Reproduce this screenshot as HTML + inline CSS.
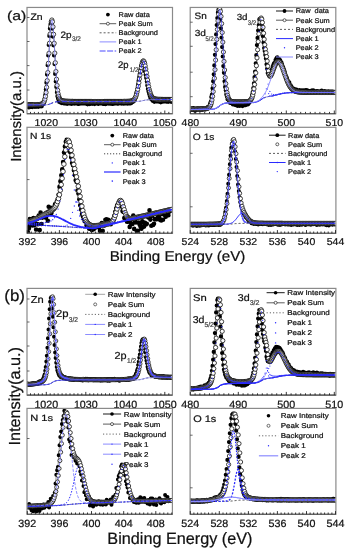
<!DOCTYPE html>
<html><head><meta charset="utf-8"><style>
html,body{margin:0;padding:0;background:#fff;}
svg{display:block;filter:blur(0.35px);}
text{font-family:'Liberation Sans',Arial,sans-serif;fill:#111;stroke:#111;stroke-width:0.22px;text-rendering:geometricPrecision;}
</style></head><body>
<svg width="349" height="550" viewBox="0 0 349 550">
<rect width="349" height="550" fill="#fff"/>
<clipPath id="caz"><rect x="27" y="7.45" width="145.5" height="106.25"/></clipPath><g clip-path="url(#caz)"><path d="M27.5 105 28.1 105 28.7 105 29.2 105 29.8 105 30.4 105 31 105 31.6 105 32.1 105 32.7 105 33.3 105 33.9 105 34.5 105 35 105 35.6 105 36.2 105 36.8 105 37.4 105 37.9 105 38.5 105 39.1 105 39.7 105 40.3 105 40.8 105 41.4 105 42 105 42.6 105 43.2 105 43.7 105 44.3 104.9 44.9 104.9 45.5 104.9 46.1 104.9 46.6 104.8 47.2 104.7 47.8 104.6 48.4 104.5 49 104.3 49.5 104.1 50.1 103.9 50.7 103.7 51.3 103.4 51.9 103.2 52.4 102.9 53 102.7 53.6 102.4 54.2 102.3 54.8 102.1 55.3 102 55.9 101.9 56.5 101.8 57.1 101.8 57.7 101.7 58.2 101.7 58.8 101.7 59.4 101.7 60 101.7 60.6 101.7 61.1 101.7 61.7 101.7 62.3 101.6 62.9 101.6 63.5 101.6 64 101.6 64.6 101.6 65.2 101.6 65.8 101.6 66.4 101.6 66.9 101.6 67.5 101.6 68.1 101.6 68.7 101.6 69.3 101.6 69.8 101.6 70.4 101.6 71 101.6 71.6 101.6 72.2 101.6 72.7 101.6 73.3 101.6 73.9 101.6 74.5 101.6 75.1 101.6 75.6 101.6 76.2 101.6 76.8 101.6 77.4 101.6 78 101.6 78.5 101.6 79.1 101.6 79.7 101.6 80.3 101.6 80.9 101.6 81.4 101.6 82 101.6 82.6 101.6 83.2 101.6 83.8 101.6 84.3 101.6 84.9 101.6 85.5 101.6 86.1 101.6 86.7 101.6 87.2 101.6 87.8 101.6 88.4 101.6 89 101.6 89.6 101.6 90.1 101.6 90.7 101.6 91.3 101.6 91.9 101.6 92.5 101.6 93 101.6 93.6 101.6 94.2 101.6 94.8 101.6 95.4 101.6 95.9 101.6 96.5 101.6 97.1 101.6 97.7 101.6 98.3 101.6 98.8 101.6 99.4 101.6 100 101.6 100.6 101.6 101.2 101.6 101.7 101.6 102.3 101.6 102.9 101.6 103.5 101.6 104.1 101.6 104.6 101.6 105.2 101.6 105.8 101.6 106.4 101.6 107 101.6 107.5 101.6 108.1 101.6 108.7 101.6 109.3 101.6 109.9 101.6 110.4 101.6 111 101.6 111.6 101.6 112.2 101.6 112.8 101.6 113.3 101.6 113.9 101.6 114.5 101.6 115.1 101.6 115.7 101.6 116.2 101.6 116.8 101.6 117.4 101.6 118 101.6 118.6 101.6 119.1 101.6 119.7 101.6 120.3 101.6 120.9 101.6 121.5 101.6 122 101.6 122.6 101.6 123.2 101.6 123.8 101.6 124.4 101.6 124.9 101.6 125.5 101.6 126.1 101.6 126.7 101.6 127.3 101.6 127.8 101.6 128.4 101.6 129 101.6 129.6 101.6 130.2 101.6 130.7 101.6 131.3 101.6 131.9 101.6 132.5 101.6 133.1 101.6 133.6 101.6 134.2 101.6 134.8 101.6 135.4 101.6 136 101.5 136.5 101.5 137.1 101.5 137.7 101.4 138.3 101.4 138.9 101.3 139.4 101.3 140 101.2 140.6 101.1 141.2 101 141.8 100.9 142.3 100.7 142.9 100.6 143.5 100.5 144.1 100.4 144.7 100.3 145.2 100.2 145.8 100.1 146.4 100 147 99.9 147.6 99.8 148.1 99.8 148.7 99.7 149.3 99.7 149.9 99.7 150.5 99.7 151 99.6 151.6 99.6 152.2 99.6 152.8 99.6 153.4 99.6 153.9 99.6 154.5 99.6 155.1 99.6 155.7 99.6 156.3 99.6 156.8 99.6 157.4 99.6 158 99.6 158.6 99.6 159.2 99.6 159.7 99.6 160.3 99.6 160.9 99.6 161.5 99.6 162.1 99.6 162.6 99.6 163.2 99.6 163.8 99.6 164.4 99.6 165 99.6 165.5 99.6 166.1 99.6 166.7 99.6 167.3 99.6 167.9 99.6 168.4 99.6 169 99.6 169.6 99.6 170.2 99.6 170.8 99.6 171.3 99.6 171.9 99.6" fill="none" stroke="#222" stroke-width="0.8" stroke-dasharray="2 2"/><path d="M27.5 104.9 28.1 104.9 28.7 104.9 29.2 104.8 29.8 104.8 30.4 104.8 31 104.8 31.6 104.8 32.1 104.8 32.7 104.8 33.3 104.8 33.9 104.8 34.5 104.7 35 104.7 35.6 104.7 36.2 104.7 36.8 104.7 37.4 104.6 37.9 104.6 38.5 104.6 39.1 104.5 39.7 104.5 40.3 104.4 40.8 104.3 41.4 104.2 42 104 42.6 103.7 43.2 103.2 43.7 102.4 44.3 101.1 44.9 99.2 45.5 96.4 46.1 92.5 46.6 87.3 47.2 80.6 47.8 72.5 48.4 63.3 49 53.3 49.5 43.2 50.1 34 50.7 26.5 51.3 21.7 51.9 20 52.4 21.8 53 26.8 53.6 34.3 54.2 43.3 54.8 53.1 55.3 62.7 55.9 71.5 56.5 79.2 57.1 85.4 57.7 90.3 58.2 93.9 58.8 96.4 59.4 98.2 60 99.3 60.6 100 61.1 100.5 61.7 100.7 62.3 100.9 62.9 101 63.5 101.1 64 101.1 64.6 101.2 65.2 101.2 65.8 101.3 66.4 101.3 66.9 101.3 67.5 101.3 68.1 101.3 68.7 101.4 69.3 101.4 69.8 101.4 70.4 101.4 71 101.4 71.6 101.4 72.2 101.4 72.7 101.4 73.3 101.5 73.9 101.5 74.5 101.5 75.1 101.5 75.6 101.5 76.2 101.5 76.8 101.5 77.4 101.5 78 101.5 78.5 101.5 79.1 101.5 79.7 101.5 80.3 101.5 80.9 101.5 81.4 101.5 82 101.5 82.6 101.5 83.2 101.5 83.8 101.5 84.3 101.5 84.9 101.5 85.5 101.5 86.1 101.5 86.7 101.5 87.2 101.5 87.8 101.5 88.4 101.5 89 101.5 89.6 101.5 90.1 101.5 90.7 101.5 91.3 101.5 91.9 101.6 92.5 101.6 93 101.6 93.6 101.6 94.2 101.6 94.8 101.6 95.4 101.6 95.9 101.6 96.5 101.6 97.1 101.6 97.7 101.6 98.3 101.6 98.8 101.6 99.4 101.6 100 101.6 100.6 101.6 101.2 101.6 101.7 101.6 102.3 101.6 102.9 101.6 103.5 101.6 104.1 101.6 104.6 101.5 105.2 101.5 105.8 101.5 106.4 101.5 107 101.5 107.5 101.5 108.1 101.5 108.7 101.5 109.3 101.5 109.9 101.5 110.4 101.5 111 101.5 111.6 101.5 112.2 101.5 112.8 101.5 113.3 101.5 113.9 101.5 114.5 101.5 115.1 101.5 115.7 101.5 116.2 101.5 116.8 101.5 117.4 101.5 118 101.5 118.6 101.5 119.1 101.5 119.7 101.5 120.3 101.5 120.9 101.5 121.5 101.5 122 101.5 122.6 101.5 123.2 101.5 123.8 101.4 124.4 101.4 124.9 101.4 125.5 101.4 126.1 101.4 126.7 101.4 127.3 101.4 127.8 101.4 128.4 101.3 129 101.3 129.6 101.3 130.2 101.2 130.7 101.2 131.3 101.1 131.9 100.9 132.5 100.7 133.1 100.5 133.6 100 134.2 99.5 134.8 98.6 135.4 97.5 136 96.1 136.5 94.3 137.1 92 137.7 89.3 138.3 86.2 138.9 82.7 139.4 78.9 140 75.1 140.6 71.2 141.2 67.7 141.8 64.8 142.3 62.5 142.9 61.2 143.5 60.9 144.1 61.7 144.7 63.4 145.2 66 145.8 69.1 146.4 72.7 147 76.4 147.6 80.1 148.1 83.5 148.7 86.7 149.3 89.5 149.9 91.8 150.5 93.7 151 95.2 151.6 96.4 152.2 97.3 152.8 97.9 153.4 98.4 153.9 98.7 154.5 98.9 155.1 99.1 155.7 99.2 156.3 99.2 156.8 99.3 157.4 99.3 158 99.3 158.6 99.4 159.2 99.4 159.7 99.4 160.3 99.4 160.9 99.4 161.5 99.4 162.1 99.4 162.6 99.5 163.2 99.5 163.8 99.5 164.4 99.5 165 99.5 165.5 99.5 166.1 99.5 166.7 99.5 167.3 99.5 167.9 99.5 168.4 99.5 169 99.5 169.6 99.5 170.2 99.5 170.8 99.5 171.3 99.5 171.9 99.5" fill="none" stroke="#333" stroke-width="0.8"/><path d="M26.7 106.9h0M27.3 106.7h0M27.9 106.7h0M28.4 106.1h0M29 107.4h0M29.6 107.2h0M30.2 106.7h0M30.8 107h0M31.3 106.9h0M31.9 106.6h0M32.5 107.1h0M33.1 106.7h0M33.7 106.6h0M34.2 106.5h0M34.8 106.8h0M35.4 106.7h0M36 106.8h0M36.6 106.5h0M37.1 106.6h0M37.7 106.3h0M38.3 106.8h0M38.9 106.5h0M39.5 106.5h0M40 106.5h0M40.6 105.9h0M41.2 106.2h0M41.8 106.3h0M42.4 104.7h0M42.9 103.9h0M43.5 102.7h0M44.1 101.5h0M44.7 98.5h0M45.3 94.8h0M45.8 89.5h0M46.4 82.7h0M47 74.6h0M47.6 65.2h0M48.2 55.5h0M48.7 44.9h0M49.3 35.9h0M49.9 28.6h0M50.5 24.2h0M51.1 21.8h0M51.6 23.5h0M52.2 28.6h0M52.8 36.6h0M53.4 45.3h0M54 55.5h0M54.5 64.1h0M55.1 73.9h0M55.7 81.5h0M56.3 87h0M56.9 92.3h0M57.4 96.2h0M58 98.5h0M58.6 100.5h0M59.2 102h0M59.8 102.1h0M60.3 102.4h0M60.9 102.5h0M61.5 103.1h0M62.1 103h0M62.7 103h0M63.2 103.1h0M63.8 103.4h0M64.4 102.9h0M65 102.8h0M65.6 102.6h0M66.1 103.7h0M66.7 103.4h0M67.3 103.8h0M67.9 103.4h0M68.5 103.2h0M69 103.5h0M69.6 103.4h0M70.2 103h0M70.8 103.2h0M71.4 104h0M71.9 103.6h0M72.5 103.6h0M73.1 103.4h0M73.7 103.3h0M74.3 103.7h0M74.8 103.5h0M75.4 103.3h0M76 103.5h0M76.6 103.2h0M77.2 103.6h0M77.7 103.8h0M78.3 103.3h0M78.9 103.9h0M79.5 103.3h0M80.1 103.6h0M80.6 103.3h0M81.2 103.5h0M81.8 103.5h0M82.4 103.4h0M83 103.3h0M83.5 103.3h0M84.1 103.3h0M84.7 103.1h0M85.3 103.5h0M85.9 103.7h0M86.4 103.8h0M87 103.7h0M87.6 104.3h0M88.2 103.6h0M88.8 103.4h0M89.3 104.1h0M89.9 103.2h0M90.5 103.8h0M91.1 103.3h0M91.7 103.7h0M92.2 103h0M92.8 103.8h0M93.4 103.5h0M94 103.3h0M94.6 104.1h0M95.1 103.8h0M95.7 103.6h0M96.3 103.3h0M96.9 103.5h0M97.5 103.5h0M98 103.8h0M98.6 103.8h0M99.2 103.4h0M99.8 103.4h0M100.4 103.4h0M100.9 103.1h0M101.5 103.4h0M102.1 103.5h0M102.7 103.8h0M103.3 103.9h0M103.8 103.3h0M104.4 103.7h0M105 103.4h0M105.6 104.2h0M106.2 103.5h0M106.7 103.7h0M107.3 103.3h0M107.9 103.3h0M108.5 103.6h0M109.1 103.4h0M109.6 103.6h0M110.2 103.1h0M110.8 103.7h0M111.4 103.3h0M112 104h0M112.5 103.4h0M113.1 103.9h0M113.7 103.1h0M114.3 103.6h0M114.9 103.3h0M115.4 103.4h0M116 103.5h0M116.6 103.4h0M117.2 103.6h0M117.8 103.7h0M118.3 103.7h0M118.9 103.5h0M119.5 103.1h0M120.1 103.2h0M120.7 103.4h0M121.2 102.8h0M121.8 103.7h0M122.4 103.4h0M123 103.4h0M123.6 103.7h0M124.1 103.6h0M124.7 103.5h0M125.3 103.1h0M125.9 103.5h0M126.5 103.5h0M127 103.1h0M127.6 103.7h0M128.2 103.5h0M128.8 102.7h0M129.4 103.3h0M129.9 102.8h0M130.5 103.4h0M131.1 103.2h0M131.7 102.4h0M132.3 102.2h0M132.8 102.1h0M133.4 101.4h0M134 101.1h0M134.6 99.8h0M135.2 98h0M135.7 96.5h0M136.3 93.4h0M136.9 91.4h0M137.5 88.5h0M138.1 84.6h0M138.6 80.7h0M139.2 77.2h0M139.8 73.8h0M140.4 69.8h0M141 66.4h0M141.5 65h0M142.1 62.6h0M142.7 63.1h0M143.3 63.5h0M143.9 65.7h0M144.4 67.7h0M145 71.5h0M145.6 74.8h0M146.2 77.9h0M146.8 81.5h0M147.3 85.5h0M147.9 89.1h0M148.5 91.5h0M149.1 93.8h0M149.7 95.7h0M150.2 97.5h0M150.8 98.5h0M151.4 99.4h0M152 99.6h0M152.6 100.7h0M153.1 101.1h0M153.7 100.5h0M154.3 101.8h0M154.9 101.4h0M155.5 101.1h0M156 100.7h0M156.6 101.5h0M157.2 101.5h0M157.8 101.2h0M158.4 100.8h0M158.9 101.7h0M159.5 101.2h0M160.1 101.3h0M160.7 102.3h0M161.3 102.1h0M161.8 101.7h0M162.4 101.3h0M163 101.7h0M163.6 100.8h0M164.2 101.5h0M164.7 101.3h0M165.3 101.1h0M165.9 101h0M166.5 101.7h0M167.1 101.5h0M167.6 101.6h0M168.2 101.8h0M168.8 101.3h0M169.4 101.1h0M170 101h0M170.5 101.4h0M171.1 101.8h0" stroke="#000" stroke-width="4.2" stroke-linecap="round" fill="none"/><marker id="ocaz" markerUnits="userSpaceOnUse" markerWidth="5.800000000000001" markerHeight="5.800000000000001" refX="2.9000000000000004" refY="2.9000000000000004" overflow="visible"><circle cx="2.9000000000000004" cy="2.9000000000000004" r="2.1" fill="#fff" stroke="#111" stroke-width="0.8"/></marker><path d="M27.5 104.9 28.1 104.9 28.7 104.9 29.2 104.8 29.8 104.8 30.4 104.8 31 104.8 31.6 104.8 32.1 104.8 32.7 104.8 33.3 104.8 33.9 104.8 34.5 104.7 35 104.7 35.6 104.7 36.2 104.7 36.8 104.7 37.4 104.6 37.9 104.6 38.5 104.6 39.1 104.5 39.7 104.5 40.3 104.4 40.8 104.3 41.4 104.2 42 104 42.6 103.7 43.2 103.2 43.7 102.4 44.3 101.1 44.9 99.2 45.5 96.4 46.1 92.5 46.6 87.3 47.2 80.6 47.8 72.5 48.4 63.3 49 53.3 49.5 43.2 50.1 34 50.7 26.5 51.3 21.7 51.9 20 52.4 21.8 53 26.8 53.6 34.3 54.2 43.3 54.8 53.1 55.3 62.7 55.9 71.5 56.5 79.2 57.1 85.4 57.7 90.3 58.2 93.9 58.8 96.4 59.4 98.2 60 99.3 60.6 100 61.1 100.5 61.7 100.7 62.3 100.9 62.9 101 63.5 101.1 64 101.1 64.6 101.2 65.2 101.2 65.8 101.3 66.4 101.3 66.9 101.3 67.5 101.3 68.1 101.3 68.7 101.4 69.3 101.4 69.8 101.4 70.4 101.4 71 101.4 71.6 101.4 72.2 101.4 72.7 101.4 73.3 101.5 73.9 101.5 74.5 101.5 75.1 101.5 75.6 101.5 76.2 101.5 76.8 101.5 77.4 101.5 78 101.5 78.5 101.5 79.1 101.5 79.7 101.5 80.3 101.5 80.9 101.5 81.4 101.5 82 101.5 82.6 101.5 83.2 101.5 83.8 101.5 84.3 101.5 84.9 101.5 85.5 101.5 86.1 101.5 86.7 101.5 87.2 101.5 87.8 101.5 88.4 101.5 89 101.5 89.6 101.5 90.1 101.5 90.7 101.5 91.3 101.5 91.9 101.6 92.5 101.6 93 101.6 93.6 101.6 94.2 101.6 94.8 101.6 95.4 101.6 95.9 101.6 96.5 101.6 97.1 101.6 97.7 101.6 98.3 101.6 98.8 101.6 99.4 101.6 100 101.6 100.6 101.6 101.2 101.6 101.7 101.6 102.3 101.6 102.9 101.6 103.5 101.6 104.1 101.6 104.6 101.5 105.2 101.5 105.8 101.5 106.4 101.5 107 101.5 107.5 101.5 108.1 101.5 108.7 101.5 109.3 101.5 109.9 101.5 110.4 101.5 111 101.5 111.6 101.5 112.2 101.5 112.8 101.5 113.3 101.5 113.9 101.5 114.5 101.5 115.1 101.5 115.7 101.5 116.2 101.5 116.8 101.5 117.4 101.5 118 101.5 118.6 101.5 119.1 101.5 119.7 101.5 120.3 101.5 120.9 101.5 121.5 101.5 122 101.5 122.6 101.5 123.2 101.5 123.8 101.4 124.4 101.4 124.9 101.4 125.5 101.4 126.1 101.4 126.7 101.4 127.3 101.4 127.8 101.4 128.4 101.3 129 101.3 129.6 101.3 130.2 101.2 130.7 101.2 131.3 101.1 131.9 100.9 132.5 100.7 133.1 100.5 133.6 100 134.2 99.5 134.8 98.6 135.4 97.5 136 96.1 136.5 94.3 137.1 92 137.7 89.3 138.3 86.2 138.9 82.7 139.4 78.9 140 75 140.6 71.2 141.2 67.7 141.8 64.8 142.3 62.5 142.9 61.2 143.5 60.9 144.1 61.7 144.7 63.4 145.2 65.9 145.8 69.1 146.4 72.7 147 76.4 147.6 80.1 148.1 83.5 148.7 86.7 149.3 89.5 149.9 91.8 150.5 93.7 151 95.2 151.6 96.4 152.2 97.3 152.8 97.9 153.4 98.4 153.9 98.7 154.5 98.9 155.1 99.1 155.7 99.2 156.3 99.2 156.8 99.3 157.4 99.3 158 99.3 158.6 99.4 159.2 99.4 159.7 99.4 160.3 99.4 160.9 99.4 161.5 99.4 162.1 99.4 162.6 99.5 163.2 99.5 163.8 99.5 164.4 99.5 165 99.5 165.5 99.5 166.1 99.5 166.7 99.5 167.3 99.5 167.9 99.5 168.4 99.5 169 99.5 169.6 99.5 170.2 99.5 170.8 99.5 171.3 99.5 171.9 99.5" fill="none" stroke="none" marker-start="url(#ocaz)" marker-mid="url(#ocaz)" marker-end="url(#ocaz)"/><path d="M27.5 104.9 28.1 104.9 28.7 104.9 29.2 104.9 29.8 104.8 30.4 104.8 31 104.8 31.6 104.8 32.1 104.8 32.7 104.8 33.3 104.8 33.9 104.8 34.5 104.7 35 104.7 35.6 104.7 36.2 104.7 36.8 104.7 37.4 104.6 37.9 104.6 38.5 104.6 39.1 104.5 39.7 104.5 40.3 104.4 40.8 104.3 41.4 104.2 42 104 42.6 103.7 43.2 103.2 43.7 102.4 44.3 101.1 44.9 99.2 45.5 96.4 46.1 92.5 46.6 87.3 47.2 80.6 47.8 72.5 48.4 63.3 49 53.3 49.5 43.2 50.1 34 50.7 26.5 51.3 21.7 51.9 20 52.4 21.8 53 26.8 53.6 34.3 54.2 43.3 54.8 53.1 55.3 62.7 55.9 71.5 56.5 79.2 57.1 85.4 57.7 90.3 58.2 93.9 58.8 96.4 59.4 98.2 60 99.3 60.6 100 61.1 100.5 61.7 100.7 62.3 100.9 62.9 101 63.5 101.1 64 101.2 64.6 101.2 65.2 101.2 65.8 101.3 66.4 101.3 66.9 101.3 67.5 101.3 68.1 101.4 68.7 101.4 69.3 101.4 69.8 101.4 70.4 101.4 71 101.4 71.6 101.4 72.2 101.5 72.7 101.5 73.3 101.5 73.9 101.5 74.5 101.5 75.1 101.5 75.6 101.5 76.2 101.5 76.8 101.5 77.4 101.5 78 101.5 78.5 101.5 79.1 101.5 79.7 101.5 80.3 101.5 80.9 101.5 81.4 101.5 82 101.5 82.6 101.5 83.2 101.5 83.8 101.5 84.3 101.6 84.9 101.6 85.5 101.6 86.1 101.6 86.7 101.6 87.2 101.6 87.8 101.6 88.4 101.6 89 101.6 89.6 101.6 90.1 101.6 90.7 101.6 91.3 101.6 91.9 101.6 92.5 101.6 93 101.6 93.6 101.6 94.2 101.6 94.8 101.6 95.4 101.6 95.9 101.6 96.5 101.6 97.1 101.6 97.7 101.6 98.3 101.6 98.8 101.6 99.4 101.6 100 101.6 100.6 101.6 101.2 101.6 101.7 101.6 102.3 101.6 102.9 101.6 103.5 101.6 104.1 101.6 104.6 101.6 105.2 101.6 105.8 101.6 106.4 101.6 107 101.6 107.5 101.6 108.1 101.6 108.7 101.6 109.3 101.6 109.9 101.6 110.4 101.6 111 101.6 111.6 101.6 112.2 101.6 112.8 101.6 113.3 101.6 113.9 101.6 114.5 101.6 115.1 101.6 115.7 101.6 116.2 101.6 116.8 101.6 117.4 101.6 118 101.6 118.6 101.6 119.1 101.6 119.7 101.6 120.3 101.6 120.9 101.6 121.5 101.6 122 101.6 122.6 101.6 123.2 101.6 123.8 101.6 124.4 101.6 124.9 101.6 125.5 101.6 126.1 101.6 126.7 101.6 127.3 101.6 127.8 101.6 128.4 101.6 129 101.6 129.6 101.6 130.2 101.6 130.7 101.6 131.3 101.6 131.9 101.6 132.5 101.6 133.1 101.6 133.6 101.6 134.2 101.6 134.8 101.6 135.4 101.5 136 101.5 136.5 101.5 137.1 101.5 137.7 101.4 138.3 101.4 138.9 101.3 139.4 101.3 140 101.2 140.6 101.1 141.2 101 141.8 100.9 142.3 100.7 142.9 100.6 143.5 100.5 144.1 100.4 144.7 100.3 145.2 100.1 145.8 100 146.4 100 147 99.9 147.6 99.8 148.1 99.8 148.7 99.7 149.3 99.7 149.9 99.7 150.5 99.7 151 99.6 151.6 99.6 152.2 99.6 152.8 99.6 153.4 99.6 153.9 99.6 154.5 99.6 155.1 99.6 155.7 99.6 156.3 99.6 156.8 99.6 157.4 99.6 158 99.6 158.6 99.6 159.2 99.6 159.7 99.6 160.3 99.6 160.9 99.6 161.5 99.6 162.1 99.6 162.6 99.6 163.2 99.6 163.8 99.6 164.4 99.6 165 99.6 165.5 99.6 166.1 99.6 166.7 99.6 167.3 99.6 167.9 99.6 168.4 99.6 169 99.6 169.6 99.6 170.2 99.6 170.8 99.6 171.3 99.6 171.9 99.6" fill="none" stroke="#8c8cff" stroke-width="0.8" /><path d="M27.5 105 28.1 105 28.7 105 29.2 105 29.8 105 30.4 105 31 105 31.6 105 32.1 105 32.7 105 33.3 105 33.9 105 34.5 105 35 105 35.6 105 36.2 105 36.8 105 37.4 105 37.9 105 38.5 105 39.1 105 39.7 105 40.3 105 40.8 105 41.4 105 42 105 42.6 105 43.2 105 43.7 104.9 44.3 104.9 44.9 104.9 45.5 104.9 46.1 104.9 46.6 104.8 47.2 104.7 47.8 104.6 48.4 104.5 49 104.3 49.5 104.1 50.1 103.9 50.7 103.7 51.3 103.4 51.9 103.1 52.4 102.9 53 102.7 53.6 102.4 54.2 102.3 54.8 102.1 55.3 102 55.9 101.9 56.5 101.8 57.1 101.8 57.7 101.7 58.2 101.7 58.8 101.7 59.4 101.7 60 101.7 60.6 101.6 61.1 101.6 61.7 101.6 62.3 101.6 62.9 101.6 63.5 101.6 64 101.6 64.6 101.6 65.2 101.6 65.8 101.6 66.4 101.6 66.9 101.6 67.5 101.6 68.1 101.6 68.7 101.6 69.3 101.6 69.8 101.6 70.4 101.6 71 101.6 71.6 101.6 72.2 101.6 72.7 101.6 73.3 101.6 73.9 101.6 74.5 101.6 75.1 101.6 75.6 101.6 76.2 101.6 76.8 101.6 77.4 101.6 78 101.6 78.5 101.6 79.1 101.6 79.7 101.6 80.3 101.6 80.9 101.6 81.4 101.6 82 101.6 82.6 101.6 83.2 101.6 83.8 101.6 84.3 101.6 84.9 101.6 85.5 101.6 86.1 101.6 86.7 101.6 87.2 101.6 87.8 101.6 88.4 101.6 89 101.6 89.6 101.6 90.1 101.6 90.7 101.6 91.3 101.6 91.9 101.6 92.5 101.6 93 101.6 93.6 101.6 94.2 101.6 94.8 101.6 95.4 101.6 95.9 101.6 96.5 101.6 97.1 101.6 97.7 101.6 98.3 101.6 98.8 101.6 99.4 101.6 100 101.6 100.6 101.6 101.2 101.6 101.7 101.6 102.3 101.6 102.9 101.6 103.5 101.6 104.1 101.6 104.6 101.6 105.2 101.6 105.8 101.6 106.4 101.6 107 101.6 107.5 101.6 108.1 101.6 108.7 101.6 109.3 101.6 109.9 101.6 110.4 101.6 111 101.6 111.6 101.6 112.2 101.6 112.8 101.6 113.3 101.5 113.9 101.5 114.5 101.5 115.1 101.5 115.7 101.5 116.2 101.5 116.8 101.5 117.4 101.5 118 101.5 118.6 101.5 119.1 101.5 119.7 101.5 120.3 101.5 120.9 101.5 121.5 101.5 122 101.5 122.6 101.5 123.2 101.5 123.8 101.5 124.4 101.5 124.9 101.4 125.5 101.4 126.1 101.4 126.7 101.4 127.3 101.4 127.8 101.4 128.4 101.4 129 101.3 129.6 101.3 130.2 101.2 130.7 101.2 131.3 101.1 131.9 101 132.5 100.8 133.1 100.5 133.6 100.1 134.2 99.5 134.8 98.7 135.4 97.6 136 96.1 136.5 94.3 137.1 92 137.7 89.3 138.3 86.2 138.9 82.7 139.4 78.9 140 75.1 140.6 71.3 141.2 67.8 141.8 64.8 142.3 62.5 142.9 61.2 143.5 60.9 144.1 61.7 144.7 63.4 145.2 66 145.8 69.1 146.4 72.7 147 76.4 147.6 80.1 148.1 83.6 148.7 86.7 149.3 89.5 149.9 91.8 150.5 93.7 151 95.3 151.6 96.4 152.2 97.3 152.8 97.9 153.4 98.4 153.9 98.7 154.5 98.9 155.1 99.1 155.7 99.2 156.3 99.2 156.8 99.3 157.4 99.3 158 99.4 158.6 99.4 159.2 99.4 159.7 99.4 160.3 99.4 160.9 99.4 161.5 99.4 162.1 99.5 162.6 99.5 163.2 99.5 163.8 99.5 164.4 99.5 165 99.5 165.5 99.5 166.1 99.5 166.7 99.5 167.3 99.5 167.9 99.5 168.4 99.5 169 99.5 169.6 99.5 170.2 99.5 170.8 99.5 171.3 99.5 171.9 99.5" fill="none" stroke="#2a2aff" stroke-width="1.0" stroke-dasharray="5 2"/></g><rect x="27" y="7.45" width="145.50" height="106.25" fill="none" stroke="#8a8a8a" stroke-width="1.2"/><path d="M27 113.7H172.5" stroke="#555" stroke-width="1.1"/><path d="M30.5 113.7v-1.8M34.4 113.7v-1.8M38.4 113.7v-1.8M42.3 113.7v-1.8M46.3 113.7v-3.2M50.2 113.7v-1.8M54.2 113.7v-1.8M58.1 113.7v-1.8M62.1 113.7v-1.8M66 113.7v-1.8M70 113.7v-1.8M74 113.7v-1.8M77.9 113.7v-1.8M81.8 113.7v-1.8M85.8 113.7v-3.2M89.8 113.7v-1.8M93.7 113.7v-1.8M97.7 113.7v-1.8M101.6 113.7v-1.8M105.5 113.7v-1.8M109.5 113.7v-1.8M113.5 113.7v-1.8M117.4 113.7v-1.8M121.3 113.7v-1.8M125.3 113.7v-3.2M129.2 113.7v-1.8M133.2 113.7v-1.8M137.2 113.7v-1.8M141.1 113.7v-1.8M145.1 113.7v-1.8M149 113.7v-1.8M152.9 113.7v-1.8M156.9 113.7v-1.8M160.9 113.7v-1.8M164.8 113.7v-3.2M168.8 113.7v-1.8" stroke="#222" stroke-width="0.9" fill="none"/><path d="M27 17.5h2.5M27 41.5h2.5M27 65.6h2.5M27 90h2.5" stroke="#444" stroke-width="0.8" fill="none"/><text transform="translate(46.30,125.9) scale(1.05,1)" font-size="10.0" text-anchor="middle">1020</text><text transform="translate(85.80,125.9) scale(1.05,1)" font-size="10.0" text-anchor="middle">1030</text><text transform="translate(125.30,125.9) scale(1.05,1)" font-size="10.0" text-anchor="middle">1040</text><text transform="translate(164.80,125.9) scale(1.05,1)" font-size="10.0" text-anchor="middle">1050</text><clipPath id="cas"><rect x="190.2" y="7.45" width="145.60000000000002" height="106.25"/></clipPath><g clip-path="url(#cas)"><path d="M190.7 109.5 191.3 109.5 191.9 109.5 192.5 109.5 193.1 109.5 193.7 109.5 194.3 109.5 194.9 109.5 195.5 109.5 196.1 109.5 196.7 109.5 197.3 109.5 197.9 109.5 198.5 109.5 199.1 109.5 199.7 109.5 200.3 109.5 200.9 109.5 201.5 109.5 202.1 109.5 202.7 109.5 203.3 109.5 203.9 109.5 204.5 109.5 205.1 109.5 205.7 109.4 206.3 109.4 206.9 109.4 207.5 109.4 208.1 109.4 208.7 109.4 209.3 109.4 209.9 109.4 210.5 109.4 211.1 109.3 211.7 109.3 212.3 109.3 212.9 109.2 213.5 109.1 214.1 109 214.7 108.8 215.3 108.6 215.9 108.4 216.5 108.1 217.1 107.7 217.7 107.3 218.3 106.9 218.9 106.5 219.5 106 220.1 105.6 220.7 105.1 221.3 104.7 221.9 104.4 222.5 104.1 223.1 103.8 223.7 103.6 224.3 103.4 224.9 103.3 225.5 103.2 226.1 103.1 226.7 103 227.3 103 227.9 103 228.5 102.9 229.1 102.9 229.7 102.9 230.3 102.9 230.9 102.9 231.5 102.9 232.1 102.9 232.7 102.9 233.3 102.9 233.9 102.9 234.5 102.9 235.1 102.9 235.7 102.9 236.3 102.8 236.9 102.8 237.5 102.8 238.1 102.8 238.7 102.8 239.3 102.8 239.9 102.8 240.5 102.8 241.1 102.8 241.7 102.8 242.3 102.8 242.9 102.8 243.5 102.8 244.1 102.8 244.7 102.8 245.3 102.8 245.9 102.8 246.5 102.8 247.1 102.8 247.7 102.8 248.3 102.8 248.9 102.8 249.5 102.7 250.1 102.7 250.7 102.7 251.3 102.7 251.9 102.7 252.5 102.7 253.1 102.6 253.7 102.6 254.3 102.5 254.9 102.4 255.5 102.3 256.1 102.1 256.7 101.9 257.3 101.7 257.9 101.4 258.5 101.1 259.1 100.8 259.7 100.5 260.3 100.1 260.9 99.7 261.5 99.3 262.1 99 262.7 98.6 263.3 98.3 263.9 98 264.5 97.7 265.1 97.5 265.7 97.3 266.3 97.1 266.9 96.9 267.5 96.8 268.1 96.6 268.7 96.5 269.3 96.4 269.9 96.3 270.5 96.2 271.1 96.1 271.7 96 272.3 95.9 272.9 95.8 273.5 95.7 274.1 95.5 274.7 95.4 275.3 95.3 275.9 95.1 276.5 95 277.1 94.8 277.7 94.7 278.3 94.5 278.9 94.4 279.5 94.2 280.1 94.1 280.7 93.9 281.3 93.8 281.9 93.7 282.5 93.5 283.1 93.4 283.7 93.3 284.3 93.2 284.9 93.1 285.5 93.1 286.1 93 286.7 92.9 287.3 92.9 287.9 92.8 288.5 92.8 289.1 92.8 289.7 92.7 290.3 92.7 290.9 92.7 291.5 92.7 292.1 92.6 292.7 92.6 293.3 92.6 293.9 92.6 294.5 92.6 295.1 92.6 295.7 92.6 296.3 92.6 296.9 92.6 297.5 92.6 298.1 92.6 298.7 92.6 299.3 92.6 299.9 92.6 300.5 92.6 301.1 92.6 301.7 92.5 302.3 92.5 302.9 92.5 303.5 92.5 304.1 92.5 304.7 92.5 305.3 92.5 305.9 92.5 306.5 92.5 307.1 92.5 307.7 92.5 308.3 92.5 308.9 92.5 309.5 92.5 310.1 92.5 310.7 92.5 311.3 92.5 311.9 92.5 312.5 92.5 313.1 92.5 313.7 92.5 314.3 92.5 314.9 92.5 315.5 92.5 316.1 92.5 316.7 92.5 317.3 92.5 317.9 92.5 318.5 92.5 319.1 92.5 319.7 92.5 320.3 92.5 320.9 92.5 321.5 92.5 322.1 92.5 322.7 92.5 323.3 92.5 323.9 92.5 324.5 92.5 325.1 92.5 325.7 92.5 326.3 92.5 326.9 92.5 327.5 92.5 328.1 92.5 328.7 92.5 329.3 92.5 329.9 92.5 330.5 92.5 331.1 92.5 331.7 92.5 332.3 92.5 332.9 92.5 333.5 92.5 334.1 92.5 334.7 92.5 335.3 92.5" fill="none" stroke="#222" stroke-width="0.8" stroke-dasharray="2 2"/><path d="M190.7 109.3 191.3 109.3 191.9 109.2 192.5 109.2 193.1 109.2 193.7 109.2 194.3 109.2 194.9 109.2 195.5 109.2 196.1 109.2 196.7 109.1 197.3 109.1 197.9 109.1 198.5 109.1 199.1 109.1 199.7 109 200.3 109 200.9 109 201.5 108.9 202.1 108.9 202.7 108.9 203.3 108.8 203.9 108.8 204.5 108.7 205.1 108.7 205.7 108.6 206.3 108.5 206.9 108.4 207.5 108.2 208.1 108 208.7 107.7 209.3 107.2 209.9 106.4 210.5 105.3 211.1 103.7 211.7 101.4 212.3 98.3 212.9 94.1 213.5 88.8 214.1 82.1 214.7 74.1 215.3 65 215.9 55 216.5 44.6 217.1 34.4 217.7 25 218.3 17.3 218.9 11.9 219.5 9.4 220.1 10 220.7 13.6 221.3 19.8 221.9 27.9 222.5 37.2 223.1 47.1 223.7 56.8 224.3 65.8 224.9 73.9 225.5 80.7 226.1 86.3 226.7 90.7 227.3 94.1 227.9 96.5 228.5 98.3 229.1 99.5 229.7 100.3 230.3 100.9 230.9 101.2 231.5 101.5 232.1 101.6 232.7 101.7 233.3 101.8 233.9 101.9 234.5 101.9 235.1 101.9 235.7 102 236.3 102 236.9 102 237.5 102 238.1 102 238.7 102 239.3 102 239.9 102 240.5 102 241.1 102 241.7 102 242.3 102 242.9 102 243.5 101.9 244.1 101.9 244.7 101.9 245.3 101.8 245.9 101.8 246.5 101.7 247.1 101.7 247.7 101.6 248.3 101.4 248.9 101.2 249.5 100.9 250.1 100.5 250.7 99.9 251.3 99.1 251.9 97.8 252.5 96.1 253.1 93.8 253.7 90.8 254.3 86.8 254.9 82 255.5 76.2 256.1 69.4 256.7 61.9 257.3 53.8 257.9 45.6 258.5 37.6 259.1 30.4 259.7 24.5 260.3 20.3 260.9 18.1 261.5 18.3 262.1 20.6 262.7 24.7 263.3 30.2 263.9 36.3 264.5 42.2 265.1 47.1 265.7 51.1 266.3 54.6 266.9 58.7 267.5 63.6 268.1 68.7 268.7 72.8 269.3 75.3 269.9 76.3 270.5 76.1 271.1 75.3 271.7 74.1 272.3 72.6 272.9 71 273.5 69.3 274.1 67.7 274.7 66.2 275.3 64.8 275.9 63.6 276.5 62.7 277.1 62 277.7 61.5 278.3 61.4 278.9 61.6 279.5 62.1 280.1 62.8 280.7 63.8 281.3 65 281.9 66.4 282.5 67.9 283.1 69.6 283.7 71.3 284.3 73 284.9 74.8 285.5 76.5 286.1 78.2 286.7 79.7 287.3 81.2 287.9 82.6 288.5 83.9 289.1 85.1 289.7 86.1 290.3 87.1 290.9 87.9 291.5 88.6 292.1 89.2 292.7 89.7 293.3 90.2 293.9 90.5 294.5 90.9 295.1 91.1 295.7 91.3 296.3 91.5 296.9 91.6 297.5 91.7 298.1 91.8 298.7 91.9 299.3 92 299.9 92 300.5 92.1 301.1 92.1 301.7 92.1 302.3 92.1 302.9 92.2 303.5 92.2 304.1 92.2 304.7 92.2 305.3 92.2 305.9 92.2 306.5 92.2 307.1 92.2 307.7 92.3 308.3 92.3 308.9 92.3 309.5 92.3 310.1 92.3 310.7 92.3 311.3 92.3 311.9 92.3 312.5 92.3 313.1 92.3 313.7 92.3 314.3 92.3 314.9 92.3 315.5 92.3 316.1 92.3 316.7 92.3 317.3 92.3 317.9 92.3 318.5 92.3 319.1 92.4 319.7 92.4 320.3 92.4 320.9 92.4 321.5 92.4 322.1 92.4 322.7 92.4 323.3 92.4 323.9 92.4 324.5 92.4 325.1 92.4 325.7 92.4 326.3 92.4 326.9 92.4 327.5 92.4 328.1 92.4 328.7 92.4 329.3 92.4 329.9 92.4 330.5 92.4 331.1 92.4 331.7 92.4 332.3 92.4 332.9 92.4 333.5 92.4 334.1 92.4 334.7 92.4 335.3 92.4" fill="none" stroke="#333" stroke-width="0.8"/><path d="M189.7 110.3h0M190.3 108h0M190.9 109.5h0M191.5 109h0M192.1 109h0M192.7 109.1h0M193.3 108.2h0M193.9 109.1h0M194.5 108.7h0M195.1 110.8h0M195.7 109.2h0M196.3 108.9h0M196.9 109h0M197.5 108.7h0M198.1 108.5h0M198.7 108.8h0M199.3 109.2h0M199.9 108.9h0M200.5 109.4h0M201.1 108.8h0M201.7 108.9h0M202.3 109.6h0M202.9 109.1h0M203.5 108.5h0M204.1 108.6h0M204.7 108.9h0M205.3 109.5h0M205.9 108.3h0M206.5 108.1h0M207.1 108.5h0M207.7 107.2h0M208.3 107h0M208.9 106.9h0M209.5 105.6h0M210.1 103.7h0M210.7 101.8h0M211.3 96.9h0M211.9 94.6h0M212.5 88.3h0M213.1 81.3h0M213.7 74.3h0M214.3 65.4h0M214.9 54.8h0M215.5 44.1h0M216.1 34.4h0M216.7 25h0M217.3 18h0M217.9 12.3h0M218.5 9.5h0M219.1 10.6h0M219.7 13.5h0M220.3 19.4h0M220.9 28.3h0M221.5 37.6h0M222.1 47.1h0M222.7 56.5h0M223.3 66.1h0M223.9 72.8h0M224.5 81.3h0M225.1 86.9h0M225.7 90.3h0M226.3 94.5h0M226.9 96.6h0M227.5 99.3h0M228.1 99.2h0M228.7 100.6h0M229.3 102.1h0M229.9 102.8h0M230.5 101.5h0M231.1 102.6h0M231.7 103.3h0M232.3 103.1h0M232.9 104.4h0M233.5 103.2h0M234.1 104.2h0M234.7 103.7h0M235.3 105.1h0M235.9 104.5h0M236.5 104.5h0M237.1 104h0M237.7 105.9h0M238.3 105.5h0M238.9 105.6h0M239.5 105.9h0M240.1 105.6h0M240.7 105.1h0M241.3 105.1h0M241.9 105.1h0M242.5 106.1h0M243.1 104.6h0M243.7 105h0M244.3 105h0M244.9 105.2h0M245.5 105.2h0M246.1 104.1h0M246.7 103.6h0M247.3 104.2h0M247.9 104.4h0M248.5 103.8h0M249.1 102.9h0M249.7 101.9h0M250.3 101.2h0M250.9 99.5h0M251.5 98.2h0M252.1 94.9h0M252.7 92.1h0M253.3 88h0M253.9 83.3h0M254.5 77.2h0M255.1 71.5h0M255.7 63.3h0M256.3 55.2h0M256.9 45.1h0M257.5 37.9h0M258.1 30.5h0M258.7 25h0M259.3 19.4h0M259.9 18.9h0M260.5 19h0M261.1 20h0M261.7 24.3h0M262.3 29.8h0M262.9 36.3h0M263.5 42.5h0M264.1 48.1h0M264.7 50.9h0M265.3 54.9h0M265.9 58.6h0M266.5 64.3h0M267.1 68.8h0M267.7 73.1h0M268.3 74.3h0M268.9 75.6h0M269.5 75.1h0M270.1 75.3h0M270.7 73.5h0M271.3 71.4h0M271.9 69.5h0M272.5 68.2h0M273.1 65.7h0M273.7 63.9h0M274.3 63h0M274.9 62.5h0M275.5 60h0M276.1 58.9h0M276.7 57.9h0M277.3 57.4h0M277.9 58.3h0M278.5 58.7h0M279.1 58.8h0M279.7 59.7h0M280.3 60.6h0M280.9 61.9h0M281.5 62.5h0M282.1 64.5h0M282.7 66.5h0M283.3 67.7h0M283.9 69.6h0M284.5 71.2h0M285.1 73.2h0M285.7 75.5h0M286.3 76.5h0M286.9 78.1h0M287.5 80.1h0M288.1 81.3h0M288.7 83.1h0M289.3 82.3h0M289.9 84.8h0M290.5 85.1h0M291.1 86.2h0M291.7 87.2h0M292.3 88h0M292.9 88.5h0M293.5 88.5h0M294.1 89.6h0M294.7 89h0M295.3 89.4h0M295.9 90.1h0M296.5 89.6h0M297.1 91.1h0M297.7 90.7h0M298.3 91.3h0M298.9 90.3h0M299.5 90.2h0M300.1 90.6h0M300.7 90.9h0M301.3 90.3h0M301.9 90.8h0M302.5 90.6h0M303.1 91.4h0M303.7 90.3h0M304.3 91.2h0M304.9 90.4h0M305.5 90.2h0M306.1 90.4h0M306.7 90.2h0M307.3 90.9h0M307.9 91.3h0M308.5 90.9h0M309.1 91.2h0M309.7 91.7h0M310.3 91.1h0M310.9 91.1h0M311.5 90.9h0M312.1 90.3h0M312.7 91.5h0M313.3 90.3h0M313.9 91.5h0M314.5 91.3h0M315.1 91.9h0M315.7 91.3h0M316.3 91h0M316.9 91.6h0M317.5 91.2h0M318.1 91.4h0M318.7 91.6h0M319.3 91.6h0M319.9 91.6h0M320.5 91.3h0M321.1 91.7h0M321.7 90.7h0M322.3 91.8h0M322.9 91.3h0M323.5 92.5h0M324.1 92.6h0M324.7 91h0M325.3 92.1h0M325.9 92h0M326.5 91.5h0M327.1 92.4h0M327.7 91.9h0M328.3 91.3h0M328.9 92h0M329.5 92.1h0M330.1 92.3h0M330.7 91.6h0M331.3 92.6h0M331.9 92.6h0M332.5 91.7h0M333.1 92h0M333.7 92.3h0M334.3 92h0" stroke="#000" stroke-width="4.2" stroke-linecap="round" fill="none"/><marker id="ocas" markerUnits="userSpaceOnUse" markerWidth="5.800000000000001" markerHeight="5.800000000000001" refX="2.9000000000000004" refY="2.9000000000000004" overflow="visible"><circle cx="2.9000000000000004" cy="2.9000000000000004" r="2.1" fill="#fff" stroke="#111" stroke-width="0.8"/></marker><path d="M191 109.3 191.6 109.2 192.2 109.2 192.8 109.2 193.4 109.2 194 109.2 194.6 109.2 195.2 109.2 195.8 109.2 196.4 109.1 197 109.1 197.6 109.1 198.2 109.1 198.8 109.1 199.4 109 200 109 200.6 109 201.2 109 201.8 108.9 202.4 108.9 203 108.9 203.6 108.8 204.2 108.8 204.8 108.7 205.4 108.6 206 108.6 206.6 108.5 207.2 108.3 207.8 108.1 208.4 107.9 209 107.4 209.6 106.8 210.2 105.9 210.8 104.6 211.4 102.7 212 100 212.6 96.3 213.2 91.6 213.8 85.6 214.4 78.3 215 69.7 215.6 60.1 216.2 49.8 216.8 39.4 217.4 29.5 218 20.9 218.6 14.3 219.2 10.3 219.8 9.3 220.4 11.4 221 16.4 221.6 23.6 222.2 32.5 222.8 42.1 223.4 52 224 61.4 224.6 70 225.2 77.5 225.8 83.7 226.4 88.7 227 92.5 227.6 95.4 228.2 97.5 228.8 99 229.4 100 230 100.6 230.6 101.1 231.2 101.4 231.8 101.6 232.4 101.7 233 101.8 233.6 101.8 234.2 101.9 234.8 101.9 235.4 102 236 102 236.6 102 237.2 102 237.8 102 238.4 102 239 102 239.6 102 240.2 102 240.8 102 241.4 102 242 102 242.6 102 243.2 102 243.8 101.9 244.4 101.9 245 101.9 245.6 101.8 246.2 101.8 246.8 101.7 247.4 101.6 248 101.5 248.6 101.3 249.2 101.1 249.8 100.8 250.4 100.3 251 99.5 251.6 98.5 252.2 97.1 252.8 95.1 253.4 92.4 254 88.9 254.6 84.5 255.2 79.2 255.8 72.9 256.4 65.7 257 57.9 257.6 49.7 258.2 41.6 258.8 33.9 259.4 27.3 260 22.1 260.6 19 261.2 18 261.8 19.2 262.4 22.5 263 27.3 263.6 33.2 264.2 39.3 264.8 44.8 265.4 49.2 266 52.8 266.6 56.6 267.2 61.1 267.8 66.2 268.4 70.9 269 74.3 269.6 76 270.2 76.3 270.8 75.8 271.4 74.7 272 73.4 272.6 71.8 273.2 70.2 273.8 68.5 274.4 67 275 65.5 275.6 64.2 276.2 63.1 276.8 62.3 277.4 61.7 278 61.5 278.6 61.5 279.2 61.8 279.8 62.4 280.4 63.3 281 64.4 281.6 65.7 282.2 67.2 282.8 68.7 283.4 70.4 284 72.2 284.6 73.9 285.2 75.6 285.8 77.3 286.4 79 287 80.5 287.6 82 288.2 83.3 288.8 84.5 289.4 85.6 290 86.6 290.6 87.5 291.2 88.3 291.8 88.9 292.4 89.5 293 90 293.6 90.4 294.2 90.7 294.8 91 295.4 91.2 296 91.4 296.6 91.6 297.2 91.7 297.8 91.8 298.4 91.9 299 91.9 299.6 92 300.2 92 300.8 92.1 301.4 92.1 302 92.1 302.6 92.1 303.2 92.2 303.8 92.2 304.4 92.2 305 92.2 305.6 92.2 306.2 92.2 306.8 92.2 307.4 92.2 308 92.3 308.6 92.3 309.2 92.3 309.8 92.3 310.4 92.3 311 92.3 311.6 92.3 312.2 92.3 312.8 92.3 313.4 92.3 314 92.3 314.6 92.3 315.2 92.3 315.8 92.3 316.4 92.3 317 92.3 317.6 92.3 318.2 92.3 318.8 92.4 319.4 92.4 320 92.4 320.6 92.4 321.2 92.4 321.8 92.4 322.4 92.4 323 92.4 323.6 92.4 324.2 92.4 324.8 92.4 325.4 92.4 326 92.4 326.6 92.4 327.2 92.4 327.8 92.4 328.4 92.4 329 92.4 329.6 92.4 330.2 92.4 330.8 92.4 331.4 92.4 332 92.4 332.6 92.4 333.2 92.4 333.8 92.4 334.4 92.4 335 92.4 335.6 92.4" fill="none" stroke="none" marker-start="url(#ocas)" marker-mid="url(#ocas)" marker-end="url(#ocas)"/><path d="M190.7 109.3 191.3 109.3 191.9 109.3 192.5 109.3 193.1 109.3 193.7 109.3 194.3 109.3 194.9 109.2 195.5 109.2 196.1 109.2 196.7 109.2 197.3 109.2 197.9 109.2 198.5 109.1 199.1 109.1 199.7 109.1 200.3 109.1 200.9 109 201.5 109 202.1 109 202.7 109 203.3 108.9 203.9 108.9 204.5 108.8 205.1 108.8 205.7 108.7 206.3 108.6 206.9 108.5 207.5 108.3 208.1 108.1 208.7 107.8 209.3 107.3 209.9 106.5 210.5 105.4 211.1 103.8 211.7 101.5 212.3 98.4 212.9 94.2 213.5 88.9 214.1 82.2 214.7 74.2 215.3 65.1 215.9 55.1 216.5 44.7 217.1 34.5 217.7 25.2 218.3 17.4 218.9 12 219.5 9.5 220.1 10.1 220.7 13.7 221.3 19.9 221.9 28 222.5 37.4 223.1 47.2 223.7 56.9 224.3 66 224.9 74 225.5 80.9 226.1 86.5 226.7 90.9 227.3 94.3 227.9 96.7 228.5 98.5 229.1 99.7 229.7 100.6 230.3 101.1 230.9 101.5 231.5 101.7 232.1 101.9 232.7 102 233.3 102.1 233.9 102.2 234.5 102.2 235.1 102.2 235.7 102.3 236.3 102.3 236.9 102.4 237.5 102.4 238.1 102.4 238.7 102.4 239.3 102.4 239.9 102.5 240.5 102.5 241.1 102.5 241.7 102.5 242.3 102.5 242.9 102.5 243.5 102.5 244.1 102.5 244.7 102.6 245.3 102.6 245.9 102.6 246.5 102.6 247.1 102.6 247.7 102.6 248.3 102.6 248.9 102.6 249.5 102.6 250.1 102.6 250.7 102.6 251.3 102.6 251.9 102.5 252.5 102.5 253.1 102.5 253.7 102.4 254.3 102.4 254.9 102.3 255.5 102.1 256.1 102 256.7 101.8 257.3 101.6 257.9 101.3 258.5 101 259.1 100.7 259.7 100.4 260.3 100 260.9 99.6 261.5 99.2 262.1 98.9 262.7 98.5 263.3 98.2 263.9 97.9 264.5 97.7 265.1 97.4 265.7 97.2 266.3 97 266.9 96.8 267.5 96.7 268.1 96.6 268.7 96.5 269.3 96.4 269.9 96.3 270.5 96.2 271.1 96.1 271.7 96 272.3 95.9 272.9 95.7 273.5 95.6 274.1 95.5 274.7 95.4 275.3 95.2 275.9 95.1 276.5 94.9 277.1 94.8 277.7 94.6 278.3 94.5 278.9 94.3 279.5 94.2 280.1 94 280.7 93.9 281.3 93.7 281.9 93.6 282.5 93.5 283.1 93.4 283.7 93.3 284.3 93.2 284.9 93.1 285.5 93 286.1 93 286.7 92.9 287.3 92.8 287.9 92.8 288.5 92.8 289.1 92.7 289.7 92.7 290.3 92.7 290.9 92.6 291.5 92.6 292.1 92.6 292.7 92.6 293.3 92.6 293.9 92.6 294.5 92.6 295.1 92.6 295.7 92.6 296.3 92.6 296.9 92.5 297.5 92.5 298.1 92.5 298.7 92.5 299.3 92.5 299.9 92.5 300.5 92.5 301.1 92.5 301.7 92.5 302.3 92.5 302.9 92.5 303.5 92.5 304.1 92.5 304.7 92.5 305.3 92.5 305.9 92.5 306.5 92.5 307.1 92.5 307.7 92.5 308.3 92.5 308.9 92.5 309.5 92.5 310.1 92.5 310.7 92.5 311.3 92.5 311.9 92.5 312.5 92.5 313.1 92.5 313.7 92.5 314.3 92.5 314.9 92.5 315.5 92.5 316.1 92.5 316.7 92.5 317.3 92.5 317.9 92.5 318.5 92.5 319.1 92.5 319.7 92.5 320.3 92.5 320.9 92.5 321.5 92.5 322.1 92.5 322.7 92.5 323.3 92.5 323.9 92.5 324.5 92.5 325.1 92.5 325.7 92.5 326.3 92.5 326.9 92.5 327.5 92.5 328.1 92.5 328.7 92.5 329.3 92.5 329.9 92.5 330.5 92.5 331.1 92.5 331.7 92.5 332.3 92.5 332.9 92.5 333.5 92.5 334.1 92.5 334.7 92.5 335.3 92.5" fill="none" stroke="#4a4aff" stroke-width="0.7" /><path d="M190.7 109.5h0M192.5 109.5h0M194.3 109.5h0M196.1 109.5h0M197.9 109.4h0M199.7 109.4h0M201.5 109.4h0M203.3 109.4h0M205.1 109.4h0M206.9 109.4h0M208.7 109.4h0M210.5 109.3h0M212.3 109.2h0M214.1 108.9h0M215.9 108.3h0M217.7 107.2h0M219.5 105.9h0M221.3 104.6h0M223.1 103.7h0M224.9 103.2h0M226.7 102.9h0M228.5 102.8h0M230.3 102.7h0M232.1 102.7h0M233.9 102.7h0M235.7 102.6h0M237.5 102.6h0M239.3 102.5h0M241.1 102.5h0M242.9 102.4h0M244.7 102.3h0M246.5 102.1h0M248.3 101.8h0M250.1 100.9h0M251.9 98.2h0M253.7 91.2h0M255.5 76.7h0M257.3 54.5h0M259.1 31.3h0M260.9 19.6h0M262.7 27.1h0M264.5 47.9h0M266.3 69.4h0M268.1 84.1h0M269.9 91.4h0M271.7 94h0M273.5 94.7h0M275.3 94.6h0M277.1 94.3h0M278.9 93.9h0M280.7 93.6h0M282.5 93.2h0M284.3 93h0M286.1 92.8h0M287.9 92.6h0M289.7 92.5h0M291.5 92.5h0M293.3 92.5h0M295.1 92.5h0M296.9 92.5h0M298.7 92.5h0M300.5 92.5h0M302.3 92.5h0M304.1 92.5h0M305.9 92.5h0M307.7 92.5h0M309.5 92.5h0M311.3 92.5h0M313.1 92.5h0M314.9 92.5h0M316.7 92.5h0M318.5 92.5h0M320.3 92.5h0M322.1 92.5h0M323.9 92.5h0M325.7 92.5h0M327.5 92.5h0M329.3 92.5h0M331.1 92.5h0M332.9 92.5h0M334.7 92.5h0" stroke="#2a2aff" stroke-width="1.2" stroke-linecap="round" fill="none"/><path d="M190.7 109.5h0M191.9 109.5h0M193.1 109.5h0M194.3 109.5h0M195.5 109.5h0M196.7 109.5h0M197.9 109.5h0M199.1 109.5h0M200.3 109.5h0M201.5 109.5h0M202.7 109.5h0M203.9 109.5h0M205.1 109.5h0M206.3 109.4h0M207.5 109.4h0M208.7 109.4h0M209.9 109.4h0M211.1 109.3h0M212.3 109.3h0M213.5 109.1h0M214.7 108.8h0M215.9 108.4h0M217.1 107.7h0M218.3 106.9h0M219.5 106h0M220.7 105.1h0M221.9 104.4h0M223.1 103.8h0M224.3 103.4h0M225.5 103.2h0M226.7 103h0M227.9 103h0M229.1 102.9h0M230.3 102.9h0M231.5 102.9h0M232.7 102.9h0M233.9 102.9h0M235.1 102.9h0M236.3 102.8h0M237.5 102.8h0M238.7 102.8h0M239.9 102.8h0M241.1 102.8h0M242.3 102.8h0M243.5 102.8h0M244.7 102.8h0M245.9 102.8h0M247.1 102.8h0M248.3 102.8h0M249.5 102.7h0M250.7 102.7h0M251.9 102.7h0M253.1 102.6h0M254.3 102.5h0M255.5 102.3h0M256.7 101.9h0M257.9 101.4h0M259.1 100.8h0M260.3 100.1h0M261.5 99.3h0M262.7 98.6h0M263.9 97.3h0M265.1 93.8h0M266.3 88.8h0M267.5 89h0M268.7 93.6h0M269.9 95.9h0M271.1 96.1h0M272.3 95.9h0M273.5 95.7h0M274.7 95.4h0M275.9 95.1h0M277.1 94.8h0M278.3 94.5h0M279.5 94.2h0M280.7 93.9h0M281.9 93.7h0M283.1 93.4h0M284.3 93.2h0M285.5 93.1h0M286.7 92.9h0M287.9 92.8h0M289.1 92.8h0M290.3 92.7h0M291.5 92.7h0M292.7 92.6h0M293.9 92.6h0M295.1 92.6h0M296.3 92.6h0M297.5 92.6h0M298.7 92.6h0M299.9 92.6h0M301.1 92.6h0M302.3 92.5h0M303.5 92.5h0M304.7 92.5h0M305.9 92.5h0M307.1 92.5h0M308.3 92.5h0M309.5 92.5h0M310.7 92.5h0M311.9 92.5h0M313.1 92.5h0M314.3 92.5h0M315.5 92.5h0M316.7 92.5h0M317.9 92.5h0M319.1 92.5h0M320.3 92.5h0M321.5 92.5h0M322.7 92.5h0M323.9 92.5h0M325.1 92.5h0M326.3 92.5h0M327.5 92.5h0M328.7 92.5h0M329.9 92.5h0M331.1 92.5h0M332.3 92.5h0M333.5 92.5h0M334.7 92.5h0" stroke="#2a2aff" stroke-width="1.2" stroke-linecap="round" fill="none"/><path d="M190.7 109.5 191.3 109.5 191.9 109.5 192.5 109.5 193.1 109.5 193.7 109.5 194.3 109.5 194.9 109.5 195.5 109.5 196.1 109.5 196.7 109.5 197.3 109.5 197.9 109.5 198.5 109.5 199.1 109.4 199.7 109.4 200.3 109.4 200.9 109.4 201.5 109.4 202.1 109.4 202.7 109.4 203.3 109.4 203.9 109.4 204.5 109.4 205.1 109.4 205.7 109.4 206.3 109.4 206.9 109.4 207.5 109.4 208.1 109.4 208.7 109.4 209.3 109.4 209.9 109.4 210.5 109.3 211.1 109.3 211.7 109.3 212.3 109.2 212.9 109.1 213.5 109 214.1 108.9 214.7 108.8 215.3 108.6 215.9 108.3 216.5 108 217.1 107.7 217.7 107.3 218.3 106.9 218.9 106.4 219.5 106 220.1 105.5 220.7 105.1 221.3 104.7 221.9 104.3 222.5 104 223.1 103.7 223.7 103.5 224.3 103.3 224.9 103.2 225.5 103.1 226.1 103 226.7 103 227.3 102.9 227.9 102.9 228.5 102.9 229.1 102.8 229.7 102.8 230.3 102.8 230.9 102.8 231.5 102.8 232.1 102.8 232.7 102.8 233.3 102.8 233.9 102.8 234.5 102.8 235.1 102.8 235.7 102.8 236.3 102.7 236.9 102.7 237.5 102.7 238.1 102.7 238.7 102.7 239.3 102.7 239.9 102.7 240.5 102.7 241.1 102.7 241.7 102.7 242.3 102.7 242.9 102.7 243.5 102.7 244.1 102.6 244.7 102.6 245.3 102.6 245.9 102.6 246.5 102.6 247.1 102.6 247.7 102.6 248.3 102.6 248.9 102.5 249.5 102.5 250.1 102.5 250.7 102.5 251.3 102.5 251.9 102.4 252.5 102.4 253.1 102.3 253.7 102.3 254.3 102.2 254.9 102 255.5 101.9 256.1 101.7 256.7 101.5 257.3 101.2 257.9 100.8 258.5 100.5 259.1 100 259.7 99.5 260.3 99 260.9 98.4 261.5 97.7 262.1 97.1 262.7 96.3 263.3 95.6 263.9 94.7 264.5 93.9 265.1 92.9 265.7 91.9 266.3 90.7 266.9 89.5 267.5 88.1 268.1 86.7 268.7 85.1 269.3 83.5 269.9 81.7 270.5 79.9 271.1 78 271.7 76.1 272.3 74.2 272.9 72.3 273.5 70.4 274.1 68.6 274.7 67 275.3 65.6 275.9 64.3 276.5 63.3 277.1 62.5 277.7 62.1 278.3 61.9 278.9 62.1 279.5 62.5 280.1 63.2 280.7 64.2 281.3 65.4 281.9 66.7 282.5 68.3 283.1 69.9 283.7 71.6 284.3 73.3 284.9 75 285.5 76.8 286.1 78.4 286.7 80 287.3 81.5 287.9 82.9 288.5 84.1 289.1 85.3 289.7 86.3 290.3 87.3 290.9 88.1 291.5 88.8 292.1 89.4 292.7 89.9 293.3 90.3 293.9 90.7 294.5 91 295.1 91.3 295.7 91.5 296.3 91.6 296.9 91.8 297.5 91.9 298.1 92 298.7 92 299.3 92.1 299.9 92.1 300.5 92.2 301.1 92.2 301.7 92.2 302.3 92.2 302.9 92.3 303.5 92.3 304.1 92.3 304.7 92.3 305.3 92.3 305.9 92.3 306.5 92.3 307.1 92.3 307.7 92.3 308.3 92.3 308.9 92.3 309.5 92.4 310.1 92.4 310.7 92.4 311.3 92.4 311.9 92.4 312.5 92.4 313.1 92.4 313.7 92.4 314.3 92.4 314.9 92.4 315.5 92.4 316.1 92.4 316.7 92.4 317.3 92.4 317.9 92.4 318.5 92.4 319.1 92.4 319.7 92.4 320.3 92.4 320.9 92.4 321.5 92.4 322.1 92.4 322.7 92.4 323.3 92.4 323.9 92.4 324.5 92.4 325.1 92.4 325.7 92.4 326.3 92.4 326.9 92.4 327.5 92.4 328.1 92.4 328.7 92.4 329.3 92.4 329.9 92.4 330.5 92.4 331.1 92.4 331.7 92.4 332.3 92.4 332.9 92.4 333.5 92.4 334.1 92.4 334.7 92.4 335.3 92.4" fill="none" stroke="#8c8cff" stroke-width="1.0" /></g><rect x="190.2" y="7.45" width="145.60" height="106.25" fill="none" stroke="#8a8a8a" stroke-width="1.2"/><path d="M190.2 113.7H335.8" stroke="#555" stroke-width="1.1"/><path d="M190.3 113.7v-3.2M195.1 113.7v-1.8M199.9 113.7v-1.8M204.7 113.7v-1.8M209.5 113.7v-1.8M214.3 113.7v-1.8M219.1 113.7v-1.8M223.9 113.7v-1.8M228.7 113.7v-1.8M233.5 113.7v-1.8M238.3 113.7v-3.2M243.1 113.7v-1.8M247.9 113.7v-1.8M252.7 113.7v-1.8M257.5 113.7v-1.8M262.3 113.7v-1.8M267.1 113.7v-1.8M271.9 113.7v-1.8M276.7 113.7v-1.8M281.5 113.7v-1.8M286.3 113.7v-3.2M291.1 113.7v-1.8M295.9 113.7v-1.8M300.7 113.7v-1.8M305.5 113.7v-1.8M310.3 113.7v-1.8M315.1 113.7v-1.8M319.9 113.7v-1.8M324.7 113.7v-1.8M329.5 113.7v-1.8M334.3 113.7v-3.2" stroke="#222" stroke-width="0.9" fill="none"/><path d="M190.2 22.2h2.5M190.2 46.3h2.5M190.2 72.2h2.5M190.2 96.7h2.5" stroke="#444" stroke-width="0.8" fill="none"/><text transform="translate(190.30,125.9) scale(1.05,1)" font-size="10.0" text-anchor="middle">480</text><text transform="translate(238.30,125.9) scale(1.05,1)" font-size="10.0" text-anchor="middle">490</text><text transform="translate(286.30,125.9) scale(1.05,1)" font-size="10.0" text-anchor="middle">500</text><text transform="translate(334.30,125.9) scale(1.05,1)" font-size="10.0" text-anchor="middle">510</text><clipPath id="can"><rect x="27" y="127.3" width="145.5" height="106.00000000000001"/></clipPath><g clip-path="url(#can)"><path d="M27.5 224.5 28.4 224.6 29.3 224.6 30.2 224.7 31.1 224.7 32 224.8 32.9 224.8 33.8 224.9 34.7 224.9 35.6 225 36.5 225 37.4 225.1 38.3 225.1 39.2 225.2 40.1 225.2 41 225.2 41.9 225.3 42.8 225.3 43.7 225.4 44.6 225.4 45.5 225.5 46.4 225.5 47.3 225.6 48.2 225.6 49.1 225.7 50 225.7 50.9 225.8 51.8 225.8 52.7 225.9 53.6 225.9 54.5 226 55.4 226 56.3 226.1 57.2 226.1 58.1 226.2 59 226.3 59.9 226.3 60.8 226.4 61.7 226.4 62.6 226.5 63.5 226.6 64.4 226.6 65.3 226.7 66.2 226.7 67.1 226.8 68 226.9 68.9 226.9 69.8 227 70.7 227 71.6 227.1 72.5 227.2 73.4 227.2 74.3 227.3 75.2 227.3 76.1 227.4 77 227.4 77.9 227.5 78.8 227.6 79.7 227.6 80.6 227.7 81.5 227.7 82.4 227.8 83.3 227.9 84.2 227.9 85.1 228 86 228 86.9 228.1 87.8 228.2 88.7 228.2 89.6 228.3 90.5 228.3 91.4 228.4 92.3 228.5 93.2 228.5 94.1 228.2 95 228 95.9 227.8 96.8 227.6 97.7 227.4 98.6 227.2 99.5 226.9 100.4 226.7 101.3 226.5 102.2 226.3 103.1 226.1 104 225.9 104.9 225.6 105.8 225.4 106.7 225.2 107.6 225 108.5 224.8 109.4 224.6 110.3 224.3 111.2 224.1 112.1 223.9 113 223.7 113.9 223.5 114.8 223.3 115.7 223 116.6 222.8 117.5 222.6 118.4 222.4 119.3 222.2 120.2 222 121.1 221.7 122 221.5 122.9 221.3 123.8 221.1 124.7 220.9 125.6 220.7 126.5 220.4 127.4 220.2 128.3 220 129.2 219.8 130.1 219.6 131 219.4 131.9 219.1 132.8 218.9 133.7 218.7 134.6 218.5 135.5 218.3 136.4 218.1 137.3 217.9 138.2 217.6 139.1 217.4 140 217.2 140.9 217 141.8 216.8 142.7 216.6 143.6 216.3 144.5 216.1 145.4 215.9 146.3 215.7 147.2 215.5 148.1 215.3 149 215.1 149.9 214.8 150.8 214.6 151.7 214.4 152.6 214.2 153.5 214 154.4 213.8 155.3 213.5 156.2 213.3 157.1 213.1 158 212.9 158.9 212.7 159.8 212.5 160.7 212.2 161.6 212 162.5 211.8 163.4 211.6 164.3 211.4 165.2 211.2 166.1 211 167 210.7 167.9 210.5 168.8 210.3 169.7 210.1 170.6 209.9 171.5 209.7" fill="none" stroke="#222" stroke-width="0.8" stroke-dasharray="2 2"/><path d="M27.5 222 28.4 221.8 29.3 221.6 30.2 221.3 31.1 221 32 220.7 32.9 220.3 33.8 220 34.7 219.6 35.6 219.1 36.5 218.7 37.4 218.3 38.3 217.8 39.2 217.3 40.1 216.8 41 216.3 41.9 215.8 42.8 215.3 43.7 214.8 44.6 214.3 45.5 213.8 46.4 213.3 47.3 212.9 48.2 212.4 49.1 211.9 50 211.4 50.9 210.9 51.8 210.4 52.7 209.7 53.6 208.9 54.5 207.9 55.4 206.7 56.3 205 57.2 202.9 58.1 200.2 59 196.8 59.9 192.6 60.8 187.6 61.7 181.7 62.6 175 63.5 167.8 64.4 160.4 65.3 153.2 66.2 147 67.1 142.6 68 140.5 68.9 141 69.8 143.7 70.7 147.9 71.6 152.8 72.5 157.7 73.4 162.3 74.3 166.6 75.2 170.7 76.1 174.8 77 179.1 77.9 183.7 78.8 188.7 79.7 193.8 80.6 199 81.5 204 82.4 208.5 83.3 212.5 84.2 215.8 85.1 218.5 86 220.6 86.9 222.1 87.8 223.2 88.7 224.1 89.6 224.7 90.5 225.1 91.4 225.5 92.3 225.8 93.2 226 94.1 226 95 225.9 95.9 225.8 96.8 225.7 97.7 225.6 98.6 225.5 99.5 225.3 100.4 225.2 101.3 225 102.2 224.9 103.1 224.7 104 224.6 104.9 224.4 105.8 224.2 106.7 224 107.6 223.8 108.5 223.6 109.4 223.3 110.3 222.9 111.2 222.4 112.1 221.7 113 220.6 113.9 219 114.8 216.7 115.7 213.9 116.6 210.6 117.5 207.1 118.4 204 119.3 201.6 120.2 200.5 121.1 200.8 122 202.6 122.9 205.3 123.8 208.3 124.7 211.3 125.6 213.9 126.5 215.8 127.4 217.2 128.3 218 129.2 218.4 130.1 218.6 131 218.6 131.9 218.5 132.8 218.3 133.7 218.2 134.6 218 135.5 217.8 136.4 217.6 137.3 217.4 138.2 217.2 139.1 217 140 216.8 140.9 216.6 141.8 216.4 142.7 216.2 143.6 216 144.5 215.8 145.4 215.6 146.3 215.4 147.2 215.2 148.1 215 149 214.8 149.9 214.6 150.8 214.4 151.7 214.1 152.6 213.9 153.5 213.7 154.4 213.5 155.3 213.3 156.2 213.1 157.1 212.9 158 212.7 158.9 212.5 159.8 212.3 160.7 212 161.6 211.8 162.5 211.6 163.4 211.4 164.3 211.2 165.2 211 166.1 210.8 167 210.6 167.9 210.4 168.8 210.1 169.7 209.9 170.6 209.7 171.5 209.5" fill="none" stroke="#333" stroke-width="0.8"/><path d="M26.2 223.4h0M27.1 225.3h0M28 232.6h0M28.9 228.4h0M29.8 219.1h0M30.7 225.4h0M31.6 222.7h0M32.5 225.5h0M33.4 218.1h0M34.3 225.1h0M35.2 224.6h0M36.1 229.5h0M37 224h0M37.9 224.2h0M38.8 215.6h0M39.7 230h0M40.6 212.6h0M41.5 224h0M42.4 217.6h0M43.3 214.8h0M44.2 215h0M45.1 214.2h0M46 217.8h0M46.9 215.1h0M47.8 220.8h0M48.7 206.8h0M49.6 213.4h0M50.5 209.1h0M51.4 212.9h0M52.3 207.9h0M53.2 209.2h0M54.1 208.5h0M55 204.4h0M55.9 205.6h0M56.8 201.6h0M57.7 199.2h0M58.6 194.8h0M59.5 186.9h0M60.4 181.2h0M61.3 175.3h0M62.2 169.4h0M63.1 162h0M64 152.6h0M64.9 146.5h0M65.8 141.7h0M66.7 139.9h0M67.6 140.9h0M68.5 143.7h0M69.4 150.9h0M70.3 152.2h0M71.2 157.3h0M72.1 163h0M73 165.3h0M73.9 170.2h0M74.8 174.9h0M75.7 180.2h0M76.6 181.9h0M77.5 190.6h0M78.4 193.4h0M79.3 199.3h0M80.2 205.2h0M81.1 209.5h0M82 214.1h0M82.9 216.2h0M83.8 218.6h0M84.7 221.2h0M85.6 220.9h0M86.5 225.3h0M87.4 223.4h0M88.3 223.5h0M89.2 228.8h0M90.1 226.2h0M91 225.3h0M91.9 230h0M92.8 227.1h0M93.7 229.2h0M94.6 226.7h0M95.5 227.6h0M96.4 225.7h0M97.3 225.4h0M98.2 226.6h0M99.1 227.5h0M100 230.9h0M100.9 237.1h0M101.8 223h0M102.7 230.9h0M103.6 224.1h0M104.5 225.5h0M105.4 219.8h0M106.3 219.4h0M107.2 221.8h0M108.1 219.8h0M109 224.1h0M109.9 220.7h0M110.8 224.2h0M111.7 221.8h0M112.6 220.2h0M113.5 219.2h0M114.4 215.7h0M115.3 211.8h0M116.2 208.3h0M117.1 205.2h0M118 204.4h0M118.9 203h0M119.8 203h0M120.7 205.4h0M121.6 206.6h0M122.5 211.1h0M123.4 211.9h0M124.3 218h0M125.2 218.6h0M126.1 220.2h0M127 221.7h0M127.9 221.6h0M128.8 220.9h0M129.7 226.9h0M130.6 222.7h0M131.5 218.6h0M132.4 224h0M133.3 215.5h0M134.2 228.9h0M135.1 221.6h0M136 222.4h0M136.9 231.3h0M137.8 230.8h0M138.7 222.6h0M139.6 224.6h0M140.5 226.4h0M141.4 228.7h0M142.3 221.4h0M143.2 222.4h0M144.1 226.6h0M145 222.7h0M145.9 224.5h0M146.8 223.8h0M147.7 216.7h0M148.6 217.6h0M149.5 210.3h0M150.4 219.6h0M151.3 225.8h0M152.2 215.8h0M153.1 224.9h0M154 223.7h0M154.9 219.2h0M155.8 219.1h0M156.7 219.2h0M157.6 215.1h0M158.5 217.1h0M159.4 217.7h0M160.3 220h0M161.2 220.4h0M162.1 213.9h0M163 219.8h0M163.9 213h0M164.8 215.1h0M165.7 216.8h0M166.6 214.9h0M167.5 214h0M168.4 215.2h0M169.3 211.6h0M170.2 210.8h0" stroke="#000" stroke-width="4.6" stroke-linecap="round" fill="none"/><marker id="ocan" markerUnits="userSpaceOnUse" markerWidth="6.199999999999999" markerHeight="6.199999999999999" refX="3.0999999999999996" refY="3.0999999999999996" overflow="visible"><circle cx="3.0999999999999996" cy="3.0999999999999996" r="2.3" fill="#fff" stroke="#111" stroke-width="0.8"/></marker><path d="M27.9 221.9 28.8 221.7 29.7 221.4 30.6 221.1 31.5 220.8 32.4 220.5 33.3 220.1 34.2 219.8 35.1 219.4 36 218.9 36.9 218.5 37.8 218 38.7 217.5 39.6 217.1 40.5 216.6 41.4 216.1 42.3 215.6 43.2 215.1 44.1 214.6 45 214.1 45.9 213.6 46.8 213.1 47.7 212.6 48.6 212.2 49.5 211.7 50.4 211.2 51.3 210.6 52.2 210 53.1 209.3 54 208.4 54.9 207.3 55.8 205.9 56.7 204 57.6 201.6 58.5 198.6 59.4 194.8 60.3 190.2 61.2 184.7 62.1 178.4 63 171.5 63.9 164.1 64.8 156.7 65.7 150 66.6 144.5 67.5 141.2 68.4 140.4 69.3 142.1 70.2 145.7 71.1 150.3 72 155.2 72.9 160 73.8 164.5 74.7 168.7 75.6 172.8 76.5 176.9 77.4 181.4 78.3 186.2 79.2 191.2 80.1 196.4 81 201.5 81.9 206.3 82.8 210.6 83.7 214.3 84.6 217.3 85.5 219.6 86.4 221.4 87.3 222.7 88.2 223.7 89.1 224.4 90 224.9 90.9 225.3 91.8 225.7 92.7 225.9 93.6 226 94.5 225.9 95.4 225.8 96.3 225.7 97.2 225.6 98.1 225.5 99 225.4 99.9 225.3 100.8 225.1 101.7 225 102.6 224.8 103.5 224.6 104.4 224.5 105.3 224.3 106.2 224.1 107.1 223.9 108 223.7 108.9 223.4 109.8 223.1 110.7 222.7 111.6 222.1 112.5 221.2 113.4 219.8 114.3 217.9 115.2 215.4 116.1 212.3 117 208.9 117.9 205.5 118.8 202.6 119.7 200.8 120.6 200.5 121.5 201.6 122.4 203.8 123.3 206.8 124.2 209.8 125.1 212.6 126 214.9 126.9 216.6 127.8 217.6 128.7 218.2 129.6 218.5 130.5 218.6 131.4 218.5 132.3 218.4 133.2 218.3 134.1 218.1 135 217.9 135.9 217.7 136.8 217.5 137.7 217.3 138.6 217.1 139.5 216.9 140.4 216.7 141.3 216.5 142.2 216.3 143.1 216.1 144 215.9 144.9 215.7 145.8 215.5 146.7 215.3 147.6 215.1 148.5 214.9 149.4 214.7 150.3 214.5 151.2 214.3 152.1 214 153 213.8 153.9 213.6 154.8 213.4 155.7 213.2 156.6 213 157.5 212.8 158.4 212.6 159.3 212.4 160.2 212.2 161.1 211.9 162 211.7 162.9 211.5 163.8 211.3 164.7 211.1 165.6 210.9 166.5 210.7 167.4 210.5 168.3 210.2 169.2 210 170.1 209.8 171 209.6 171.9 209.5" fill="none" stroke="none" marker-start="url(#ocan)" marker-mid="url(#ocan)" marker-end="url(#ocan)"/><path d="M27.5 223.6h0M29.3 223.6h0M31.1 223.6h0M32.9 223.6h0M34.7 223.5h0M36.5 223.5h0M38.3 223.4h0M40.1 223.3h0M41.9 223.1h0M43.7 222.9h0M45.5 222.6h0M47.3 222.2h0M49.1 221.7h0M50.9 220.9h0M52.7 219.7h0M54.5 217.7h0M56.3 214.5h0M58.1 209.1h0M59.9 200.9h0M61.7 189.2h0M63.5 174.7h0M65.3 159.6h0M67.1 149.3h0M68.9 149.4h0M70.7 160h0M72.5 175.3h0M74.3 190h0M76.1 201.9h0M77.9 210.4h0M79.7 216h0M81.5 219.5h0M83.3 221.7h0M85.1 223.1h0M86.9 224.1h0M88.7 224.8h0M90.5 225.4h0M92.3 226h0M94.1 226.1h0M95.9 225.9h0M97.7 225.7h0M99.5 225.4h0M101.3 225.1h0M103.1 224.8h0M104.9 224.5h0M106.7 224.2h0M108.5 223.8h0M110.3 223.5h0M112.1 223.1h0M113.9 222.7h0M115.7 222.4h0M117.5 222h0M119.3 221.6h0M121.1 221.2h0M122.9 220.8h0M124.7 220.4h0M126.5 220h0M128.3 219.6h0M130.1 219.2h0M131.9 218.8h0M133.7 218.4h0M135.5 217.9h0M137.3 217.5h0M139.1 217.1h0M140.9 216.7h0M142.7 216.3h0M144.5 215.9h0M146.3 215.4h0M148.1 215h0M149.9 214.6h0M151.7 214.2h0M153.5 213.8h0M155.3 213.3h0M157.1 212.9h0M158.9 212.5h0M160.7 212.1h0M162.5 211.6h0M164.3 211.2h0M166.1 210.8h0M167.9 210.4h0M169.7 209.9h0M171.5 209.5h0" stroke="#2a2aff" stroke-width="1.3" stroke-linecap="round" fill="none"/><path d="M27.5 223 28.4 222.8 29.3 222.6 30.2 222.4 31.1 222.1 32 221.9 32.9 221.6 33.8 221.3 34.7 220.9 35.6 220.6 36.5 220.2 37.4 219.9 38.3 219.5 39.2 219.1 40.1 218.7 41 218.4 41.9 218 42.8 217.6 43.7 217.3 44.6 217 45.5 216.7 46.4 216.5 47.3 216.2 48.2 216.1 49.1 215.9 50 215.9 50.9 215.8 51.8 215.8 52.7 215.9 53.6 216 54.5 216.2 55.4 216.4 56.3 216.6 57.2 216.9 58.1 217.3 59 217.7 59.9 218.1 60.8 218.5 61.7 219 62.6 219.4 63.5 219.9 64.4 220.4 65.3 220.9 66.2 221.4 67.1 221.8 68 222.3 68.9 222.8 69.8 223.2 70.7 223.6 71.6 224 72.5 224.4 73.4 224.8 74.3 225.1 75.2 225.4 76.1 225.7 77 226 77.9 226.2 78.8 226.5 79.7 226.7 80.6 226.9 81.5 227.1 82.4 227.2 83.3 227.4 84.2 227.5 85.1 227.6 86 227.8 86.9 227.9 87.8 228 88.7 228.1 89.6 228.1 90.5 228.2 91.4 228.3 92.3 228.4 93.2 228.4 94.1 228.2 95 228 95.9 227.8 96.8 227.6 97.7 227.4 98.6 227.1 99.5 226.9 100.4 226.7 101.3 226.5 102.2 226.3 103.1 226.1 104 225.8 104.9 225.6 105.8 225.4 106.7 225.2 107.6 225 108.5 224.8 109.4 224.6 110.3 224.3 111.2 224.1 112.1 223.9 113 223.7 113.9 223.5 114.8 223.3 115.7 223 116.6 222.8 117.5 222.6 118.4 222.4 119.3 222.2 120.2 222 121.1 221.7 122 221.5 122.9 221.3 123.8 221.1 124.7 220.9 125.6 220.7 126.5 220.4 127.4 220.2 128.3 220 129.2 219.8 130.1 219.6 131 219.4 131.9 219.1 132.8 218.9 133.7 218.7 134.6 218.5 135.5 218.3 136.4 218.1 137.3 217.9 138.2 217.6 139.1 217.4 140 217.2 140.9 217 141.8 216.8 142.7 216.6 143.6 216.3 144.5 216.1 145.4 215.9 146.3 215.7 147.2 215.5 148.1 215.3 149 215.1 149.9 214.8 150.8 214.6 151.7 214.4 152.6 214.2 153.5 214 154.4 213.8 155.3 213.5 156.2 213.3 157.1 213.1 158 212.9 158.9 212.7 159.8 212.5 160.7 212.2 161.6 212 162.5 211.8 163.4 211.6 164.3 211.4 165.2 211.2 166.1 211 167 210.7 167.9 210.5 168.8 210.3 169.7 210.1 170.6 209.9 171.5 209.7" fill="none" stroke="#2a2aff" stroke-width="1.8" /><path d="M27.5 224.5h0M29.3 224.6h0M31.1 224.7h0M32.9 224.8h0M34.7 224.9h0M36.5 225h0M38.3 225.1h0M40.1 225.2h0M41.9 225.3h0M43.7 225.4h0M45.5 225.5h0M47.3 225.6h0M49.1 225.7h0M50.9 225.8h0M52.7 225.9h0M54.5 226h0M56.3 226.1h0M58.1 226.2h0M59.9 226.3h0M61.7 226.4h0M63.5 226.4h0M65.3 226.1h0M67.1 225.1h0M68.9 222.7h0M70.7 218.4h0M72.5 212.3h0M74.3 206h0M76.1 202h0M77.9 202.1h0M79.7 206.4h0M81.5 212.9h0M83.3 219.2h0M85.1 223.8h0M86.9 226.4h0M88.7 227.6h0M90.5 228.2h0M92.3 228.4h0M94.1 228.2h0M95.9 227.8h0M97.7 227.4h0M99.5 226.9h0M101.3 226.5h0M103.1 226.1h0M104.9 225.6h0M106.7 225.2h0M108.5 224.8h0M110.3 224.3h0M112.1 223.9h0M113.9 223.5h0M115.7 223h0M117.5 222.6h0M119.3 222.2h0M121.1 221.7h0M122.9 221.3h0M124.7 220.9h0M126.5 220.4h0M128.3 220h0M130.1 219.6h0M131.9 219.1h0M133.7 218.7h0M135.5 218.3h0M137.3 217.9h0M139.1 217.4h0M140.9 217h0M142.7 216.6h0M144.5 216.1h0M146.3 215.7h0M148.1 215.3h0M149.9 214.8h0M151.7 214.4h0M153.5 214h0M155.3 213.5h0M157.1 213.1h0M158.9 212.7h0M160.7 212.2h0M162.5 211.8h0M164.3 211.4h0M166.1 211h0M167.9 210.5h0M169.7 210.1h0M171.5 209.7h0" stroke="#2a2aff" stroke-width="1.3" stroke-linecap="round" fill="none"/><path d="M27.5 224.5h0M29.3 224.6h0M31.1 224.7h0M32.9 224.8h0M34.7 224.9h0M36.5 225h0M38.3 225.1h0M40.1 225.2h0M41.9 225.3h0M43.7 225.4h0M45.5 225.5h0M47.3 225.6h0M49.1 225.7h0M50.9 225.8h0M52.7 225.9h0M54.5 226h0M56.3 226.1h0M58.1 226.2h0M59.9 226.3h0M61.7 226.4h0M63.5 226.5h0M65.3 226.7h0M67.1 226.8h0M68.9 226.9h0M70.7 227h0M72.5 227.1h0M74.3 227.3h0M76.1 227.4h0M77.9 227.5h0M79.7 227.6h0M81.5 227.7h0M83.3 227.8h0M85.1 228h0M86.9 228.1h0M88.7 228.2h0M90.5 228.3h0M92.3 228.4h0M94.1 228.2h0M95.9 227.7h0M97.7 227.3h0M99.5 226.9h0M101.3 226.4h0M103.1 226h0M104.9 225.5h0M106.7 225h0M108.5 224.5h0M110.3 223.8h0M112.1 222.5h0M113.9 219.7h0M115.7 214.6h0M117.5 207.8h0M119.3 202.1h0M121.1 201.4h0M122.9 205.8h0M124.7 211.8h0M126.5 216.3h0M128.3 218.4h0M130.1 219h0M131.9 218.9h0M133.7 218.5h0M135.5 218.1h0M137.3 217.7h0M139.1 217.3h0M140.9 216.9h0M142.7 216.5h0M144.5 216.1h0M146.3 215.6h0M148.1 215.2h0M149.9 214.8h0M151.7 214.4h0M153.5 213.9h0M155.3 213.5h0M157.1 213.1h0M158.9 212.7h0M160.7 212.2h0M162.5 211.8h0M164.3 211.4h0M166.1 210.9h0M167.9 210.5h0M169.7 210.1h0M171.5 209.6h0" stroke="#2a2aff" stroke-width="1.3" stroke-linecap="round" fill="none"/></g><rect x="27" y="127.3" width="145.50" height="106.00" fill="none" stroke="#8a8a8a" stroke-width="1.2"/><path d="M27 233.3H172.5" stroke="#555" stroke-width="1.1"/><path d="M27.3 233.3v-3.2M31.3 233.3v-1.8M35.3 233.3v-1.8M39.3 233.3v-1.8M43.4 233.3v-1.8M47.4 233.3v-1.8M51.4 233.3v-1.8M55.4 233.3v-1.8M59.4 233.3v-3.2M63.4 233.3v-1.8M67.5 233.3v-1.8M71.5 233.3v-1.8M75.5 233.3v-1.8M79.5 233.3v-1.8M83.5 233.3v-1.8M87.5 233.3v-1.8M91.5 233.3v-3.2M95.6 233.3v-1.8M99.6 233.3v-1.8M103.6 233.3v-1.8M107.6 233.3v-1.8M111.6 233.3v-1.8M115.6 233.3v-1.8M119.6 233.3v-1.8M123.7 233.3v-3.2M127.7 233.3v-1.8M131.7 233.3v-1.8M135.7 233.3v-1.8M139.7 233.3v-1.8M143.7 233.3v-1.8M147.8 233.3v-1.8M151.8 233.3v-1.8M155.8 233.3v-3.2M159.8 233.3v-1.8M163.8 233.3v-1.8M167.8 233.3v-1.8M171.8 233.3v-1.8" stroke="#222" stroke-width="0.9" fill="none"/><path d="M27 179.6h2.5" stroke="#444" stroke-width="0.8" fill="none"/><text transform="translate(27.30,245.4) scale(1.05,1)" font-size="10.0" text-anchor="middle">392</text><text transform="translate(59.42,245.4) scale(1.05,1)" font-size="10.0" text-anchor="middle">396</text><text transform="translate(91.54,245.4) scale(1.05,1)" font-size="10.0" text-anchor="middle">400</text><text transform="translate(123.66,245.4) scale(1.05,1)" font-size="10.0" text-anchor="middle">404</text><text transform="translate(155.78,245.4) scale(1.05,1)" font-size="10.0" text-anchor="middle">408</text><clipPath id="cao"><rect x="190.1" y="127.3" width="145.79999999999998" height="106.00000000000001"/></clipPath><g clip-path="url(#cao)"><path d="M190.6 224.3 191.3 224.3 192.1 224.3 192.8 224.3 193.6 224.3 194.3 224.3 195.1 224.3 195.8 224.3 196.6 224.3 197.3 224.3 198.1 224.3 198.8 224.3 199.6 224.3 200.3 224.3 201.1 224.3 201.8 224.3 202.6 224.3 203.3 224.3 204.1 224.3 204.8 224.3 205.6 224.3 206.3 224.3 207.1 224.3 207.8 224.3 208.6 224.3 209.3 224.3 210.1 224.3 210.8 224.3 211.6 224.3 212.3 224.3 213.1 224.3 213.8 224.3 214.6 224.3 215.3 224.3 216.1 224.3 216.8 224.3 217.6 224.3 218.3 224.3 219.1 224.3 219.8 224.3 220.6 224.3 221.3 224.3 222.1 224.3 222.8 224.3 223.6 224.3 224.3 224.3 225.1 224.3 225.8 224.3 226.6 224.3 227.3 224.2 228.1 224.2 228.8 224.2 229.6 224.1 230.3 224.1 231.1 224 231.8 224 232.6 223.9 233.3 223.8 234.1 223.8 234.8 223.7 235.6 223.6 236.3 223.6 237.1 223.5 237.8 223.5 238.6 223.5 239.3 223.4 240.1 223.4 240.8 223.4 241.6 223.4 242.3 223.4 243.1 223.4 243.8 223.4 244.6 223.3 245.3 223.3 246.1 223.3 246.8 223.3 247.6 223.3 248.3 223.3 249.1 223.3 249.8 223.3 250.6 223.3 251.3 223.3 252.1 223.3 252.8 223.3 253.6 223.3 254.3 223.3 255.1 223.3 255.8 223.3 256.6 223.3 257.4 223.3 258.1 223.3 258.9 223.3 259.6 223.3 260.4 223.3 261.1 223.3 261.9 223.3 262.6 223.3 263.4 223.3 264.1 223.3 264.9 223.3 265.6 223.3 266.4 223.3 267.1 223.3 267.9 223.3 268.6 223.3 269.4 223.3 270.1 223.3 270.9 223.3 271.6 223.3 272.4 223.3 273.1 223.3 273.9 223.3 274.6 223.3 275.4 223.3 276.1 223.3 276.9 223.3 277.6 223.3 278.4 223.3 279.1 223.3 279.9 223.3 280.6 223.3 281.4 223.3 282.1 223.3 282.9 223.3 283.6 223.3 284.4 223.3 285.1 223.3 285.9 223.3 286.6 223.3 287.4 223.3 288.1 223.3 288.9 223.3 289.6 223.3 290.4 223.3 291.1 223.3 291.9 223.3 292.6 223.3 293.4 223.3 294.1 223.3 294.9 223.3 295.6 223.3 296.4 223.3 297.1 223.3 297.9 223.3 298.6 223.3 299.4 223.3 300.1 223.3 300.9 223.3 301.6 223.3 302.4 223.3 303.1 223.3 303.9 223.3 304.6 223.3 305.4 223.3 306.1 223.3 306.9 223.3 307.6 223.3 308.4 223.3 309.1 223.3 309.9 223.3 310.6 223.3 311.4 223.3 312.1 223.3 312.9 223.3 313.6 223.3 314.4 223.3 315.1 223.3 315.9 223.3 316.6 223.3 317.4 223.3 318.1 223.3 318.9 223.3 319.6 223.3 320.4 223.3 321.1 223.3 321.9 223.3 322.6 223.3 323.4 223.3 324.1 223.3 324.9 223.3 325.6 223.3 326.4 223.3 327.1 223.3 327.9 223.3 328.6 223.3 329.4 223.3 330.1 223.3 330.9 223.3 331.6 223.3 332.4 223.3 333.1 223.3 333.9 223.3 334.6 223.3 335.4 223.3" fill="none" stroke="#222" stroke-width="0.8" stroke-dasharray="2 2"/><path d="M190 224.9 190.8 224.7 191.5 225.1 192.2 225.4 193 225.7 193.8 225.3 194.5 225 195.2 224.9 196 225.5 196.8 225.9 197.5 225.3 198.2 224.7 199 224.8 199.8 225.8 200.5 225.3 201.2 224.5 202 225.2 202.8 224.7 203.5 224.9 204.2 225 205 224.9 205.8 225.4 206.5 225.1 207.2 224.9 208 225.3 208.8 225.5 209.5 224.5 210.2 225 211 224.7 211.8 225 212.5 224.6 213.2 225.1 214 225 214.8 224.9 215.5 224.6 216.2 224.8 217 224.5 217.8 224.3 218.5 224.9 219.2 224.2 220 225 220.8 224.5 221.5 222.9 222.2 223 223 221.1 223.8 219.6 224.5 216.8 225.2 212.1 226 207.7 226.8 201.1 227.5 193.7 228.2 183.8 229 174.8 229.8 164.3 230.5 155.5 231.2 147.7 232 143.4 232.8 140.7 233.5 142.2 234.2 145.2 235 151.3 235.8 159.1 236.5 167.1 237.2 175.9 238 184.6 238.8 191 239.5 197.2 240.2 201.9 241 205.9 241.8 208.4 242.5 210.7 243.2 212.7 244 214.2 244.8 215.2 245.5 217.1 246.2 217.4 247 218.5 247.8 219.4 248.5 221.2 249.2 221.4 250 221.7 250.8 222.1 251.5 223.2 252.2 222.9 253 223 253.8 223.9 254.5 223.3 255.2 223.8 256 224 256.8 223.8 257.5 224 258.2 224.6 259 223.9 259.8 223.6 260.5 223.4 261.2 224 262 224 262.8 224.3 263.5 224 264.2 224 265 223.9 265.8 224 266.5 224.2 267.2 224 268 224.2 268.8 225 269.5 224.4 270.2 223.6 271 224.9 271.8 224.4 272.5 223.8 273.2 224.6 274 224.2 274.8 224 275.5 224 276.2 223.8 277 224.3 277.8 224.7 278.5 224.1 279.2 224.4 280 225 280.8 223.8 281.5 224.4 282.2 224.1 283 223.8 283.8 223.8 284.5 224.2 285.2 224.4 286 224 286.8 224.3 287.5 224.5 288.2 224.4 289 224.6 289.8 224.4 290.5 224.5 291.2 225 292 224.5 292.8 224.3 293.5 224.6 294.2 223.9 295 224.1 295.8 224.6 296.5 224.5 297.2 224.9 298 224.3 298.8 223.7 299.5 225.1 300.2 224.7 301 223.9 301.8 224.8 302.5 224.3 303.2 223.6 304 224.1 304.8 224.1 305.5 224.9 306.2 224 307 224.2 307.8 224.2 308.5 224.1 309.2 223.9 310 224.4 310.8 224.7 311.5 224.5 312.2 223.9 313 223.8 313.8 224.3 314.5 224 315.2 224 316 223.6 316.8 225.1 317.5 224.7 318.2 223.9 319 224.6 319.8 224.8 320.5 223.3 321.2 224.1 322 224.1 322.8 224.5 323.5 224.2 324.2 224.2 325 224.3 325.8 225 326.5 225.2 327.2 224.1 328 223.9 328.8 225.4 329.5 223.9 330.2 224.1 331 224.3 331.8 224.5 332.5 224.7 333.2 224.4 334 223.9 334.8 224.5" fill="none" stroke="#000" stroke-width="0.7"/><path d="M190 224.9h0M190.8 224.7h0M191.5 225.1h0M192.2 225.4h0M193 225.7h0M193.8 225.3h0M194.5 225h0M195.2 224.9h0M196 225.5h0M196.8 225.9h0M197.5 225.3h0M198.2 224.7h0M199 224.8h0M199.8 225.8h0M200.5 225.3h0M201.2 224.5h0M202 225.2h0M202.8 224.7h0M203.5 224.9h0M204.2 225h0M205 224.9h0M205.8 225.4h0M206.5 225.1h0M207.2 224.9h0M208 225.3h0M208.8 225.5h0M209.5 224.5h0M210.2 225h0M211 224.7h0M211.8 225h0M212.5 224.6h0M213.2 225.1h0M214 225h0M214.8 224.9h0M215.5 224.6h0M216.2 224.8h0M217 224.5h0M217.8 224.3h0M218.5 224.9h0M219.2 224.2h0M220 225h0M220.8 224.5h0M221.5 222.9h0M222.2 223h0M223 221.1h0M223.8 219.6h0M224.5 216.8h0M225.2 212.1h0M226 207.7h0M226.8 201.1h0M227.5 193.7h0M228.2 183.8h0M229 174.8h0M229.8 164.3h0M230.5 155.5h0M231.2 147.7h0M232 143.4h0M232.8 140.7h0M233.5 142.2h0M234.2 145.2h0M235 151.3h0M235.8 159.1h0M236.5 167.1h0M237.2 175.9h0M238 184.6h0M238.8 191h0M239.5 197.2h0M240.2 201.9h0M241 205.9h0M241.8 208.4h0M242.5 210.7h0M243.2 212.7h0M244 214.2h0M244.8 215.2h0M245.5 217.1h0M246.2 217.4h0M247 218.5h0M247.8 219.4h0M248.5 221.2h0M249.2 221.4h0M250 221.7h0M250.8 222.1h0M251.5 223.2h0M252.2 222.9h0M253 223h0M253.8 223.9h0M254.5 223.3h0M255.2 223.8h0M256 224h0M256.8 223.8h0M257.5 224h0M258.2 224.6h0M259 223.9h0M259.8 223.6h0M260.5 223.4h0M261.2 224h0M262 224h0M262.8 224.3h0M263.5 224h0M264.2 224h0M265 223.9h0M265.8 224h0M266.5 224.2h0M267.2 224h0M268 224.2h0M268.8 225h0M269.5 224.4h0M270.2 223.6h0M271 224.9h0M271.8 224.4h0M272.5 223.8h0M273.2 224.6h0M274 224.2h0M274.8 224h0M275.5 224h0M276.2 223.8h0M277 224.3h0M277.8 224.7h0M278.5 224.1h0M279.2 224.4h0M280 225h0M280.8 223.8h0M281.5 224.4h0M282.2 224.1h0M283 223.8h0M283.8 223.8h0M284.5 224.2h0M285.2 224.4h0M286 224h0M286.8 224.3h0M287.5 224.5h0M288.2 224.4h0M289 224.6h0M289.8 224.4h0M290.5 224.5h0M291.2 225h0M292 224.5h0M292.8 224.3h0M293.5 224.6h0M294.2 223.9h0M295 224.1h0M295.8 224.6h0M296.5 224.5h0M297.2 224.9h0M298 224.3h0M298.8 223.7h0M299.5 225.1h0M300.2 224.7h0M301 223.9h0M301.8 224.8h0M302.5 224.3h0M303.2 223.6h0M304 224.1h0M304.8 224.1h0M305.5 224.9h0M306.2 224h0M307 224.2h0M307.8 224.2h0M308.5 224.1h0M309.2 223.9h0M310 224.4h0M310.8 224.7h0M311.5 224.5h0M312.2 223.9h0M313 223.8h0M313.8 224.3h0M314.5 224h0M315.2 224h0M316 223.6h0M316.8 225.1h0M317.5 224.7h0M318.2 223.9h0M319 224.6h0M319.8 224.8h0M320.5 223.3h0M321.2 224.1h0M322 224.1h0M322.8 224.5h0M323.5 224.2h0M324.2 224.2h0M325 224.3h0M325.8 225h0M326.5 225.2h0M327.2 224.1h0M328 223.9h0M328.8 225.4h0M329.5 223.9h0M330.2 224.1h0M331 224.3h0M331.8 224.5h0M332.5 224.7h0M333.2 224.4h0M334 223.9h0M334.8 224.5h0" stroke="#000" stroke-width="4.0" stroke-linecap="round" fill="none"/><marker id="ocao" markerUnits="userSpaceOnUse" markerWidth="5.6" markerHeight="5.6" refX="2.8" refY="2.8" overflow="visible"><circle cx="2.8" cy="2.8" r="2.0" fill="#fff" stroke="#111" stroke-width="0.8"/></marker><path d="M191 224.2 191.7 224.2 192.5 224.2 193.2 224.2 194 224.2 194.7 224.2 195.5 224.2 196.2 224.2 197 224.2 197.7 224.2 198.5 224.2 199.2 224.2 200 224.2 200.7 224.2 201.5 224.2 202.2 224.2 203 224.2 203.7 224.2 204.5 224.2 205.2 224.2 206 224.2 206.7 224.2 207.5 224.2 208.2 224.1 209 224.1 209.7 224.1 210.5 224.1 211.2 224.1 212 224.1 212.7 224.1 213.5 224.1 214.2 224 215 224 215.7 224 216.5 224 217.2 223.9 218 223.9 218.7 223.8 219.5 223.7 220.2 223.6 221 223.4 221.7 223 222.5 222.3 223.2 221.3 224 219.7 224.7 217.3 225.5 214 226.2 209.5 227 203.6 227.7 196.4 228.5 187.9 229.2 178.4 230 168.6 230.7 159 231.5 150.6 232.2 144.1 233 140.2 233.7 139.4 234.5 141.7 235.2 146.7 236 153.7 236.7 162 237.5 170.6 238.2 179.1 239 186.7 239.7 193.3 240.5 198.6 241.2 202.9 242 206.2 242.7 208.7 243.5 210.7 244.2 212.4 245 213.9 245.7 215.2 246.5 216.4 247.2 217.5 248 218.5 248.7 219.4 249.5 220.1 250.2 220.8 251 221.4 251.7 221.8 252.5 222.1 253.2 222.4 254 222.6 254.7 222.8 255.5 222.9 256.2 222.9 257 223 257.7 223 258.5 223.1 259.2 223.1 260 223.1 260.7 223.1 261.5 223.1 262.2 223.1 263 223.1 263.7 223.2 264.5 223.2 265.2 223.2 266 223.2 266.7 223.2 267.5 223.2 268.2 223.2 269 223.2 269.7 223.2 270.5 223.2 271.2 223.2 272 223.2 272.7 223.2 273.5 223.2 274.2 223.2 275 223.2 275.7 223.2 276.5 223.2 277.2 223.2 278 223.2 278.7 223.2 279.5 223.2 280.2 223.2 281 223.2 281.7 223.2 282.5 223.2 283.2 223.3 284 223.3 284.7 223.3 285.5 223.3 286.2 223.3 287 223.3 287.7 223.3 288.5 223.3 289.2 223.3 290 223.3 290.7 223.3 291.5 223.3 292.2 223.3 293 223.3 293.7 223.3 294.5 223.3 295.2 223.3 296 223.3 296.7 223.3 297.5 223.3 298.2 223.3 299 223.3 299.7 223.3 300.5 223.3 301.2 223.3 302 223.3 302.7 223.3 303.5 223.3 304.2 223.3 305 223.3 305.7 223.3 306.5 223.3 307.2 223.3 308 223.3 308.7 223.3 309.5 223.3 310.2 223.3 311 223.3 311.7 223.3 312.5 223.3 313.2 223.3 314 223.3 314.7 223.3 315.5 223.3 316.2 223.3 317 223.3 317.7 223.3 318.5 223.3 319.2 223.3 320 223.3 320.7 223.3 321.5 223.3 322.2 223.3 323 223.3 323.7 223.3 324.5 223.3 325.2 223.3 326 223.3 326.7 223.3 327.5 223.3 328.2 223.3 329 223.3 329.7 223.3 330.5 223.3 331.2 223.3 332 223.3 332.7 223.3 333.5 223.3 334.2 223.3 335 223.3 335.7 223.3" fill="none" stroke="none" marker-start="url(#ocao)" marker-mid="url(#ocao)" marker-end="url(#ocao)"/><path d="M190.6 224.3 191.3 224.3 192.1 224.3 192.8 224.2 193.6 224.2 194.3 224.2 195.1 224.2 195.8 224.2 196.6 224.2 197.3 224.2 198.1 224.2 198.8 224.2 199.6 224.2 200.3 224.2 201.1 224.2 201.8 224.2 202.6 224.2 203.3 224.2 204.1 224.2 204.8 224.2 205.6 224.2 206.3 224.2 207.1 224.2 207.8 224.2 208.6 224.2 209.3 224.2 210.1 224.1 210.8 224.1 211.6 224.1 212.3 224.1 213.1 224.1 213.8 224.1 214.6 224.1 215.3 224.1 216.1 224 216.8 224 217.6 224 218.3 223.9 219.1 223.9 219.8 223.7 220.6 223.6 221.3 223.2 222.1 222.7 222.8 221.9 223.6 220.6 224.3 218.7 225.1 215.9 225.8 212.1 226.6 206.9 227.3 200.4 228.1 192.5 228.8 183.6 229.6 173.9 230.3 164.3 231.1 155.4 231.8 148.1 232.6 143.3 233.3 141.4 234.1 142.7 234.8 147.1 235.6 153.9 236.3 162.5 237.1 172 237.8 181.6 238.6 190.7 239.3 198.6 240.1 205.3 240.8 210.6 241.6 214.6 242.3 217.5 243.1 219.5 243.8 220.8 244.6 221.7 245.3 222.2 246.1 222.6 246.8 222.7 247.6 222.9 248.3 222.9 249.1 223 249.8 223 250.6 223 251.3 223.1 252.1 223.1 252.8 223.1 253.6 223.1 254.3 223.1 255.1 223.1 255.8 223.1 256.6 223.2 257.4 223.2 258.1 223.2 258.9 223.2 259.6 223.2 260.4 223.2 261.1 223.2 261.9 223.2 262.6 223.2 263.4 223.2 264.1 223.2 264.9 223.2 265.6 223.2 266.4 223.2 267.1 223.2 267.9 223.2 268.6 223.2 269.4 223.2 270.1 223.2 270.9 223.2 271.6 223.2 272.4 223.2 273.1 223.2 273.9 223.3 274.6 223.3 275.4 223.3 276.1 223.3 276.9 223.3 277.6 223.3 278.4 223.3 279.1 223.3 279.9 223.3 280.6 223.3 281.4 223.3 282.1 223.3 282.9 223.3 283.6 223.3 284.4 223.3 285.1 223.3 285.9 223.3 286.6 223.3 287.4 223.3 288.1 223.3 288.9 223.3 289.6 223.3 290.4 223.3 291.1 223.3 291.9 223.3 292.6 223.3 293.4 223.3 294.1 223.3 294.9 223.3 295.6 223.3 296.4 223.3 297.1 223.3 297.9 223.3 298.6 223.3 299.4 223.3 300.1 223.3 300.9 223.3 301.6 223.3 302.4 223.3 303.1 223.3 303.9 223.3 304.6 223.3 305.4 223.3 306.1 223.3 306.9 223.3 307.6 223.3 308.4 223.3 309.1 223.3 309.9 223.3 310.6 223.3 311.4 223.3 312.1 223.3 312.9 223.3 313.6 223.3 314.4 223.3 315.1 223.3 315.9 223.3 316.6 223.3 317.4 223.3 318.1 223.3 318.9 223.3 319.6 223.3 320.4 223.3 321.1 223.3 321.9 223.3 322.6 223.3 323.4 223.3 324.1 223.3 324.9 223.3 325.6 223.3 326.4 223.3 327.1 223.3 327.9 223.3 328.6 223.3 329.4 223.3 330.1 223.3 330.9 223.3 331.6 223.3 332.4 223.3 333.1 223.3 333.9 223.3 334.6 223.3 335.4 223.3" fill="none" stroke="#4a4aff" stroke-width="0.8"/><path d="M222.5 222.3h0M223.2 221.3h0M224 219.7h0M224.7 217.3h0M225.5 214h0M226.2 209.5h0M227 203.6h0M227.7 196.5h0M228.5 188h0M229.2 178.8h0M230 169.1h0M230.7 159.8h0M231.5 151.8h0M232.2 145.7h0M233 142.3h0M233.7 142h0M234.5 144.9h0M235.2 150.5h0M236 158.2h0M236.7 167.3h0M237.5 176.8h0M238.2 186.1h0M239 194.6h0M239.7 202h0M240.5 207.9h0M241.2 212.6h0M242 216h0M242.7 218.5h0M243.5 220.2h0M244.2 221.3h0M245 222h0" stroke="#5050ff" stroke-width="1.8" stroke-linecap="round" fill="none"/><path d="M190.6 224.3 191.3 224.3 192.1 224.3 192.8 224.3 193.6 224.3 194.3 224.3 195.1 224.3 195.8 224.3 196.6 224.3 197.3 224.3 198.1 224.3 198.8 224.3 199.6 224.3 200.3 224.3 201.1 224.3 201.8 224.3 202.6 224.3 203.3 224.3 204.1 224.3 204.8 224.3 205.6 224.3 206.3 224.3 207.1 224.3 207.8 224.3 208.6 224.3 209.3 224.3 210.1 224.3 210.8 224.3 211.6 224.3 212.3 224.3 213.1 224.3 213.8 224.3 214.6 224.3 215.3 224.3 216.1 224.3 216.8 224.3 217.6 224.2 218.3 224.2 219.1 224.2 219.8 224.2 220.6 224.2 221.3 224.2 222.1 224.2 222.8 224.2 223.6 224.2 224.3 224.2 225.1 224.2 225.8 224.1 226.6 224.1 227.3 224 228.1 224 228.8 223.9 229.6 223.7 230.3 223.5 231.1 223.2 231.8 222.9 232.6 222.5 233.3 221.9 234.1 221.3 234.8 220.5 235.6 219.7 236.3 218.8 237.1 217.8 237.8 216.8 238.6 215.8 239.3 215 240.1 214.2 240.8 213.7 241.6 213.4 242.3 213.4 243.1 213.6 243.8 214.1 244.6 214.8 245.3 215.6 246.1 216.6 246.8 217.5 247.6 218.4 248.3 219.3 249.1 220.1 249.8 220.8 250.6 221.4 251.3 221.8 252.1 222.2 252.8 222.5 253.6 222.7 254.3 222.9 255.1 223 255.8 223.1 256.6 223.1 257.4 223.2 258.1 223.2 258.9 223.2 259.6 223.2 260.4 223.2 261.1 223.2 261.9 223.2 262.6 223.2 263.4 223.2 264.1 223.2 264.9 223.2 265.6 223.3 266.4 223.3 267.1 223.3 267.9 223.3 268.6 223.3 269.4 223.3 270.1 223.3 270.9 223.3 271.6 223.3 272.4 223.3 273.1 223.3 273.9 223.3 274.6 223.3 275.4 223.3 276.1 223.3 276.9 223.3 277.6 223.3 278.4 223.3 279.1 223.3 279.9 223.3 280.6 223.3 281.4 223.3 282.1 223.3 282.9 223.3 283.6 223.3 284.4 223.3 285.1 223.3 285.9 223.3 286.6 223.3 287.4 223.3 288.1 223.3 288.9 223.3 289.6 223.3 290.4 223.3 291.1 223.3 291.9 223.3 292.6 223.3 293.4 223.3 294.1 223.3 294.9 223.3 295.6 223.3 296.4 223.3 297.1 223.3 297.9 223.3 298.6 223.3 299.4 223.3 300.1 223.3 300.9 223.3 301.6 223.3 302.4 223.3 303.1 223.3 303.9 223.3 304.6 223.3 305.4 223.3 306.1 223.3 306.9 223.3 307.6 223.3 308.4 223.3 309.1 223.3 309.9 223.3 310.6 223.3 311.4 223.3 312.1 223.3 312.9 223.3 313.6 223.3 314.4 223.3 315.1 223.3 315.9 223.3 316.6 223.3 317.4 223.3 318.1 223.3 318.9 223.3 319.6 223.3 320.4 223.3 321.1 223.3 321.9 223.3 322.6 223.3 323.4 223.3 324.1 223.3 324.9 223.3 325.6 223.3 326.4 223.3 327.1 223.3 327.9 223.3 328.6 223.3 329.4 223.3 330.1 223.3 330.9 223.3 331.6 223.3 332.4 223.3 333.1 223.3 333.9 223.3 334.6 223.3 335.4 223.3" fill="none" stroke="#2a2aff" stroke-width="1.0" /></g><rect x="190.1" y="127.3" width="145.80" height="106.00" fill="none" stroke="#8a8a8a" stroke-width="1.2"/><path d="M190.1 233.3H335.9" stroke="#555" stroke-width="1.1"/><path d="M190.3 233.3v-3.2M193.9 233.3v-1.8M197.6 233.3v-1.8M201.2 233.3v-1.8M204.8 233.3v-1.8M208.5 233.3v-1.8M212.1 233.3v-1.8M215.7 233.3v-1.8M219.3 233.3v-3.2M223 233.3v-1.8M226.6 233.3v-1.8M230.2 233.3v-1.8M233.9 233.3v-1.8M237.5 233.3v-1.8M241.1 233.3v-1.8M244.8 233.3v-1.8M248.4 233.3v-3.2M252 233.3v-1.8M255.6 233.3v-1.8M259.3 233.3v-1.8M262.9 233.3v-1.8M266.5 233.3v-1.8M270.2 233.3v-1.8M273.8 233.3v-1.8M277.4 233.3v-3.2M281.1 233.3v-1.8M284.7 233.3v-1.8M288.3 233.3v-1.8M291.9 233.3v-1.8M295.6 233.3v-1.8M299.2 233.3v-1.8M302.8 233.3v-1.8M306.5 233.3v-3.2M310.1 233.3v-1.8M313.7 233.3v-1.8M317.4 233.3v-1.8M321 233.3v-1.8M324.6 233.3v-1.8M328.2 233.3v-1.8M331.9 233.3v-1.8M335.5 233.3v-3.2" stroke="#222" stroke-width="0.9" fill="none"/><path d="M190.1 153.3h2.5M190.1 206.8h2.5" stroke="#444" stroke-width="0.8" fill="none"/><text transform="translate(190.30,245.4) scale(1.05,1)" font-size="10.0" text-anchor="middle">524</text><text transform="translate(219.34,245.4) scale(1.05,1)" font-size="10.0" text-anchor="middle">528</text><text transform="translate(248.38,245.4) scale(1.05,1)" font-size="10.0" text-anchor="middle">532</text><text transform="translate(277.42,245.4) scale(1.05,1)" font-size="10.0" text-anchor="middle">536</text><text transform="translate(306.46,245.4) scale(1.05,1)" font-size="10.0" text-anchor="middle">540</text><text transform="translate(335.50,245.4) scale(1.05,1)" font-size="10.0" text-anchor="middle">544</text><clipPath id="cbz"><rect x="27" y="288.4" width="145.4" height="106.70000000000005"/></clipPath><g clip-path="url(#cbz)"><path d="M27.5 385 28.1 385 28.6 385 29.2 385 29.7 385 30.3 385 30.8 385 31.4 385 31.9 385 32.5 385 33 385 33.6 385 34.1 385 34.7 385 35.2 384.9 35.8 384.9 36.3 384.9 36.9 384.9 37.4 384.9 38 384.9 38.5 384.9 39.1 384.9 39.6 384.9 40.2 384.9 40.7 384.9 41.3 384.9 41.8 384.8 42.4 384.8 42.9 384.8 43.5 384.8 44 384.8 44.6 384.8 45.1 384.7 45.7 384.7 46.2 384.7 46.8 384.6 47.3 384.5 47.9 384.4 48.4 384.3 49 384.2 49.5 384 50.1 383.8 50.6 383.5 51.2 383.2 51.7 382.9 52.3 382.5 52.8 382.2 53.4 381.9 53.9 381.6 54.5 381.3 55 381.1 55.6 380.9 56.1 380.8 56.7 380.7 57.2 380.6 57.8 380.5 58.3 380.4 58.9 380.4 59.4 380.4 60 380.3 60.5 380.3 61.1 380.3 61.6 380.3 62.2 380.3 62.7 380.2 63.3 380.2 63.8 380.2 64.4 380.2 64.9 380.2 65.5 380.2 66 380.2 66.6 380.2 67.1 380.2 67.7 380.2 68.2 380.2 68.8 380.2 69.3 380.1 69.9 380.1 70.4 380.1 71 380.1 71.5 380.1 72.1 380.1 72.6 380.1 73.2 380.1 73.7 380.1 74.3 380.1 74.8 380.1 75.4 380.1 75.9 380.1 76.5 380.1 77 380.1 77.6 380.1 78.1 380.1 78.7 380.1 79.2 380.1 79.8 380.1 80.3 380.1 80.9 380.1 81.4 380.1 82 380.1 82.5 380.1 83.1 380.1 83.6 380.1 84.2 380.1 84.7 380.1 85.3 380.1 85.8 380.1 86.4 380.1 86.9 380.1 87.5 380.1 88 380.1 88.6 380.1 89.1 380.1 89.7 380.1 90.2 380.1 90.8 380.1 91.3 380.1 91.9 380 92.4 380 93 380 93.5 380 94.1 380 94.6 380 95.2 380 95.7 380 96.3 380 96.8 380 97.4 380 97.9 380 98.5 380 99 380 99.6 380 100.1 380 100.7 380 101.2 380 101.8 380 102.3 380 102.9 380 103.4 380 104 380 104.5 380 105.1 380 105.6 380 106.2 380 106.7 380 107.3 380 107.8 380 108.4 380 108.9 380 109.5 380 110 380 110.6 380 111.1 380 111.7 380 112.2 380 112.8 380 113.3 380 113.9 380 114.4 380 115 380 115.5 380 116.1 380 116.6 380 117.2 380 117.7 380 118.3 380 118.8 380 119.4 380 119.9 380 120.5 380 121 380 121.6 380 122.1 380 122.7 380 123.2 380 123.8 380 124.3 380 124.9 380 125.4 380 126 380 126.5 380 127.1 380 127.6 380 128.2 380 128.7 380 129.3 379.9 129.8 379.9 130.4 379.9 130.9 379.9 131.5 379.9 132 379.9 132.6 379.9 133.1 379.9 133.7 379.9 134.2 379.9 134.8 379.9 135.3 379.9 135.9 379.9 136.4 379.9 137 379.8 137.5 379.8 138.1 379.8 138.6 379.7 139.2 379.7 139.7 379.6 140.3 379.6 140.8 379.5 141.4 379.4 141.9 379.3 142.5 379.1 143 379 143.6 378.8 144.1 378.7 144.7 378.5 145.2 378.4 145.8 378.2 146.3 378.1 146.9 378 147.4 377.9 148 377.8 148.5 377.8 149.1 377.7 149.6 377.7 150.2 377.7 150.7 377.7 151.3 377.6 151.8 377.6 152.4 377.6 152.9 377.6 153.5 377.6 154 377.6 154.6 377.6 155.1 377.6 155.7 377.6 156.2 377.6 156.8 377.6 157.3 377.6 157.9 377.6 158.4 377.5 159 377.5 159.5 377.5 160.1 377.5 160.6 377.5 161.2 377.5 161.7 377.5 162.3 377.5 162.8 377.5 163.4 377.5 163.9 377.5 164.5 377.5 165 377.5 165.6 377.5 166.1 377.5 166.7 377.5 167.2 377.5 167.8 377.5 168.3 377.5 168.9 377.5 169.4 377.5 170 377.5 170.5 377.5 171.1 377.5 171.6 377.5 172.2 377.5" fill="none" stroke="#222" stroke-width="0.8" stroke-dasharray="2 2"/><path d="M25.9 384.8 26.4 385.1 27 383.3 27.6 384.2 28.1 384.7 28.7 384.8 29.2 384.4 29.8 384.7 30.3 384.2 30.9 384.2 31.4 384 32 383.5 32.5 383.5 33.1 383.9 33.6 383.5 34.2 384.1 34.7 384 35.3 384.1 35.8 383.3 36.4 383.7 36.9 382.7 37.5 382.6 38 382.7 38.6 382.6 39.1 381.6 39.7 381.3 40.2 381.9 40.8 381.1 41.3 381.5 41.9 380.6 42.4 379.9 43 379 43.5 378.1 44.1 376.1 44.6 374.4 45.2 370.8 45.7 367 46.3 361.6 46.8 355.7 47.4 347.7 47.9 338.3 48.5 329.6 49 318.5 49.6 309.2 50.1 301.8 50.7 298.1 51.2 297.2 51.8 301.5 52.3 308.4 52.9 316.8 53.4 327.3 54 336.8 54.5 344.9 55.1 352.4 55.6 357.9 56.2 362.8 56.7 367 57.3 370.2 57.8 371.8 58.4 373.6 58.9 375 59.5 375.4 60 376.2 60.6 377 61.1 376.3 61.7 377.4 62.2 376.7 62.8 377.8 63.3 377.9 63.9 377.8 64.4 377.7 65 378.3 65.5 378.3 66.1 378.6 66.6 378.3 67.2 378.9 67.7 378.4 68.3 378.8 68.8 378.8 69.4 379.5 69.9 378.5 70.5 378.9 71 379.6 71.6 378.9 72.1 378.7 72.7 379.4 73.2 379.2 73.8 379.7 74.3 379 74.9 379.5 75.4 379.7 76 379.9 76.5 379 77.1 380.1 77.6 379.2 78.2 378.9 78.7 379.2 79.3 379.6 79.8 379.4 80.4 379.8 80.9 379.8 81.5 379.7 82 379.5 82.6 380.4 83.1 378.8 83.7 379 84.2 379.5 84.8 379.2 85.3 378.7 85.9 379.4 86.4 379.4 87 378.7 87.5 380.1 88.1 380.2 88.6 380.2 89.2 379.5 89.7 379.8 90.3 379.3 90.8 379.8 91.4 379.5 91.9 379.9 92.5 379.6 93 380.2 93.6 380.1 94.1 380.3 94.7 379.1 95.2 379 95.8 379.9 96.3 379.5 96.9 379.9 97.4 379.9 98 379.8 98.5 380.1 99.1 380 99.6 380 100.2 379.4 100.7 380.5 101.3 379.8 101.8 380.2 102.4 379.9 102.9 380.3 103.5 379.8 104 379.8 104.6 379.8 105.1 379.5 105.7 379.5 106.2 379.7 106.8 379.7 107.3 379.3 107.9 380.7 108.4 379.3 109 379.6 109.5 380.7 110.1 379.5 110.6 380 111.2 380 111.7 379.6 112.3 379.1 112.8 379.1 113.4 379.7 113.9 379.8 114.5 378.8 115 379.7 115.6 379.4 116.1 380 116.7 379.7 117.2 379.3 117.8 379.4 118.3 379.6 118.9 380.1 119.4 380.8 120 379.7 120.5 379.6 121.1 379.8 121.6 379.5 122.2 379.7 122.7 379.6 123.3 379.4 123.8 379.1 124.4 379.4 124.9 379.7 125.5 379.3 126 379.9 126.6 379.6 127.1 379.1 127.7 379.8 128.2 378.6 128.8 379.4 129.3 379.6 129.9 378.7 130.4 378.6 131 378.9 131.5 379 132.1 378.4 132.6 378.1 133.2 378.1 133.7 377.5 134.3 376.5 134.8 376.2 135.4 375.4 135.9 373.7 136.5 373 137 370.6 137.6 368.8 138.1 365 138.7 361.8 139.2 357.7 139.8 354.6 140.3 350.3 140.9 346.4 141.4 343 142 340.4 142.5 339.4 143.1 339 143.6 341.9 144.2 344.7 144.7 348.6 145.3 352.2 145.8 357.2 146.4 360.5 146.9 363.1 147.5 366.7 148 368.8 148.6 370.3 149.1 372 149.7 372.9 150.2 373.2 150.8 374.1 151.3 375.3 151.9 375.6 152.4 375.8 153 375.4 153.5 375.8 154.1 376.2 154.6 376.6 155.2 376.1 155.7 376.1 156.3 377 156.8 376.6 157.4 376.5 157.9 376.4 158.5 376.5 159 377.5 159.6 377.2 160.1 376.7 160.7 376.4 161.2 377.6 161.8 377.6 162.3 377.5 162.9 377.4 163.4 376.3 164 376.6 164.5 377.3 165.1 377 165.6 377.2 166.2 376.9 166.7 376.9 167.3 377.4 167.8 377 168.4 377.2 168.9 377.3 169.5 377.3 170 377.7 170.6 377.8" fill="none" stroke="#999" stroke-width="0.7"/><path d="M25.9 384.8h0M26.4 385.1h0M27 383.3h0M27.6 384.2h0M28.1 384.7h0M28.7 384.8h0M29.2 384.4h0M29.8 384.7h0M30.3 384.2h0M30.9 384.2h0M31.4 384h0M32 383.5h0M32.5 383.5h0M33.1 383.9h0M33.6 383.5h0M34.2 384.1h0M34.7 384h0M35.3 384.1h0M35.8 383.3h0M36.4 383.7h0M36.9 382.7h0M37.5 382.6h0M38 382.7h0M38.6 382.6h0M39.1 381.6h0M39.7 381.3h0M40.2 381.9h0M40.8 381.1h0M41.3 381.5h0M41.9 380.6h0M42.4 379.9h0M43 379h0M43.5 378.1h0M44.1 376.1h0M44.6 374.4h0M45.2 370.8h0M45.7 367h0M46.3 361.6h0M46.8 355.7h0M47.4 347.7h0M47.9 338.3h0M48.5 329.6h0M49 318.5h0M49.6 309.2h0M50.1 301.8h0M50.7 298.1h0M51.2 297.2h0M51.8 301.5h0M52.3 308.4h0M52.9 316.8h0M53.4 327.3h0M54 336.8h0M54.5 344.9h0M55.1 352.4h0M55.6 357.9h0M56.2 362.8h0M56.7 367h0M57.3 370.2h0M57.8 371.8h0M58.4 373.6h0M58.9 375h0M59.5 375.4h0M60 376.2h0M60.6 377h0M61.1 376.3h0M61.7 377.4h0M62.2 376.7h0M62.8 377.8h0M63.3 377.9h0M63.9 377.8h0M64.4 377.7h0M65 378.3h0M65.5 378.3h0M66.1 378.6h0M66.6 378.3h0M67.2 378.9h0M67.7 378.4h0M68.3 378.8h0M68.8 378.8h0M69.4 379.5h0M69.9 378.5h0M70.5 378.9h0M71 379.6h0M71.6 378.9h0M72.1 378.7h0M72.7 379.4h0M73.2 379.2h0M73.8 379.7h0M74.3 379h0M74.9 379.5h0M75.4 379.7h0M76 379.9h0M76.5 379h0M77.1 380.1h0M77.6 379.2h0M78.2 378.9h0M78.7 379.2h0M79.3 379.6h0M79.8 379.4h0M80.4 379.8h0M80.9 379.8h0M81.5 379.7h0M82 379.5h0M82.6 380.4h0M83.1 378.8h0M83.7 379h0M84.2 379.5h0M84.8 379.2h0M85.3 378.7h0M85.9 379.4h0M86.4 379.4h0M87 378.7h0M87.5 380.1h0M88.1 380.2h0M88.6 380.2h0M89.2 379.5h0M89.7 379.8h0M90.3 379.3h0M90.8 379.8h0M91.4 379.5h0M91.9 379.9h0M92.5 379.6h0M93 380.2h0M93.6 380.1h0M94.1 380.3h0M94.7 379.1h0M95.2 379h0M95.8 379.9h0M96.3 379.5h0M96.9 379.9h0M97.4 379.9h0M98 379.8h0M98.5 380.1h0M99.1 380h0M99.6 380h0M100.2 379.4h0M100.7 380.5h0M101.3 379.8h0M101.8 380.2h0M102.4 379.9h0M102.9 380.3h0M103.5 379.8h0M104 379.8h0M104.6 379.8h0M105.1 379.5h0M105.7 379.5h0M106.2 379.7h0M106.8 379.7h0M107.3 379.3h0M107.9 380.7h0M108.4 379.3h0M109 379.6h0M109.5 380.7h0M110.1 379.5h0M110.6 380h0M111.2 380h0M111.7 379.6h0M112.3 379.1h0M112.8 379.1h0M113.4 379.7h0M113.9 379.8h0M114.5 378.8h0M115 379.7h0M115.6 379.4h0M116.1 380h0M116.7 379.7h0M117.2 379.3h0M117.8 379.4h0M118.3 379.6h0M118.9 380.1h0M119.4 380.8h0M120 379.7h0M120.5 379.6h0M121.1 379.8h0M121.6 379.5h0M122.2 379.7h0M122.7 379.6h0M123.3 379.4h0M123.8 379.1h0M124.4 379.4h0M124.9 379.7h0M125.5 379.3h0M126 379.9h0M126.6 379.6h0M127.1 379.1h0M127.7 379.8h0M128.2 378.6h0M128.8 379.4h0M129.3 379.6h0M129.9 378.7h0M130.4 378.6h0M131 378.9h0M131.5 379h0M132.1 378.4h0M132.6 378.1h0M133.2 378.1h0M133.7 377.5h0M134.3 376.5h0M134.8 376.2h0M135.4 375.4h0M135.9 373.7h0M136.5 373h0M137 370.6h0M137.6 368.8h0M138.1 365h0M138.7 361.8h0M139.2 357.7h0M139.8 354.6h0M140.3 350.3h0M140.9 346.4h0M141.4 343h0M142 340.4h0M142.5 339.4h0M143.1 339h0M143.6 341.9h0M144.2 344.7h0M144.7 348.6h0M145.3 352.2h0M145.8 357.2h0M146.4 360.5h0M146.9 363.1h0M147.5 366.7h0M148 368.8h0M148.6 370.3h0M149.1 372h0M149.7 372.9h0M150.2 373.2h0M150.8 374.1h0M151.3 375.3h0M151.9 375.6h0M152.4 375.8h0M153 375.4h0M153.5 375.8h0M154.1 376.2h0M154.6 376.6h0M155.2 376.1h0M155.7 376.1h0M156.3 377h0M156.8 376.6h0M157.4 376.5h0M157.9 376.4h0M158.5 376.5h0M159 377.5h0M159.6 377.2h0M160.1 376.7h0M160.7 376.4h0M161.2 377.6h0M161.8 377.6h0M162.3 377.5h0M162.9 377.4h0M163.4 376.3h0M164 376.6h0M164.5 377.3h0M165.1 377h0M165.6 377.2h0M166.2 376.9h0M166.7 376.9h0M167.3 377.4h0M167.8 377h0M168.4 377.2h0M168.9 377.3h0M169.5 377.3h0M170 377.7h0M170.6 377.8h0" stroke="#000" stroke-width="4.0" stroke-linecap="round" fill="none"/><marker id="ocbz" markerUnits="userSpaceOnUse" markerWidth="5.6" markerHeight="5.6" refX="2.8" refY="2.8" overflow="visible"><circle cx="2.8" cy="2.8" r="2.0" fill="#fff" stroke="#111" stroke-width="0.8"/></marker><path d="M27.8 384.4 28.3 384.3 28.9 384.3 29.4 384.3 30 384.2 30.5 384.2 31.1 384.1 31.6 384.1 32.2 384.1 32.7 384 33.3 383.9 33.8 383.9 34.4 383.8 34.9 383.7 35.5 383.7 36 383.6 36.6 383.5 37.1 383.4 37.7 383.2 38.2 383.1 38.8 383 39.3 382.8 39.9 382.6 40.4 382.4 41 382.2 41.5 381.9 42.1 381.6 42.6 381.2 43.2 380.7 43.7 380.2 44.3 379.4 44.8 378.4 45.4 377 45.9 375.2 46.5 372.6 47 369.2 47.6 364.6 48.1 358.8 48.7 351.7 49.2 343.3 49.8 333.8 50.3 323.7 50.9 313.8 51.4 305.1 52 299 52.5 296.8 53.1 298.7 53.6 304.4 54.2 312.7 54.7 322.2 55.3 331.8 55.8 340.9 56.4 348.9 56.9 355.6 57.5 361.1 58 365.4 58.6 368.7 59.1 371.1 59.7 372.8 60.2 374.1 60.8 375 61.3 375.7 61.9 376.2 62.4 376.7 63 377 63.5 377.3 64.1 377.5 64.6 377.7 65.2 377.9 65.7 378.1 66.3 378.2 66.8 378.4 67.4 378.5 67.9 378.6 68.5 378.7 69 378.8 69.6 378.8 70.1 378.9 70.7 379 71.2 379 71.8 379.1 72.3 379.1 72.9 379.2 73.4 379.2 74 379.3 74.5 379.3 75.1 379.3 75.6 379.4 76.2 379.4 76.7 379.4 77.3 379.4 77.8 379.5 78.4 379.5 78.9 379.5 79.5 379.5 80 379.5 80.6 379.6 81.1 379.6 81.7 379.6 82.2 379.6 82.8 379.6 83.3 379.6 83.9 379.6 84.4 379.6 85 379.7 85.5 379.7 86.1 379.7 86.6 379.7 87.2 379.7 87.7 379.7 88.3 379.7 88.8 379.7 89.4 379.7 89.9 379.7 90.5 379.7 91 379.7 91.6 379.7 92.1 379.7 92.7 379.7 93.2 379.7 93.8 379.7 94.3 379.7 94.9 379.8 95.4 379.8 96 379.8 96.5 379.8 97.1 379.8 97.6 379.8 98.2 379.8 98.7 379.8 99.3 379.8 99.8 379.8 100.4 379.8 100.9 379.8 101.5 379.8 102 379.8 102.6 379.8 103.1 379.8 103.7 379.8 104.2 379.8 104.8 379.8 105.3 379.8 105.9 379.8 106.4 379.8 107 379.8 107.5 379.7 108.1 379.7 108.6 379.7 109.2 379.7 109.7 379.7 110.3 379.7 110.8 379.7 111.4 379.7 111.9 379.7 112.5 379.7 113 379.7 113.6 379.7 114.1 379.7 114.7 379.7 115.2 379.7 115.8 379.7 116.3 379.7 116.9 379.6 117.4 379.6 118 379.6 118.5 379.6 119.1 379.6 119.6 379.6 120.2 379.6 120.7 379.6 121.3 379.5 121.8 379.5 122.4 379.5 122.9 379.5 123.5 379.5 124 379.4 124.6 379.4 125.1 379.4 125.7 379.3 126.2 379.3 126.8 379.3 127.3 379.2 127.9 379.2 128.4 379.1 129 379.1 129.5 379 130.1 378.9 130.6 378.9 131.2 378.8 131.7 378.7 132.3 378.6 132.8 378.4 133.4 378.3 133.9 378.1 134.5 377.9 135 377.6 135.6 377.1 136.1 376.6 136.7 375.9 137.2 374.9 137.8 373.6 138.3 371.9 138.9 369.7 139.4 367 140 363.8 140.5 360.2 141.1 356.2 141.6 351.9 142.2 347.7 142.7 343.9 143.3 341 143.8 339.3 144.4 339.1 144.9 340.5 145.5 343.2 146 346.7 146.6 350.6 147.1 354.7 147.7 358.6 148.2 362.1 148.8 365.1 149.3 367.7 149.9 369.8 150.4 371.4 151 372.7 151.5 373.7 152.1 374.4 152.6 374.9 153.2 375.3 153.7 375.6 154.3 375.8 154.8 376 155.4 376.1 155.9 376.2 156.5 376.4 157 376.4 157.6 376.5 158.1 376.6 158.7 376.6 159.2 376.7 159.8 376.8 160.3 376.8 160.9 376.8 161.4 376.9 162 376.9 162.5 376.9 163.1 377 163.6 377 164.2 377 164.7 377 165.3 377.1 165.8 377.1 166.4 377.1 166.9 377.1 167.5 377.1 168 377.1 168.6 377.2 169.1 377.2 169.7 377.2 170.2 377.2 170.8 377.2 171.3 377.2 171.9 377.2 172.4 377.2" fill="none" stroke="none" marker-start="url(#ocbz)" marker-mid="url(#ocbz)" marker-end="url(#ocbz)"/><path d="M27.5 384.4 28.1 384.4 28.6 384.3 29.2 384.3 29.7 384.3 30.3 384.2 30.8 384.2 31.4 384.1 31.9 384.1 32.5 384 33 384 33.6 383.9 34.1 383.9 34.7 383.8 35.2 383.7 35.8 383.6 36.3 383.5 36.9 383.4 37.4 383.3 38 383.2 38.5 383.1 39.1 382.9 39.6 382.7 40.2 382.5 40.7 382.3 41.3 382.1 41.8 381.8 42.4 381.4 42.9 381 43.5 380.5 44 379.8 44.6 379 45.1 377.8 45.7 376.2 46.2 374 46.8 371 47.3 367.1 47.9 361.9 48.4 355.5 49 347.7 49.5 338.7 50.1 328.8 50.6 318.7 51.2 309.2 51.7 301.7 52.3 297.4 52.8 297.2 53.4 301.2 53.9 308.4 54.5 317.4 55 327 55.6 336.5 56.1 345 56.7 352.4 57.2 358.6 57.8 363.4 58.3 367.2 58.9 370 59.4 372 60 373.5 60.5 374.6 61.1 375.4 61.6 376 62.2 376.5 62.7 376.9 63.3 377.2 63.8 377.4 64.4 377.7 64.9 377.9 65.5 378 66 378.2 66.6 378.3 67.1 378.5 67.7 378.6 68.2 378.7 68.8 378.8 69.3 378.8 69.9 378.9 70.4 379 71 379 71.5 379.1 72.1 379.2 72.6 379.2 73.2 379.2 73.7 379.3 74.3 379.3 74.8 379.4 75.4 379.4 75.9 379.4 76.5 379.4 77 379.5 77.6 379.5 78.1 379.5 78.7 379.5 79.2 379.6 79.8 379.6 80.3 379.6 80.9 379.6 81.4 379.6 82 379.6 82.5 379.7 83.1 379.7 83.6 379.7 84.2 379.7 84.7 379.7 85.3 379.7 85.8 379.7 86.4 379.7 86.9 379.7 87.5 379.7 88 379.8 88.6 379.8 89.1 379.8 89.7 379.8 90.2 379.8 90.8 379.8 91.3 379.8 91.9 379.8 92.4 379.8 93 379.8 93.5 379.8 94.1 379.8 94.6 379.8 95.2 379.8 95.7 379.8 96.3 379.8 96.8 379.8 97.4 379.8 97.9 379.9 98.5 379.9 99 379.9 99.6 379.9 100.1 379.9 100.7 379.9 101.2 379.9 101.8 379.9 102.3 379.9 102.9 379.9 103.4 379.9 104 379.9 104.5 379.9 105.1 379.9 105.6 379.9 106.2 379.9 106.7 379.9 107.3 379.9 107.8 379.9 108.4 379.9 108.9 379.9 109.5 379.9 110 379.9 110.6 379.9 111.1 379.9 111.7 379.9 112.2 379.9 112.8 379.9 113.3 379.9 113.9 379.9 114.4 379.9 115 379.9 115.5 379.9 116.1 379.9 116.6 379.9 117.2 379.9 117.7 379.9 118.3 379.9 118.8 379.9 119.4 379.9 119.9 379.9 120.5 379.9 121 379.9 121.6 379.9 122.1 379.9 122.7 379.9 123.2 379.9 123.8 379.9 124.3 379.9 124.9 379.9 125.4 379.9 126 379.9 126.5 379.9 127.1 379.9 127.6 379.9 128.2 379.9 128.7 379.9 129.3 379.9 129.8 379.9 130.4 379.9 130.9 379.9 131.5 379.9 132 379.9 132.6 379.9 133.1 379.9 133.7 379.8 134.2 379.8 134.8 379.8 135.3 379.8 135.9 379.8 136.4 379.8 137 379.8 137.5 379.8 138.1 379.7 138.6 379.7 139.2 379.7 139.7 379.6 140.3 379.5 140.8 379.4 141.4 379.3 141.9 379.2 142.5 379.1 143 378.9 143.6 378.8 144.1 378.6 144.7 378.5 145.2 378.3 145.8 378.2 146.3 378.1 146.9 378 147.4 377.9 148 377.8 148.5 377.8 149.1 377.7 149.6 377.7 150.2 377.6 150.7 377.6 151.3 377.6 151.8 377.6 152.4 377.6 152.9 377.6 153.5 377.6 154 377.6 154.6 377.5 155.1 377.5 155.7 377.5 156.2 377.5 156.8 377.5 157.3 377.5 157.9 377.5 158.4 377.5 159 377.5 159.5 377.5 160.1 377.5 160.6 377.5 161.2 377.5 161.7 377.5 162.3 377.5 162.8 377.5 163.4 377.5 163.9 377.5 164.5 377.5 165 377.5 165.6 377.5 166.1 377.5 166.7 377.5 167.2 377.5 167.8 377.5 168.3 377.5 168.9 377.5 169.4 377.5 170 377.5 170.5 377.5 171.1 377.5 171.6 377.5 172.2 377.5" fill="none" stroke="#8c8cff" stroke-width="0.9"/><path d="M37.7 383.3h0M38.2 383.1h0M38.8 383h0M39.3 382.8h0M39.9 382.6h0M40.4 382.4h0M41 382.2h0M41.5 381.9h0M42.1 381.6h0M42.6 381.2h0M43.2 380.7h0M43.7 380.2h0M44.3 379.4h0M44.8 378.4h0M45.4 377h0M45.9 375.1h0M46.5 372.5h0M47 369h0M47.6 364.5h0M48.1 358.7h0M48.7 351.6h0M49.2 343.2h0M49.8 333.8h0M50.3 323.7h0M50.9 314h0M51.4 305.4h0M52 299.5h0M52.5 297.3h0M53.1 299.2h0M53.6 304.8h0M54.2 312.9h0M54.7 322.2h0M55.3 331.7h0M55.8 340.7h0M56.4 348.7h0M56.9 355.5h0M57.5 361h0M58 365.3h0M58.6 368.6h0M59.1 371h0M59.7 372.8h0M60.2 374.1h0M60.8 375h0M61.3 375.7h0M61.9 376.2h0M62.4 376.7h0M63 377h0M63.5 377.3h0M64.1 377.6h0M64.6 377.8h0M65.2 378h0M65.7 378.1h0M66.3 378.3h0M66.8 378.4h0M67.4 378.5h0M67.9 378.6h0" stroke="#5050ff" stroke-width="1.8" stroke-linecap="round" fill="none"/><path d="M27.5 385 28.1 385 28.6 385 29.2 385 29.7 385 30.3 385 30.8 385 31.4 385 31.9 385 32.5 385 33 384.9 33.6 384.9 34.1 384.9 34.7 384.9 35.2 384.9 35.8 384.9 36.3 384.9 36.9 384.9 37.4 384.9 38 384.9 38.5 384.9 39.1 384.9 39.6 384.9 40.2 384.9 40.7 384.9 41.3 384.8 41.8 384.8 42.4 384.8 42.9 384.8 43.5 384.8 44 384.8 44.6 384.7 45.1 384.7 45.7 384.7 46.2 384.6 46.8 384.6 47.3 384.5 47.9 384.4 48.4 384.3 49 384.1 49.5 384 50.1 383.7 50.6 383.5 51.2 383.2 51.7 382.9 52.3 382.5 52.8 382.2 53.4 381.8 53.9 381.5 54.5 381.3 55 381.1 55.6 380.9 56.1 380.7 56.7 380.6 57.2 380.5 57.8 380.5 58.3 380.4 58.9 380.4 59.4 380.3 60 380.3 60.5 380.3 61.1 380.3 61.6 380.2 62.2 380.2 62.7 380.2 63.3 380.2 63.8 380.2 64.4 380.2 64.9 380.2 65.5 380.2 66 380.2 66.6 380.1 67.1 380.1 67.7 380.1 68.2 380.1 68.8 380.1 69.3 380.1 69.9 380.1 70.4 380.1 71 380.1 71.5 380.1 72.1 380.1 72.6 380.1 73.2 380.1 73.7 380.1 74.3 380.1 74.8 380.1 75.4 380.1 75.9 380.1 76.5 380.1 77 380.1 77.6 380.1 78.1 380 78.7 380 79.2 380 79.8 380 80.3 380 80.9 380 81.4 380 82 380 82.5 380 83.1 380 83.6 380 84.2 380 84.7 380 85.3 380 85.8 380 86.4 380 86.9 380 87.5 380 88 380 88.6 380 89.1 380 89.7 380 90.2 380 90.8 380 91.3 380 91.9 380 92.4 380 93 380 93.5 380 94.1 380 94.6 380 95.2 380 95.7 380 96.3 380 96.8 380 97.4 379.9 97.9 379.9 98.5 379.9 99 379.9 99.6 379.9 100.1 379.9 100.7 379.9 101.2 379.9 101.8 379.9 102.3 379.9 102.9 379.9 103.4 379.9 104 379.9 104.5 379.9 105.1 379.9 105.6 379.9 106.2 379.9 106.7 379.9 107.3 379.9 107.8 379.9 108.4 379.9 108.9 379.9 109.5 379.9 110 379.8 110.6 379.8 111.1 379.8 111.7 379.8 112.2 379.8 112.8 379.8 113.3 379.8 113.9 379.8 114.4 379.8 115 379.8 115.5 379.8 116.1 379.8 116.6 379.7 117.2 379.7 117.7 379.7 118.3 379.7 118.8 379.7 119.4 379.7 119.9 379.7 120.5 379.6 121 379.6 121.6 379.6 122.1 379.6 122.7 379.6 123.2 379.5 123.8 379.5 124.3 379.5 124.9 379.5 125.4 379.4 126 379.4 126.5 379.4 127.1 379.3 127.6 379.3 128.2 379.2 128.7 379.2 129.3 379.1 129.8 379 130.4 379 130.9 378.9 131.5 378.8 132 378.7 132.6 378.6 133.1 378.4 133.7 378.3 134.2 378 134.8 377.8 135.3 377.4 135.9 376.9 136.4 376.3 137 375.5 137.5 374.3 138.1 372.8 138.6 370.9 139.2 368.5 139.7 365.6 140.3 362.1 140.8 358.3 141.4 354.1 141.9 349.8 142.5 345.8 143 342.4 143.6 340 144.1 339.1 144.7 339.7 145.2 341.7 145.8 344.9 146.3 348.7 146.9 352.7 147.4 356.7 148 360.4 148.5 363.7 149.1 366.5 149.6 368.9 150.2 370.7 150.7 372.2 151.3 373.3 151.8 374.1 152.4 374.7 152.9 375.1 153.5 375.5 154 375.7 154.6 375.9 155.1 376.1 155.7 376.2 156.2 376.3 156.8 376.4 157.3 376.5 157.9 376.6 158.4 376.7 159 376.7 159.5 376.8 160.1 376.8 160.6 376.9 161.2 376.9 161.7 376.9 162.3 377 162.8 377 163.4 377 163.9 377 164.5 377.1 165 377.1 165.6 377.1 166.1 377.1 166.7 377.1 167.2 377.2 167.8 377.2 168.3 377.2 168.9 377.2 169.4 377.2 170 377.2 170.5 377.2 171.1 377.2 171.6 377.2 172.2 377.3" fill="none" stroke="#2a2aff" stroke-width="0.9"/><path d="M133.9 378.2h0M134.5 377.9h0M135 377.6h0M135.6 377.2h0M136.1 376.6h0M136.7 375.9h0M137.2 374.9h0M137.8 373.6h0M138.3 371.9h0M138.9 369.7h0M139.4 367h0M140 363.8h0M140.5 360.2h0M141.1 356.2h0M141.6 352h0M142.2 347.8h0M142.7 344.1h0M143.3 341.2h0M143.8 339.5h0M144.4 339.4h0M144.9 340.7h0M145.5 343.3h0M146 346.8h0M146.6 350.7h0M147.1 354.7h0M147.7 358.6h0M148.2 362.1h0M148.8 365.1h0M149.3 367.7h0M149.9 369.8h0M150.4 371.4h0M151 372.7h0M151.5 373.7h0M152.1 374.4h0M152.6 374.9h0M153.2 375.3h0M153.7 375.6h0M154.3 375.8h0M154.8 376h0" stroke="#5050ff" stroke-width="1.8" stroke-linecap="round" fill="none"/></g><rect x="27" y="288.4" width="145.40" height="106.70" fill="none" stroke="#8a8a8a" stroke-width="1.2"/><path d="M27 395.1H172.4" stroke="#555" stroke-width="1.1"/><path d="M30.5 395.1v-1.8M34.4 395.1v-1.8M38.4 395.1v-1.8M42.3 395.1v-1.8M46.3 395.1v-3.2M50.2 395.1v-1.8M54.2 395.1v-1.8M58.1 395.1v-1.8M62.1 395.1v-1.8M66 395.1v-1.8M70 395.1v-1.8M74 395.1v-1.8M77.9 395.1v-1.8M81.8 395.1v-1.8M85.8 395.1v-3.2M89.8 395.1v-1.8M93.7 395.1v-1.8M97.7 395.1v-1.8M101.6 395.1v-1.8M105.5 395.1v-1.8M109.5 395.1v-1.8M113.5 395.1v-1.8M117.4 395.1v-1.8M121.3 395.1v-1.8M125.3 395.1v-3.2M129.2 395.1v-1.8M133.2 395.1v-1.8M137.2 395.1v-1.8M141.1 395.1v-1.8M145.1 395.1v-1.8M149 395.1v-1.8M152.9 395.1v-1.8M156.9 395.1v-1.8M160.9 395.1v-1.8M164.8 395.1v-3.2M168.8 395.1v-1.8" stroke="#222" stroke-width="0.9" fill="none"/><path d="M27 299h2.5M27 322h2.5M27 346h2.5M27 371h2.5" stroke="#444" stroke-width="0.8" fill="none"/><text transform="translate(46.30,407.5) scale(1.02,1)" font-size="10.5" text-anchor="middle">1020</text><text transform="translate(85.80,407.5) scale(1.02,1)" font-size="10.5" text-anchor="middle">1030</text><text transform="translate(125.30,407.5) scale(1.02,1)" font-size="10.5" text-anchor="middle">1040</text><text transform="translate(164.80,407.5) scale(1.02,1)" font-size="10.5" text-anchor="middle">1050</text><clipPath id="cbs"><rect x="190.2" y="288.4" width="145.7" height="106.70000000000005"/></clipPath><g clip-path="url(#cbs)"><path d="M190.7 389.5 191.3 389.5 191.9 389.5 192.5 389.5 193.1 389.5 193.7 389.5 194.3 389.5 194.9 389.5 195.5 389.5 196.1 389.5 196.7 389.5 197.3 389.5 197.9 389.4 198.5 389.4 199.1 389.4 199.7 389.4 200.3 389.4 200.9 389.4 201.5 389.4 202.1 389.4 202.7 389.4 203.3 389.4 203.9 389.4 204.5 389.4 205.1 389.4 205.7 389.3 206.3 389.3 206.9 389.3 207.5 389.3 208.1 389.3 208.7 389.3 209.3 389.2 209.9 389.2 210.5 389.2 211.1 389.2 211.7 389.1 212.3 389.1 212.9 389 213.5 388.9 214.1 388.8 214.7 388.7 215.3 388.5 215.9 388.3 216.5 388 217.1 387.7 217.7 387.4 218.3 387 218.9 386.6 219.5 386.2 220.1 385.8 220.7 385.4 221.3 385.1 221.9 384.8 222.5 384.6 223.1 384.4 223.7 384.2 224.3 384.1 224.9 384 225.5 384 226.1 383.9 226.7 383.8 227.3 383.8 227.9 383.8 228.5 383.8 229.1 383.7 229.7 383.7 230.3 383.7 230.9 383.7 231.5 383.7 232.1 383.6 232.7 383.6 233.3 383.6 233.9 383.6 234.5 383.6 235.1 383.6 235.7 383.6 236.3 383.6 236.9 383.6 237.5 383.5 238.1 383.5 238.7 383.5 239.3 383.5 239.9 383.5 240.5 383.5 241.1 383.5 241.7 383.5 242.3 383.5 242.9 383.5 243.5 383.5 244.1 383.4 244.7 383.4 245.3 383.4 245.9 383.4 246.5 383.4 247.1 383.4 247.7 383.4 248.3 383.4 248.9 383.4 249.5 383.4 250.1 383.3 250.7 383.3 251.3 383.3 251.9 383.3 252.5 383.3 253.1 383.2 253.7 383.2 254.3 383.2 254.9 383.1 255.5 383 256.1 382.9 256.7 382.8 257.3 382.7 257.9 382.5 258.5 382.2 259.1 382 259.7 381.7 260.3 381.3 260.9 381 261.5 380.7 262.1 380.4 262.7 380.1 263.3 379.8 263.9 379.6 264.5 379.4 265.1 379.2 265.7 379 266.3 378.8 266.9 378.7 267.5 378.5 268.1 378.4 268.7 378.4 269.3 378.3 269.9 378.2 270.5 378.1 271.1 378 271.7 378 272.3 377.9 272.9 377.8 273.5 377.7 274.1 377.6 274.7 377.4 275.3 377.3 275.9 377.2 276.5 377.1 277.1 377 277.7 376.8 278.3 376.7 278.9 376.6 279.5 376.5 280.1 376.4 280.7 376.3 281.3 376.2 281.9 376 282.5 376 283.1 375.9 283.7 375.8 284.3 375.7 284.9 375.6 285.5 375.6 286.1 375.5 286.7 375.4 287.3 375.4 287.9 375.4 288.5 375.3 289.1 375.3 289.7 375.3 290.3 375.2 290.9 375.2 291.5 375.2 292.1 375.2 292.7 375.2 293.3 375.1 293.9 375.1 294.5 375.1 295.1 375.1 295.7 375.1 296.3 375.1 296.9 375.1 297.5 375.1 298.1 375.1 298.7 375.1 299.3 375.1 299.9 375.1 300.5 375.1 301.1 375.1 301.7 375.1 302.3 375.1 302.9 375.1 303.5 375.1 304.1 375.1 304.7 375.1 305.3 375.1 305.9 375.1 306.5 375 307.1 375 307.7 375 308.3 375 308.9 375 309.5 375 310.1 375 310.7 375 311.3 375 311.9 375 312.5 375 313.1 375 313.7 375 314.3 375 314.9 375 315.5 375 316.1 375 316.7 375 317.3 375 317.9 375 318.5 375 319.1 375 319.7 375 320.3 375 320.9 375 321.5 375 322.1 375 322.7 375 323.3 375 323.9 375 324.5 375 325.1 375 325.7 375 326.3 375 326.9 375 327.5 375 328.1 375 328.7 375 329.3 375 329.9 375 330.5 375 331.1 375 331.7 375 332.3 375 332.9 375 333.5 375 334.1 375 334.7 375 335.3 375" fill="none" stroke="#222" stroke-width="0.8" stroke-dasharray="2 2"/><path d="M190.7 388.8 191.3 388.8 191.9 388.8 192.5 388.7 193.1 388.7 193.7 388.7 194.3 388.6 194.9 388.6 195.5 388.6 196.1 388.5 196.7 388.4 197.3 388.4 197.9 388.3 198.5 388.3 199.1 388.2 199.7 388.1 200.3 388 200.9 387.9 201.5 387.8 202.1 387.7 202.7 387.6 203.3 387.5 203.9 387.3 204.5 387.2 205.1 387 205.7 386.8 206.3 386.5 206.9 386.3 207.5 386 208.1 385.6 208.7 385.2 209.3 384.7 209.9 384 210.5 383.1 211.1 381.9 211.7 380.3 212.3 378.1 212.9 375.1 213.5 371.1 214.1 366 214.7 359.6 215.3 351.9 215.9 342.9 216.5 333.1 217.1 322.9 217.7 313.2 218.3 305.1 218.9 300 219.5 298.9 220.1 301.9 220.7 308.4 221.3 317 221.9 326.5 222.5 336.1 223.1 344.9 223.7 352.7 224.3 359.3 224.9 364.6 225.5 368.7 226.1 371.9 226.7 374.2 227.3 375.9 227.9 377.2 228.5 378.1 229.1 378.8 229.7 379.3 230.3 379.7 230.9 380 231.5 380.3 232.1 380.5 232.7 380.7 233.3 380.9 233.9 381 234.5 381.2 235.1 381.3 235.7 381.4 236.3 381.4 236.9 381.5 237.5 381.6 238.1 381.6 238.7 381.7 239.3 381.7 239.9 381.7 240.5 381.7 241.1 381.7 241.7 381.7 242.3 381.7 242.9 381.7 243.5 381.7 244.1 381.7 244.7 381.6 245.3 381.6 245.9 381.5 246.5 381.4 247.1 381.3 247.7 381.2 248.3 381.1 248.9 381 249.5 380.8 250.1 380.6 250.7 380.3 251.3 379.9 251.9 379.3 252.5 378.6 253.1 377.5 253.7 375.9 254.3 373.8 254.9 370.9 255.5 367.1 256.1 362.3 256.7 356.4 257.3 349.5 257.9 341.8 258.5 333.7 259.1 325.7 259.7 318.6 260.3 313.1 260.9 310.1 261.5 310 262.1 312.7 262.7 317.6 263.3 323.7 263.9 329.8 264.5 335 265.1 338.6 265.7 341.1 266.3 343.7 266.9 347.4 267.5 352.2 268.1 356.7 268.7 359.9 269.3 361.4 269.9 361.8 270.5 361.3 271.1 360.5 271.7 359.5 272.3 358.3 272.9 357.2 273.5 356.1 274.1 355 274.7 354 275.3 353.1 275.9 352.3 276.5 351.7 277.1 351.3 277.7 351 278.3 351 278.9 351.1 279.5 351.4 280.1 351.9 280.7 352.6 281.3 353.4 281.9 354.4 282.5 355.5 283.1 356.6 283.7 357.8 284.3 359.1 284.9 360.3 285.5 361.6 286.1 362.8 286.7 364 287.3 365.1 287.9 366.2 288.5 367.2 289.1 368.1 289.7 369 290.3 369.7 290.9 370.4 291.5 371.1 292.1 371.6 292.7 372.1 293.3 372.5 293.9 372.9 294.5 373.2 295.1 373.4 295.7 373.6 296.3 373.8 296.9 374 297.5 374.1 298.1 374.2 298.7 374.3 299.3 374.3 299.9 374.4 300.5 374.5 301.1 374.5 301.7 374.5 302.3 374.6 302.9 374.6 303.5 374.6 304.1 374.6 304.7 374.6 305.3 374.6 305.9 374.7 306.5 374.7 307.1 374.7 307.7 374.7 308.3 374.7 308.9 374.7 309.5 374.7 310.1 374.7 310.7 374.7 311.3 374.7 311.9 374.7 312.5 374.8 313.1 374.8 313.7 374.8 314.3 374.8 314.9 374.8 315.5 374.8 316.1 374.8 316.7 374.8 317.3 374.8 317.9 374.8 318.5 374.8 319.1 374.8 319.7 374.8 320.3 374.8 320.9 374.8 321.5 374.8 322.1 374.8 322.7 374.8 323.3 374.8 323.9 374.8 324.5 374.8 325.1 374.8 325.7 374.8 326.3 374.8 326.9 374.8 327.5 374.8 328.1 374.8 328.7 374.8 329.3 374.9 329.9 374.9 330.5 374.9 331.1 374.9 331.7 374.9 332.3 374.9 332.9 374.9 333.5 374.9 334.1 374.9 334.7 374.9 335.3 374.9" fill="none" stroke="#333" stroke-width="0.8"/><path d="M189.1 388.8 189.7 389 190.3 388.6 190.9 388.3 191.5 388.5 192.1 388.2 192.7 388.7 193.3 389.3 193.9 388.3 194.5 388.2 195.1 388.7 195.7 388.6 196.3 388.4 196.9 387.8 197.5 388.2 198.1 388.5 198.7 387.4 199.3 387.7 199.9 386.9 200.5 387.1 201.1 386.7 201.7 387.4 202.3 386.7 202.9 387.3 203.5 387.1 204.1 386.7 204.7 385.3 205.3 386 205.9 386 206.5 385.7 207.1 384.4 207.7 384.4 208.3 383.5 208.9 382.7 209.5 382.4 210.1 379.9 210.7 378 211.3 375.5 211.9 370.8 212.5 365.9 213.1 359.7 213.7 351.9 214.3 342.3 214.9 333.1 215.5 323.6 216.1 312.4 216.7 305.6 217.3 300.1 217.9 298.6 218.5 303 219.1 308.8 219.7 316.4 220.3 326.6 220.9 336.4 221.5 344.9 222.1 353.1 222.7 359.3 223.3 365 223.9 369.6 224.5 371.7 225.1 374.5 225.7 375.9 226.3 377.5 226.9 377.8 227.5 378.9 228.1 379.6 228.7 380.7 229.3 381.2 229.9 380.4 230.5 381 231.1 382 231.7 381 232.3 382 232.9 382.5 233.5 383.4 234.1 383.4 234.7 383.1 235.3 383.3 235.9 383.6 236.5 384.7 237.1 383.9 237.7 384.2 238.3 384.7 238.9 384.6 239.5 384.7 240.1 384.4 240.7 385 241.3 384.9 241.9 385.7 242.5 385.5 243.1 385.1 243.7 385.4 244.3 384.8 244.9 385.4 245.5 384.7 246.1 384.8 246.7 383.7 247.3 384.2 247.9 382.9 248.5 382.3 249.1 382.8 249.7 381.9 250.3 381.7 250.9 381.8 251.5 379.1 252.1 377.5 252.7 375.6 253.3 372.7 253.9 368.4 254.5 363.4 255.1 357.8 255.7 350.7 256.3 342.1 256.9 334.4 257.5 326.3 258.1 318.6 258.7 313.7 259.3 310.1 259.9 310.8 260.5 313.1 261.1 317.9 261.7 323.6 262.3 329.9 262.9 334 263.5 338 264.1 341.2 264.7 342.5 265.3 347.7 265.9 351 266.5 356.7 267.1 359 267.7 361.3 268.3 361.2 268.9 359.8 269.5 360.2 270.1 359.2 270.7 357.1 271.3 355.7 271.9 354.4 272.5 352.7 273.1 352.5 273.7 350.5 274.3 349.7 274.9 348.4 275.5 347.8 276.1 346.9 276.7 347.8 277.3 347 277.9 347.6 278.5 347.4 279.1 347.5 279.7 348.3 280.3 349 280.9 350.2 281.5 351 282.1 352.2 282.7 352.8 283.3 354.4 283.9 356.9 284.5 357 285.1 358.1 285.7 360.1 286.3 361.8 286.9 361.6 287.5 363.3 288.1 364.2 288.7 364.6 289.3 366.7 289.9 367.2 290.5 368 291.1 368.2 291.7 369.5 292.3 369.5 292.9 370.1 293.5 370.1 294.1 370.4 294.7 371.9 295.3 371.3 295.9 371.9 296.5 371.9 297.1 371.8 297.7 371.9 298.3 372.6 298.9 372.2 299.5 372.3 300.1 372.4 300.7 373.1 301.3 372.8 301.9 372.7 302.5 372.3 303.1 371.9 303.7 373.1 304.3 373.1 304.9 372.6 305.5 373 306.1 373.1 306.7 373.2 307.3 373.3 307.9 372.6 308.5 373.6 309.1 372.3 309.7 373.4 310.3 373.3 310.9 373.5 311.5 374.1 312.1 373.9 312.7 372.7 313.3 372.4 313.9 373.8 314.5 372.9 315.1 373.5 315.7 374 316.3 372.8 316.9 372.6 317.5 373.8 318.1 373.8 318.7 373.7 319.3 373.9 319.9 373.5 320.5 373.3 321.1 374 321.7 373.6 322.3 373.3 322.9 374.5 323.5 374.2 324.1 374.5 324.7 373.9 325.3 374.1 325.9 373.9 326.5 374 327.1 374.6 327.7 374.1 328.3 374.7 328.9 374.8 329.5 375.6 330.1 373.9 330.7 375.1 331.3 374.6 331.9 374.7 332.5 374 333.1 374.5 333.7 375.1" fill="none" stroke="#666" stroke-width="0.7"/><path d="M189.1 388.8h0M189.7 389h0M190.3 388.6h0M190.9 388.3h0M191.5 388.5h0M192.1 388.2h0M192.7 388.7h0M193.3 389.3h0M193.9 388.3h0M194.5 388.2h0M195.1 388.7h0M195.7 388.6h0M196.3 388.4h0M196.9 387.8h0M197.5 388.2h0M198.1 388.5h0M198.7 387.4h0M199.3 387.7h0M199.9 386.9h0M200.5 387.1h0M201.1 386.7h0M201.7 387.4h0M202.3 386.7h0M202.9 387.3h0M203.5 387.1h0M204.1 386.7h0M204.7 385.3h0M205.3 386h0M205.9 386h0M206.5 385.7h0M207.1 384.4h0M207.7 384.4h0M208.3 383.5h0M208.9 382.7h0M209.5 382.4h0M210.1 379.9h0M210.7 378h0M211.3 375.5h0M211.9 370.8h0M212.5 365.9h0M213.1 359.7h0M213.7 351.9h0M214.3 342.3h0M214.9 333.1h0M215.5 323.6h0M216.1 312.4h0M216.7 305.6h0M217.3 300.1h0M217.9 298.6h0M218.5 303h0M219.1 308.8h0M219.7 316.4h0M220.3 326.6h0M220.9 336.4h0M221.5 344.9h0M222.1 353.1h0M222.7 359.3h0M223.3 365h0M223.9 369.6h0M224.5 371.7h0M225.1 374.5h0M225.7 375.9h0M226.3 377.5h0M226.9 377.8h0M227.5 378.9h0M228.1 379.6h0M228.7 380.7h0M229.3 381.2h0M229.9 380.4h0M230.5 381h0M231.1 382h0M231.7 381h0M232.3 382h0M232.9 382.5h0M233.5 383.4h0M234.1 383.4h0M234.7 383.1h0M235.3 383.3h0M235.9 383.6h0M236.5 384.7h0M237.1 383.9h0M237.7 384.2h0M238.3 384.7h0M238.9 384.6h0M239.5 384.7h0M240.1 384.4h0M240.7 385h0M241.3 384.9h0M241.9 385.7h0M242.5 385.5h0M243.1 385.1h0M243.7 385.4h0M244.3 384.8h0M244.9 385.4h0M245.5 384.7h0M246.1 384.8h0M246.7 383.7h0M247.3 384.2h0M247.9 382.9h0M248.5 382.3h0M249.1 382.8h0M249.7 381.9h0M250.3 381.7h0M250.9 381.8h0M251.5 379.1h0M252.1 377.5h0M252.7 375.6h0M253.3 372.7h0M253.9 368.4h0M254.5 363.4h0M255.1 357.8h0M255.7 350.7h0M256.3 342.1h0M256.9 334.4h0M257.5 326.3h0M258.1 318.6h0M258.7 313.7h0M259.3 310.1h0M259.9 310.8h0M260.5 313.1h0M261.1 317.9h0M261.7 323.6h0M262.3 329.9h0M262.9 334h0M263.5 338h0M264.1 341.2h0M264.7 342.5h0M265.3 347.7h0M265.9 351h0M266.5 356.7h0M267.1 359h0M267.7 361.3h0M268.3 361.2h0M268.9 359.8h0M269.5 360.2h0M270.1 359.2h0M270.7 357.1h0M271.3 355.7h0M271.9 354.4h0M272.5 352.7h0M273.1 352.5h0M273.7 350.5h0M274.3 349.7h0M274.9 348.4h0M275.5 347.8h0M276.1 346.9h0M276.7 347.8h0M277.3 347h0M277.9 347.6h0M278.5 347.4h0M279.1 347.5h0M279.7 348.3h0M280.3 349h0M280.9 350.2h0M281.5 351h0M282.1 352.2h0M282.7 352.8h0M283.3 354.4h0M283.9 356.9h0M284.5 357h0M285.1 358.1h0M285.7 360.1h0M286.3 361.8h0M286.9 361.6h0M287.5 363.3h0M288.1 364.2h0M288.7 364.6h0M289.3 366.7h0M289.9 367.2h0M290.5 368h0M291.1 368.2h0M291.7 369.5h0M292.3 369.5h0M292.9 370.1h0M293.5 370.1h0M294.1 370.4h0M294.7 371.9h0M295.3 371.3h0M295.9 371.9h0M296.5 371.9h0M297.1 371.8h0M297.7 371.9h0M298.3 372.6h0M298.9 372.2h0M299.5 372.3h0M300.1 372.4h0M300.7 373.1h0M301.3 372.8h0M301.9 372.7h0M302.5 372.3h0M303.1 371.9h0M303.7 373.1h0M304.3 373.1h0M304.9 372.6h0M305.5 373h0M306.1 373.1h0M306.7 373.2h0M307.3 373.3h0M307.9 372.6h0M308.5 373.6h0M309.1 372.3h0M309.7 373.4h0M310.3 373.3h0M310.9 373.5h0M311.5 374.1h0M312.1 373.9h0M312.7 372.7h0M313.3 372.4h0M313.9 373.8h0M314.5 372.9h0M315.1 373.5h0M315.7 374h0M316.3 372.8h0M316.9 372.6h0M317.5 373.8h0M318.1 373.8h0M318.7 373.7h0M319.3 373.9h0M319.9 373.5h0M320.5 373.3h0M321.1 374h0M321.7 373.6h0M322.3 373.3h0M322.9 374.5h0M323.5 374.2h0M324.1 374.5h0M324.7 373.9h0M325.3 374.1h0M325.9 373.9h0M326.5 374h0M327.1 374.6h0M327.7 374.1h0M328.3 374.7h0M328.9 374.8h0M329.5 375.6h0M330.1 373.9h0M330.7 375.1h0M331.3 374.6h0M331.9 374.7h0M332.5 374h0M333.1 374.5h0M333.7 375.1h0" stroke="#000" stroke-width="4.2" stroke-linecap="round" fill="none"/><marker id="ocbs" markerUnits="userSpaceOnUse" markerWidth="5.800000000000001" markerHeight="5.800000000000001" refX="2.9000000000000004" refY="2.9000000000000004" overflow="visible"><circle cx="2.9000000000000004" cy="2.9000000000000004" r="2.1" fill="#fff" stroke="#111" stroke-width="0.8"/></marker><path d="M191 388.8 191.6 388.8 192.2 388.8 192.8 388.7 193.4 388.7 194 388.7 194.6 388.6 195.2 388.6 195.8 388.5 196.4 388.5 197 388.4 197.6 388.4 198.2 388.3 198.8 388.2 199.4 388.2 200 388.1 200.6 388 201.2 387.9 201.8 387.8 202.4 387.7 203 387.5 203.6 387.4 204.2 387.3 204.8 387.1 205.4 386.9 206 386.7 206.6 386.4 207.2 386.1 207.8 385.8 208.4 385.4 209 384.9 209.6 384.3 210.2 383.6 210.8 382.5 211.4 381.1 212 379.2 212.6 376.7 213.2 373.2 213.8 368.7 214.4 363 215 355.9 215.6 347.5 216.2 338.1 216.8 328 217.4 317.9 218 308.9 218.6 302.1 219.2 299 219.8 299.9 220.4 304.8 221 312.5 221.6 321.7 222.2 331.3 222.8 340.6 223.4 349 224 356.2 224.6 362.1 225.2 366.8 225.8 370.4 226.4 373.1 227 375.1 227.6 376.6 228.2 377.7 228.8 378.4 229.4 379 230 379.5 230.6 379.9 231.2 380.2 231.8 380.4 232.4 380.6 233 380.8 233.6 381 234.2 381.1 234.8 381.2 235.4 381.3 236 381.4 236.6 381.5 237.2 381.5 237.8 381.6 238.4 381.6 239 381.7 239.6 381.7 240.2 381.7 240.8 381.7 241.4 381.7 242 381.7 242.6 381.7 243.2 381.7 243.8 381.7 244.4 381.6 245 381.6 245.6 381.5 246.2 381.5 246.8 381.4 247.4 381.3 248 381.2 248.6 381 249.2 380.9 249.8 380.7 250.4 380.4 251 380.1 251.6 379.6 252.2 379 252.8 378.1 253.4 376.8 254 375 254.6 372.5 255.2 369.2 255.8 364.9 256.4 359.5 257 353.1 257.6 345.7 258.2 337.8 258.8 329.6 259.4 322 260 315.6 260.6 311.3 261.2 309.7 261.8 311.1 262.4 315 263 320.6 263.6 326.9 264.2 332.6 264.8 337 265.4 339.9 266 342.3 266.6 345.4 267.2 349.7 267.8 354.5 268.4 358.5 269 360.8 269.6 361.7 270.2 361.6 270.8 360.9 271.4 360 272 358.9 272.6 357.8 273.2 356.6 273.8 355.5 274.4 354.5 275 353.5 275.6 352.7 276.2 352 276.8 351.5 277.4 351.1 278 351 278.6 351 279.2 351.2 279.8 351.7 280.4 352.3 281 353 281.6 353.9 282.2 354.9 282.8 356 283.4 357.2 284 358.4 284.6 359.7 285.2 360.9 285.8 362.2 286.4 363.4 287 364.6 287.6 365.7 288.2 366.7 288.8 367.7 289.4 368.6 290 369.4 290.6 370.1 291.2 370.8 291.8 371.3 292.4 371.9 293 372.3 293.6 372.7 294.2 373 294.8 373.3 295.4 373.5 296 373.7 296.6 373.9 297.2 374 297.8 374.1 298.4 374.2 299 374.3 299.6 374.4 300.2 374.4 300.8 374.5 301.4 374.5 302 374.5 302.6 374.6 303.2 374.6 303.8 374.6 304.4 374.6 305 374.6 305.6 374.7 306.2 374.7 306.8 374.7 307.4 374.7 308 374.7 308.6 374.7 309.2 374.7 309.8 374.7 310.4 374.7 311 374.7 311.6 374.7 312.2 374.7 312.8 374.8 313.4 374.8 314 374.8 314.6 374.8 315.2 374.8 315.8 374.8 316.4 374.8 317 374.8 317.6 374.8 318.2 374.8 318.8 374.8 319.4 374.8 320 374.8 320.6 374.8 321.2 374.8 321.8 374.8 322.4 374.8 323 374.8 323.6 374.8 324.2 374.8 324.8 374.8 325.4 374.8 326 374.8 326.6 374.8 327.2 374.8 327.8 374.8 328.4 374.8 329 374.8 329.6 374.9 330.2 374.9 330.8 374.9 331.4 374.9 332 374.9 332.6 374.9 333.2 374.9 333.8 374.9 334.4 374.9 335 374.9 335.6 374.9" fill="none" stroke="none" marker-start="url(#ocbs)" marker-mid="url(#ocbs)" marker-end="url(#ocbs)"/><path d="M190.7 388.9h0M191.9 388.9h0M193.1 388.8h0M194.3 388.7h0M195.5 388.6h0M196.7 388.5h0M197.9 388.4h0M199.1 388.3h0M200.3 388.1h0M201.5 387.9h0M202.7 387.7h0M203.9 387.4h0M205.1 387.1h0M206.3 386.7h0M207.5 386.1h0M208.7 385.3h0M209.9 384.1h0M211.1 382h0M212.3 378.2h0M213.5 371.3h0M214.7 359.8h0M215.9 343.1h0M217.1 323.1h0M218.3 305.3h0M219.5 299.1h0M220.7 308.6h0M221.9 326.7h0M223.1 345.2h0M224.3 359.5h0M225.5 369h0M226.7 374.5h0M227.9 377.5h0M229.1 379.1h0M230.3 380h0M231.5 380.7h0M232.7 381.1h0M233.9 381.5h0M235.1 381.7h0M236.3 382h0M237.5 382.1h0M238.7 382.3h0M239.9 382.4h0M241.1 382.5h0M242.3 382.6h0M243.5 382.7h0M244.7 382.7h0M245.9 382.8h0M247.1 382.8h0M248.3 382.8h0M249.5 382.8h0M250.7 382.8h0M251.9 382.8h0M253.1 382.8h0M254.3 382.8h0M255.5 382.7h0M256.7 382.5h0M257.9 382.1h0M259.1 381.7h0M260.3 381.1h0M261.5 380.4h0M262.7 379.8h0M263.9 379.3h0M265.1 378.9h0M266.3 378.6h0M267.5 378.3h0M268.7 378.2h0M269.9 378h0M271.1 377.9h0M272.3 377.7h0M273.5 377.5h0M274.7 377.3h0M275.9 377.1h0M277.1 376.8h0M278.3 376.6h0M279.5 376.4h0M280.7 376.1h0M281.9 375.9h0M283.1 375.7h0M284.3 375.6h0M285.5 375.4h0M286.7 375.3h0M287.9 375.3h0M289.1 375.2h0M290.3 375.1h0M291.5 375.1h0M292.7 375.1h0M293.9 375h0M295.1 375h0M296.3 375h0M297.5 375h0M298.7 375h0M299.9 375h0M301.1 375h0M302.3 375h0M303.5 375h0M304.7 375h0M305.9 375h0M307.1 375h0M308.3 375h0M309.5 375h0M310.7 375h0M311.9 375h0M313.1 375h0M314.3 375h0M315.5 375h0M316.7 375h0M317.9 375h0M319.1 375h0M320.3 375h0M321.5 375h0M322.7 375h0M323.9 375h0M325.1 375h0M326.3 375h0M327.5 375h0M328.7 375h0M329.9 375h0M331.1 375h0M332.3 375h0M333.5 375h0M334.7 375h0" stroke="#2a2aff" stroke-width="1.2" stroke-linecap="round" fill="none"/><path d="M190.7 389.4h0M191.9 389.4h0M193.1 389.4h0M194.3 389.4h0M195.5 389.4h0M196.7 389.4h0M197.9 389.4h0M199.1 389.4h0M200.3 389.4h0M201.5 389.3h0M202.7 389.3h0M203.9 389.3h0M205.1 389.3h0M206.3 389.2h0M207.5 389.2h0M208.7 389.2h0M209.9 389.1h0M211.1 389h0M212.3 388.9h0M213.5 388.8h0M214.7 388.5h0M215.9 388.1h0M217.1 387.6h0M218.3 386.8h0M219.5 386h0M220.7 385.2h0M221.9 384.6h0M223.1 384.2h0M224.3 383.9h0M225.5 383.7h0M226.7 383.6h0M227.9 383.5h0M229.1 383.5h0M230.3 383.4h0M231.5 383.4h0M232.7 383.3h0M233.9 383.2h0M235.1 383.2h0M236.3 383.1h0M237.5 383.1h0M238.7 383h0M239.9 382.9h0M241.1 382.8h0M242.3 382.7h0M243.5 382.6h0M244.7 382.5h0M245.9 382.3h0M247.1 382.1h0M248.3 381.8h0M249.5 381.5h0M250.7 381h0M251.9 380h0M253.1 378.2h0M254.3 374.5h0M255.5 367.9h0M256.7 357.2h0M257.9 342.7h0M259.1 326.8h0M260.3 314.6h0M261.5 311.9h0M262.7 320.3h0M263.9 334.7h0M265.1 349.2h0M266.3 360.6h0M267.5 368.1h0M268.7 372.3h0M269.9 374.4h0M271.1 375.4h0M272.3 375.8h0M273.5 376h0M274.7 376.1h0M275.9 376h0M277.1 376h0M278.3 375.9h0M279.5 375.7h0M280.7 375.6h0M281.9 375.4h0M283.1 375.3h0M284.3 375.2h0M285.5 375.1h0M286.7 375h0M287.9 375h0M289.1 374.9h0M290.3 374.9h0M291.5 374.9h0M292.7 374.9h0M293.9 374.9h0M295.1 374.9h0M296.3 374.9h0M297.5 374.9h0M298.7 374.9h0M299.9 374.9h0M301.1 374.9h0M302.3 374.9h0M303.5 374.9h0M304.7 374.9h0M305.9 374.9h0M307.1 374.9h0M308.3 374.9h0M309.5 374.9h0M310.7 374.9h0M311.9 374.9h0M313.1 374.9h0M314.3 374.9h0M315.5 374.9h0M316.7 374.9h0M317.9 374.9h0M319.1 374.9h0M320.3 374.9h0M321.5 374.9h0M322.7 374.9h0M323.9 374.9h0M325.1 374.9h0M326.3 374.9h0M327.5 374.9h0M328.7 374.9h0M329.9 374.9h0M331.1 374.9h0M332.3 375h0M333.5 375h0M334.7 375h0" stroke="#2a2aff" stroke-width="1.2" stroke-linecap="round" fill="none"/><path d="M190.7 389.5h0M191.9 389.5h0M193.1 389.5h0M194.3 389.5h0M195.5 389.5h0M196.7 389.5h0M197.9 389.4h0M199.1 389.4h0M200.3 389.4h0M201.5 389.4h0M202.7 389.4h0M203.9 389.4h0M205.1 389.4h0M206.3 389.3h0M207.5 389.3h0M208.7 389.3h0M209.9 389.2h0M211.1 389.2h0M212.3 389.1h0M213.5 388.9h0M214.7 388.7h0M215.9 388.3h0M217.1 387.7h0M218.3 387h0M219.5 386.2h0M220.7 385.4h0M221.9 384.8h0M223.1 384.4h0M224.3 384.1h0M225.5 384h0M226.7 383.8h0M227.9 383.8h0M229.1 383.7h0M230.3 383.7h0M231.5 383.7h0M232.7 383.6h0M233.9 383.6h0M235.1 383.6h0M236.3 383.6h0M237.5 383.5h0M238.7 383.5h0M239.9 383.5h0M241.1 383.5h0M242.3 383.5h0M243.5 383.5h0M244.7 383.4h0M245.9 383.4h0M247.1 383.4h0M248.3 383.4h0M249.5 383.4h0M250.7 383.3h0M251.9 383.3h0M253.1 383.2h0M254.3 383.2h0M255.5 383h0M256.7 382.8h0M257.9 382.5h0M259.1 382h0M260.3 381.3h0M261.5 380.7h0M262.7 379.9h0M263.9 378.2h0M265.1 373.2h0M266.3 368h0M267.5 370.5h0M268.7 375.9h0M269.9 377.9h0M271.1 378h0M272.3 377.9h0M273.5 377.7h0M274.7 377.4h0M275.9 377.2h0M277.1 377h0M278.3 376.7h0M279.5 376.5h0M280.7 376.3h0M281.9 376h0M283.1 375.9h0M284.3 375.7h0M285.5 375.6h0M286.7 375.4h0M287.9 375.4h0M289.1 375.3h0M290.3 375.2h0M291.5 375.2h0M292.7 375.2h0M293.9 375.1h0M295.1 375.1h0M296.3 375.1h0M297.5 375.1h0M298.7 375.1h0M299.9 375.1h0M301.1 375.1h0M302.3 375.1h0M303.5 375.1h0M304.7 375.1h0M305.9 375.1h0M307.1 375h0M308.3 375h0M309.5 375h0M310.7 375h0M311.9 375h0M313.1 375h0M314.3 375h0M315.5 375h0M316.7 375h0M317.9 375h0M319.1 375h0M320.3 375h0M321.5 375h0M322.7 375h0M323.9 375h0M325.1 375h0M326.3 375h0M327.5 375h0M328.7 375h0M329.9 375h0M331.1 375h0M332.3 375h0M333.5 375h0M334.7 375h0" stroke="#2a2aff" stroke-width="1.2" stroke-linecap="round" fill="none"/><path d="M190.7 389.5h0M191.9 389.5h0M193.1 389.5h0M194.3 389.5h0M195.5 389.4h0M196.7 389.4h0M197.9 389.4h0M199.1 389.4h0M200.3 389.4h0M201.5 389.4h0M202.7 389.4h0M203.9 389.3h0M205.1 389.3h0M206.3 389.3h0M207.5 389.3h0M208.7 389.2h0M209.9 389.2h0M211.1 389.1h0M212.3 389h0M213.5 388.9h0M214.7 388.6h0M215.9 388.2h0M217.1 387.7h0M218.3 386.9h0M219.5 386.1h0M220.7 385.3h0M221.9 384.7h0M223.1 384.3h0M224.3 384.1h0M225.5 383.9h0M226.7 383.8h0M227.9 383.7h0M229.1 383.7h0M230.3 383.6h0M231.5 383.6h0M232.7 383.6h0M233.9 383.5h0M235.1 383.5h0M236.3 383.5h0M237.5 383.4h0M238.7 383.4h0M239.9 383.4h0M241.1 383.4h0M242.3 383.4h0M243.5 383.3h0M244.7 383.3h0M245.9 383.3h0M247.1 383.2h0M248.3 383.2h0M249.5 383.2h0M250.7 383.1h0M251.9 383.1h0M253.1 383h0M254.3 382.9h0M255.5 382.7h0M256.7 382.3h0M257.9 381.8h0M259.1 381.1h0M260.3 380.2h0M261.5 379h0M262.7 377.8h0M263.9 376.4h0M265.1 374.8h0M266.3 373h0M267.5 370.9h0M268.7 368.6h0M269.9 366h0M271.1 363.3h0M272.3 360.5h0M273.5 357.9h0M274.7 355.5h0M275.9 353.6h0M277.1 352.4h0M278.3 352h0M279.5 352.3h0M280.7 353.4h0M281.9 355.1h0M283.1 357.3h0M284.3 359.7h0M285.5 362.1h0M286.7 364.5h0M287.9 366.7h0M289.1 368.6h0M290.3 370.2h0M291.5 371.4h0M292.7 372.4h0M293.9 373.2h0M295.1 373.7h0M296.3 374.1h0M297.5 374.4h0M298.7 374.5h0M299.9 374.7h0M301.1 374.7h0M302.3 374.8h0M303.5 374.8h0M304.7 374.8h0M305.9 374.9h0M307.1 374.9h0M308.3 374.9h0M309.5 374.9h0M310.7 374.9h0M311.9 374.9h0M313.1 374.9h0M314.3 374.9h0M315.5 374.9h0M316.7 374.9h0M317.9 374.9h0M319.1 374.9h0M320.3 374.9h0M321.5 374.9h0M322.7 374.9h0M323.9 374.9h0M325.1 374.9h0M326.3 374.9h0M327.5 374.9h0M328.7 374.9h0M329.9 374.9h0M331.1 374.9h0M332.3 375h0M333.5 375h0M334.7 375h0" stroke="#2a2aff" stroke-width="1.2" stroke-linecap="round" fill="none"/></g><rect x="190.2" y="288.4" width="145.70" height="106.70" fill="none" stroke="#8a8a8a" stroke-width="1.2"/><path d="M190.2 395.1H335.9" stroke="#555" stroke-width="1.1"/><path d="M190.3 395.1v-3.2M195.1 395.1v-1.8M199.9 395.1v-1.8M204.7 395.1v-1.8M209.5 395.1v-1.8M214.3 395.1v-1.8M219.1 395.1v-1.8M223.9 395.1v-1.8M228.7 395.1v-1.8M233.5 395.1v-1.8M238.3 395.1v-3.2M243.1 395.1v-1.8M247.9 395.1v-1.8M252.7 395.1v-1.8M257.5 395.1v-1.8M262.3 395.1v-1.8M267.1 395.1v-1.8M271.9 395.1v-1.8M276.7 395.1v-1.8M281.5 395.1v-1.8M286.3 395.1v-3.2M291.1 395.1v-1.8M295.9 395.1v-1.8M300.7 395.1v-1.8M305.5 395.1v-1.8M310.3 395.1v-1.8M315.1 395.1v-1.8M319.9 395.1v-1.8M324.7 395.1v-1.8M329.5 395.1v-1.8M334.3 395.1v-3.2" stroke="#222" stroke-width="0.9" fill="none"/><path d="" stroke="#444" stroke-width="0.8" fill="none"/><text transform="translate(190.30,407.5) scale(1.02,1)" font-size="10.5" text-anchor="middle">480</text><text transform="translate(238.30,407.5) scale(1.02,1)" font-size="10.5" text-anchor="middle">490</text><text transform="translate(286.30,407.5) scale(1.02,1)" font-size="10.5" text-anchor="middle">500</text><text transform="translate(334.30,407.5) scale(1.02,1)" font-size="10.5" text-anchor="middle">510</text><clipPath id="cbn"><rect x="27" y="408.4" width="145.4" height="105.89999999999998"/></clipPath><g clip-path="url(#cbn)"><path d="M27.5 506.5 28.3 506.5 29.1 506.5 29.9 506.4 30.7 506.4 31.5 506.4 32.3 506.4 33.1 506.3 33.9 506.3 34.7 506.3 35.5 506.3 36.3 506.2 37.1 506.2 37.9 506.2 38.7 506.2 39.5 506.1 40.3 506.1 41.1 506.1 41.9 506.1 42.7 506.1 43.5 506 44.3 506 45.1 506 45.9 506 46.7 505.9 47.5 505.9 48.3 505.9 49.1 505.9 49.9 505.8 50.7 505.8 51.5 505.8 52.3 505.8 53.1 505.7 53.9 505.7 54.7 505.7 55.5 505.6 56.3 505.6 57.1 505.6 57.9 505.5 58.7 505.5 59.5 505.4 60.3 505.4 61.1 505.3 61.9 505.2 62.7 505.2 63.5 505.1 64.3 505 65.1 504.9 65.9 504.8 66.7 504.7 67.5 504.6 68.3 504.6 69.1 504.5 69.9 504.4 70.7 504.3 71.5 504.3 72.3 504.2 73.1 504.1 73.9 504.1 74.7 504 75.5 504 76.3 503.9 77.1 503.9 77.9 503.8 78.7 503.8 79.5 503.7 80.3 503.7 81.1 503.6 81.9 503.6 82.7 503.5 83.5 503.5 84.3 503.4 85.1 503.4 85.9 503.4 86.7 503.3 87.5 503.3 88.3 503.3 89.1 503.2 89.9 503.2 90.7 503.2 91.5 503.2 92.3 503.1 93.1 503.1 93.9 503.1 94.7 503.1 95.5 503 96.3 503 97.1 503 97.9 503 98.7 503 99.5 502.9 100.3 502.9 101.1 502.9 101.9 502.9 102.7 502.8 103.5 502.8 104.3 502.8 105.1 502.8 105.9 502.7 106.7 502.7 107.5 502.7 108.3 502.7 109.1 502.6 109.9 502.6 110.7 502.6 111.5 502.6 112.3 502.5 113.1 502.5 113.9 502.5 114.7 502.5 115.5 502.4 116.3 502.4 117.1 502.4 117.9 502.4 118.7 502.3 119.5 502.3 120.3 502.2 121.1 502.2 121.9 502.2 122.7 502.1 123.5 502.1 124.3 502 125.1 502 125.9 501.9 126.7 501.9 127.5 501.8 128.3 501.8 129.1 501.8 129.9 501.7 130.7 501.7 131.5 501.7 132.3 501.7 133.1 501.6 133.9 501.6 134.7 501.6 135.5 501.6 136.3 501.5 137.1 501.5 137.9 501.5 138.7 501.5 139.5 501.4 140.3 501.4 141.1 501.4 141.9 501.4 142.7 501.3 143.5 501.3 144.3 501.3 145.1 501.3 145.9 501.2 146.7 501.2 147.5 501.2 148.3 501.2 149.1 501.2 149.9 501.1 150.7 501.1 151.5 501.1 152.3 501.1 153.1 501 153.9 501 154.7 501 155.5 501 156.3 500.9 157.1 500.9 157.9 500.9 158.7 500.9 159.5 500.9 160.3 500.8 161.1 500.8 161.9 500.8 162.7 500.8 163.5 500.7 164.3 500.7 165.1 500.7 165.9 500.7 166.7 500.6 167.5 500.6 168.3 500.6 169.1 500.6 169.9 500.5 170.7 500.5 171.5 500.5" fill="none" stroke="#222" stroke-width="0.8" stroke-dasharray="2 2"/><path d="M27.5 506.2 28.3 506.2 29.1 506.2 29.9 506.1 30.7 506.1 31.5 506.1 32.3 506 33.1 506 33.9 505.9 34.7 505.9 35.5 505.9 36.3 505.8 37.1 505.8 37.9 505.7 38.7 505.7 39.5 505.6 40.3 505.6 41.1 505.5 41.9 505.4 42.7 505.4 43.5 505.3 44.3 505.2 45.1 505.1 45.9 505.1 46.7 504.9 47.5 504.8 48.3 504.6 49.1 504.4 49.9 504 50.7 503.5 51.5 502.9 52.3 501.9 53.1 500.6 53.9 498.8 54.7 496.5 55.5 493.4 56.3 489.5 57.1 484.7 57.9 478.9 58.7 472.2 59.5 464.6 60.3 456.5 61.1 447.9 61.9 439.4 62.7 431.3 63.5 424.1 64.3 418.3 65.1 414.3 65.9 412.3 66.7 412.5 67.5 414.7 68.3 418.6 69.1 423.8 69.9 429.6 70.7 435.6 71.5 441.3 72.3 446.4 73.1 450.6 73.9 453.7 74.7 455.9 75.5 457.3 76.3 458.1 77.1 458.7 77.9 459.4 78.7 460.4 79.5 462 80.3 464.2 81.1 467.1 81.9 470.4 82.7 474.1 83.5 478 84.3 481.8 85.1 485.4 85.9 488.7 86.7 491.7 87.5 494.1 88.3 496.2 89.1 497.8 89.9 499.1 90.7 500 91.5 500.7 92.3 501.2 93.1 501.6 93.9 501.8 94.7 502 95.5 502.1 96.3 502.2 97.1 502.2 97.9 502.2 98.7 502.2 99.5 502.2 100.3 502.2 101.1 502.2 101.9 502.2 102.7 502.2 103.5 502.2 104.3 502.2 105.1 502.2 105.9 502.2 106.7 502.1 107.5 502.1 108.3 502 109.1 502 109.9 501.9 110.7 501.8 111.5 501.7 112.3 501.4 113.1 501 113.9 500.4 114.7 499.4 115.5 498.1 116.3 496.1 117.1 493.6 117.9 490.3 118.7 486.4 119.5 482.1 120.3 477.5 121.1 473 121.9 469.2 122.7 466.5 123.5 465.2 124.3 465.6 125.1 467.5 125.9 470.8 126.7 474.9 127.5 479.4 128.3 483.8 129.1 487.9 129.9 491.5 130.7 494.3 131.5 496.5 132.3 498.1 133.1 499.2 133.9 500 134.7 500.4 135.5 500.7 136.3 500.9 137.1 501 137.9 501 138.7 501 139.5 501.1 140.3 501.1 141.1 501.1 141.9 501.1 142.7 501.1 143.5 501.1 144.3 501 145.1 501 145.9 501 146.7 501 147.5 501 148.3 501 149.1 501 149.9 501 150.7 500.9 151.5 500.9 152.3 500.9 153.1 500.9 153.9 500.9 154.7 500.9 155.5 500.8 156.3 500.8 157.1 500.8 157.9 500.8 158.7 500.8 159.5 500.7 160.3 500.7 161.1 500.7 161.9 500.7 162.7 500.7 163.5 500.6 164.3 500.6 165.1 500.6 165.9 500.6 166.7 500.6 167.5 500.5 168.3 500.5 169.1 500.5 169.9 500.5 170.7 500.4 171.5 500.4" fill="none" stroke="#333" stroke-width="0.8"/><path d="M25.9 504.7 26.7 505.5 27.5 505.6 28.3 507.6 29.1 504.1 29.9 508.1 30.7 506.8 31.5 510.2 32.3 510.4 33.1 511.2 33.9 510.1 34.7 508.7 35.5 510.3 36.3 511.4 37.1 507.5 37.9 509.7 38.7 508.4 39.5 510.9 40.3 506.7 41.1 507.5 41.9 508.5 42.7 508.1 43.5 504.4 44.3 507.8 45.1 506.7 45.9 506.2 46.7 506 47.5 506.2 48.3 502.1 49.1 507.5 49.9 502.4 50.7 498.8 51.5 501.3 52.3 502.2 53.1 496.1 53.9 496.7 54.7 492.7 55.5 483.5 56.3 474.8 57.1 470.2 57.9 467 58.7 455.2 59.5 445.3 60.3 437.1 61.1 431.4 61.9 424.1 62.7 419.9 63.5 416.1 64.3 410.7 65.1 412.3 65.9 412.7 66.7 418.8 67.5 421.7 68.3 427.5 69.1 439.4 69.9 441.4 70.7 447.6 71.5 455.1 72.3 455.1 73.1 455.7 73.9 457.4 74.7 456.8 75.5 460.7 76.3 458.8 77.1 463.6 77.9 461.4 78.7 463.6 79.5 466.3 80.3 471.6 81.1 474.5 81.9 480.5 82.7 480.8 83.5 486 84.3 492.3 85.1 491.3 85.9 495.2 86.7 499.2 87.5 499 88.3 498.2 89.1 496.7 89.9 505.5 90.7 502.7 91.5 504.7 92.3 501.9 93.1 506.4 93.9 504.4 94.7 503.8 95.5 502.3 96.3 504.7 97.1 503.3 97.9 503.8 98.7 501.3 99.5 503.3 100.3 504.4 101.1 501.7 101.9 503.9 102.7 504.8 103.5 502.8 104.3 502.1 105.1 501.8 105.9 504.5 106.7 499.8 107.5 501.9 108.3 501.5 109.1 502.3 109.9 501.7 110.7 499.5 111.5 504.8 112.3 500.8 113.1 497.1 113.9 496.5 114.7 496.3 115.5 494.7 116.3 487.9 117.1 487.7 117.9 479.6 118.7 476 119.5 474.6 120.3 472.3 121.1 466.3 121.9 464.6 122.7 467.9 123.5 465.6 124.3 471.3 125.1 475.3 125.9 481.2 126.7 484.4 127.5 487.5 128.3 492.6 129.1 492.3 129.9 498 130.7 496.9 131.5 497.6 132.3 499.3 133.1 500.5 133.9 502 134.7 500.5 135.5 502.3 136.3 502.8 137.1 500.9 137.9 499.3 138.7 502.7 139.5 501.6 140.3 497.3 141.1 499.3 141.9 501.3 142.7 498.6 143.5 499.8 144.3 497.9 145.1 501.7 145.9 501.4 146.7 501.3 147.5 503.6 148.3 500.3 149.1 500.4 149.9 504.6 150.7 498.6 151.5 502.2 152.3 498.5 153.1 501.3 153.9 504.6 154.7 501.3 155.5 499.4 156.3 505.1 157.1 499.8 157.9 500.4 158.7 501.3 159.5 498.3 160.3 502.7 161.1 503.6 161.9 502 162.7 501.2 163.5 500.3 164.3 502.2 165.1 494.9 165.9 500.3 166.7 501 167.5 496.9 168.3 501.2 169.1 500.2 169.9 500.4" fill="none" stroke="#666" stroke-width="0.7"/><path d="M25.9 504.7h0M26.7 505.5h0M27.5 505.6h0M28.3 507.6h0M29.1 504.1h0M29.9 508.1h0M30.7 506.8h0M31.5 510.2h0M32.3 510.4h0M33.1 511.2h0M33.9 510.1h0M34.7 508.7h0M35.5 510.3h0M36.3 511.4h0M37.1 507.5h0M37.9 509.7h0M38.7 508.4h0M39.5 510.9h0M40.3 506.7h0M41.1 507.5h0M41.9 508.5h0M42.7 508.1h0M43.5 504.4h0M44.3 507.8h0M45.1 506.7h0M45.9 506.2h0M46.7 506h0M47.5 506.2h0M48.3 502.1h0M49.1 507.5h0M49.9 502.4h0M50.7 498.8h0M51.5 501.3h0M52.3 502.2h0M53.1 496.1h0M53.9 496.7h0M54.7 492.7h0M55.5 483.5h0M56.3 474.8h0M57.1 470.2h0M57.9 467h0M58.7 455.2h0M59.5 445.3h0M60.3 437.1h0M61.1 431.4h0M61.9 424.1h0M62.7 419.9h0M63.5 416.1h0M64.3 410.7h0M65.1 412.3h0M65.9 412.7h0M66.7 418.8h0M67.5 421.7h0M68.3 427.5h0M69.1 439.4h0M69.9 441.4h0M70.7 447.6h0M71.5 455.1h0M72.3 455.1h0M73.1 455.7h0M73.9 457.4h0M74.7 456.8h0M75.5 460.7h0M76.3 458.8h0M77.1 463.6h0M77.9 461.4h0M78.7 463.6h0M79.5 466.3h0M80.3 471.6h0M81.1 474.5h0M81.9 480.5h0M82.7 480.8h0M83.5 486h0M84.3 492.3h0M85.1 491.3h0M85.9 495.2h0M86.7 499.2h0M87.5 499h0M88.3 498.2h0M89.1 496.7h0M89.9 505.5h0M90.7 502.7h0M91.5 504.7h0M92.3 501.9h0M93.1 506.4h0M93.9 504.4h0M94.7 503.8h0M95.5 502.3h0M96.3 504.7h0M97.1 503.3h0M97.9 503.8h0M98.7 501.3h0M99.5 503.3h0M100.3 504.4h0M101.1 501.7h0M101.9 503.9h0M102.7 504.8h0M103.5 502.8h0M104.3 502.1h0M105.1 501.8h0M105.9 504.5h0M106.7 499.8h0M107.5 501.9h0M108.3 501.5h0M109.1 502.3h0M109.9 501.7h0M110.7 499.5h0M111.5 504.8h0M112.3 500.8h0M113.1 497.1h0M113.9 496.5h0M114.7 496.3h0M115.5 494.7h0M116.3 487.9h0M117.1 487.7h0M117.9 479.6h0M118.7 476h0M119.5 474.6h0M120.3 472.3h0M121.1 466.3h0M121.9 464.6h0M122.7 467.9h0M123.5 465.6h0M124.3 471.3h0M125.1 475.3h0M125.9 481.2h0M126.7 484.4h0M127.5 487.5h0M128.3 492.6h0M129.1 492.3h0M129.9 498h0M130.7 496.9h0M131.5 497.6h0M132.3 499.3h0M133.1 500.5h0M133.9 502h0M134.7 500.5h0M135.5 502.3h0M136.3 502.8h0M137.1 500.9h0M137.9 499.3h0M138.7 502.7h0M139.5 501.6h0M140.3 497.3h0M141.1 499.3h0M141.9 501.3h0M142.7 498.6h0M143.5 499.8h0M144.3 497.9h0M145.1 501.7h0M145.9 501.4h0M146.7 501.3h0M147.5 503.6h0M148.3 500.3h0M149.1 500.4h0M149.9 504.6h0M150.7 498.6h0M151.5 502.2h0M152.3 498.5h0M153.1 501.3h0M153.9 504.6h0M154.7 501.3h0M155.5 499.4h0M156.3 505.1h0M157.1 499.8h0M157.9 500.4h0M158.7 501.3h0M159.5 498.3h0M160.3 502.7h0M161.1 503.6h0M161.9 502h0M162.7 501.2h0M163.5 500.3h0M164.3 502.2h0M165.1 494.9h0M165.9 500.3h0M166.7 501h0M167.5 496.9h0M168.3 501.2h0M169.1 500.2h0M169.9 500.4h0" stroke="#000" stroke-width="4.0" stroke-linecap="round" fill="none"/><marker id="ocbn" markerUnits="userSpaceOnUse" markerWidth="5.6" markerHeight="5.6" refX="2.8" refY="2.8" overflow="visible"><circle cx="2.8" cy="2.8" r="2.0" fill="#fff" stroke="#111" stroke-width="0.8"/></marker><path d="M27.9 506.2 28.7 506.2 29.5 506.1 30.3 506.1 31.1 506.1 31.9 506 32.7 506 33.5 506 34.3 505.9 35.1 505.9 35.9 505.8 36.7 505.8 37.5 505.7 38.3 505.7 39.1 505.6 39.9 505.6 40.7 505.5 41.5 505.5 42.3 505.4 43.1 505.3 43.9 505.3 44.7 505.2 45.5 505.1 46.3 505 47.1 504.9 47.9 504.7 48.7 504.5 49.5 504.2 50.3 503.8 51.1 503.2 51.9 502.4 52.7 501.3 53.5 499.8 54.3 497.7 55.1 495 55.9 491.5 56.7 487.2 57.5 481.9 58.3 475.6 59.1 468.5 59.9 460.6 60.7 452.2 61.5 443.6 62.3 435.2 63.1 427.5 63.9 421 64.7 416 65.5 413 66.3 412.1 67.1 413.4 67.9 416.5 68.7 421 69.5 426.6 70.3 432.6 71.1 438.5 71.9 444 72.7 448.6 73.5 452.3 74.3 454.9 75.1 456.7 75.9 457.8 76.7 458.4 77.5 459 78.3 459.9 79.1 461.1 79.9 463 80.7 465.6 81.5 468.7 82.3 472.3 83.1 476.1 83.9 479.9 84.7 483.6 85.5 487.1 86.3 490.3 87.1 493 87.9 495.2 88.7 497.1 89.5 498.5 90.3 499.6 91.1 500.4 91.9 501 92.7 501.4 93.5 501.7 94.3 501.9 95.1 502 95.9 502.1 96.7 502.2 97.5 502.2 98.3 502.2 99.1 502.2 99.9 502.2 100.7 502.2 101.5 502.2 102.3 502.2 103.1 502.2 103.9 502.2 104.7 502.2 105.5 502.2 106.3 502.1 107.1 502.1 107.9 502.1 108.7 502 109.5 502 110.3 501.9 111.1 501.7 111.9 501.5 112.7 501.2 113.5 500.7 114.3 500 115.1 498.8 115.9 497.2 116.7 494.9 117.5 492 118.3 488.4 119.1 484.3 119.9 479.8 120.7 475.2 121.5 471 122.3 467.7 123.1 465.6 123.9 465.2 124.7 466.4 125.5 469 126.3 472.8 127.1 477.1 127.9 481.6 128.7 486 129.5 489.8 130.3 493 131.1 495.5 131.9 497.4 132.7 498.7 133.5 499.6 134.3 500.2 135.1 500.6 135.9 500.8 136.7 500.9 137.5 501 138.3 501 139.1 501.1 139.9 501.1 140.7 501.1 141.5 501.1 142.3 501.1 143.1 501.1 143.9 501.1 144.7 501 145.5 501 146.3 501 147.1 501 147.9 501 148.7 501 149.5 501 150.3 500.9 151.1 500.9 151.9 500.9 152.7 500.9 153.5 500.9 154.3 500.9 155.1 500.8 155.9 500.8 156.7 500.8 157.5 500.8 158.3 500.8 159.1 500.7 159.9 500.7 160.7 500.7 161.5 500.7 162.3 500.7 163.1 500.6 163.9 500.6 164.7 500.6 165.5 500.6 166.3 500.6 167.1 500.5 167.9 500.5 168.7 500.5 169.5 500.5 170.3 500.5 171.1 500.4 171.9 500.4" fill="none" stroke="none" marker-start="url(#ocbn)" marker-mid="url(#ocbn)" marker-end="url(#ocbn)"/><path d="M27.5 506.3 28.3 506.3 29.1 506.2 29.9 506.2 30.7 506.2 31.5 506.1 32.3 506.1 33.1 506 33.9 506 34.7 506 35.5 505.9 36.3 505.9 37.1 505.8 37.9 505.8 38.7 505.8 39.5 505.7 40.3 505.7 41.1 505.6 41.9 505.5 42.7 505.5 43.5 505.4 44.3 505.3 45.1 505.3 45.9 505.2 46.7 505.1 47.5 504.9 48.3 504.7 49.1 504.5 49.9 504.2 50.7 503.7 51.5 503 52.3 502.1 53.1 500.8 53.9 499 54.7 496.7 55.5 493.6 56.3 489.7 57.1 484.9 57.9 479.2 58.7 472.5 59.5 465 60.3 456.8 61.1 448.3 61.9 439.9 62.7 431.9 63.5 424.8 64.3 419.2 65.1 415.5 65.9 414 66.7 414.7 67.5 417.8 68.3 422.8 69.1 429.3 69.9 437 70.7 445.2 71.5 453.6 72.3 461.8 73.1 469.4 73.9 476.2 74.7 482.1 75.5 487 76.3 491 77.1 494.2 77.9 496.6 78.7 498.4 79.5 499.8 80.3 500.7 81.1 501.3 81.9 501.8 82.7 502.1 83.5 502.3 84.3 502.4 85.1 502.5 85.9 502.6 86.7 502.6 87.5 502.6 88.3 502.7 89.1 502.7 89.9 502.7 90.7 502.7 91.5 502.7 92.3 502.7 93.1 502.7 93.9 502.7 94.7 502.7 95.5 502.7 96.3 502.7 97.1 502.7 97.9 502.7 98.7 502.7 99.5 502.6 100.3 502.6 101.1 502.6 101.9 502.6 102.7 502.6 103.5 502.6 104.3 502.6 105.1 502.6 105.9 502.5 106.7 502.5 107.5 502.5 108.3 502.5 109.1 502.5 109.9 502.5 110.7 502.4 111.5 502.4 112.3 502.4 113.1 502.4 113.9 502.4 114.7 502.3 115.5 502.3 116.3 502.3 117.1 502.3 117.9 502.2 118.7 502.2 119.5 502.2 120.3 502.1 121.1 502.1 121.9 502.1 122.7 502 123.5 502 124.3 501.9 125.1 501.9 125.9 501.8 126.7 501.8 127.5 501.7 128.3 501.7 129.1 501.7 129.9 501.7 130.7 501.6 131.5 501.6 132.3 501.6 133.1 501.6 133.9 501.5 134.7 501.5 135.5 501.5 136.3 501.5 137.1 501.4 137.9 501.4 138.7 501.4 139.5 501.4 140.3 501.4 141.1 501.3 141.9 501.3 142.7 501.3 143.5 501.3 144.3 501.2 145.1 501.2 145.9 501.2 146.7 501.2 147.5 501.2 148.3 501.1 149.1 501.1 149.9 501.1 150.7 501.1 151.5 501 152.3 501 153.1 501 153.9 501 154.7 501 155.5 500.9 156.3 500.9 157.1 500.9 157.9 500.9 158.7 500.8 159.5 500.8 160.3 500.8 161.1 500.8 161.9 500.7 162.7 500.7 163.5 500.7 164.3 500.7 165.1 500.7 165.9 500.6 166.7 500.6 167.5 500.6 168.3 500.6 169.1 500.5 169.9 500.5 170.7 500.5 171.5 500.5" fill="none" stroke="#8c8cff" stroke-width="1.0" stroke-dasharray="3 1.5"/><path d="M27.5 506.5 28.3 506.4 29.1 506.4 29.9 506.4 30.7 506.4 31.5 506.3 32.3 506.3 33.1 506.3 33.9 506.3 34.7 506.2 35.5 506.2 36.3 506.2 37.1 506.1 37.9 506.1 38.7 506.1 39.5 506.1 40.3 506 41.1 506 41.9 506 42.7 506 43.5 505.9 44.3 505.9 45.1 505.9 45.9 505.8 46.7 505.8 47.5 505.8 48.3 505.8 49.1 505.7 49.9 505.7 50.7 505.7 51.5 505.6 52.3 505.6 53.1 505.6 53.9 505.5 54.7 505.5 55.5 505.4 56.3 505.4 57.1 505.3 57.9 505.3 58.7 505.2 59.5 505.1 60.3 505 61.1 504.9 61.9 504.8 62.7 504.6 63.5 504.4 64.3 504.1 65.1 503.7 65.9 503.2 66.7 502.5 67.5 501.6 68.3 500.5 69.1 498.9 69.9 497 70.7 494.7 71.5 492 72.3 488.8 73.1 485.4 73.9 481.7 74.7 477.9 75.5 474.3 76.3 471.1 77.1 468.4 77.9 466.6 78.7 465.8 79.5 466 80.3 467.2 81.1 469.4 81.9 472.2 82.7 475.6 83.5 479.2 84.3 482.9 85.1 486.4 85.9 489.6 86.7 492.4 87.5 494.9 88.3 496.9 89.1 498.5 89.9 499.7 90.7 500.6 91.5 501.3 92.3 501.8 93.1 502.1 93.9 502.3 94.7 502.4 95.5 502.5 96.3 502.6 97.1 502.6 97.9 502.6 98.7 502.6 99.5 502.6 100.3 502.6 101.1 502.6 101.9 502.6 102.7 502.6 103.5 502.6 104.3 502.6 105.1 502.6 105.9 502.6 106.7 502.6 107.5 502.5 108.3 502.5 109.1 502.5 109.9 502.5 110.7 502.5 111.5 502.5 112.3 502.4 113.1 502.4 113.9 502.4 114.7 502.4 115.5 502.4 116.3 502.3 117.1 502.3 117.9 502.3 118.7 502.2 119.5 502.2 120.3 502.2 121.1 502.1 121.9 502.1 122.7 502 123.5 502 124.3 501.9 125.1 501.9 125.9 501.9 126.7 501.8 127.5 501.8 128.3 501.7 129.1 501.7 129.9 501.7 130.7 501.7 131.5 501.6 132.3 501.6 133.1 501.6 133.9 501.6 134.7 501.5 135.5 501.5 136.3 501.5 137.1 501.5 137.9 501.4 138.7 501.4 139.5 501.4 140.3 501.4 141.1 501.4 141.9 501.3 142.7 501.3 143.5 501.3 144.3 501.3 145.1 501.2 145.9 501.2 146.7 501.2 147.5 501.2 148.3 501.2 149.1 501.1 149.9 501.1 150.7 501.1 151.5 501.1 152.3 501 153.1 501 153.9 501 154.7 501 155.5 500.9 156.3 500.9 157.1 500.9 157.9 500.9 158.7 500.9 159.5 500.8 160.3 500.8 161.1 500.8 161.9 500.8 162.7 500.7 163.5 500.7 164.3 500.7 165.1 500.7 165.9 500.6 166.7 500.6 167.5 500.6 168.3 500.6 169.1 500.6 169.9 500.5 170.7 500.5 171.5 500.5" fill="none" stroke="#2a2aff" stroke-width="1.0" stroke-dasharray="1.5 1.5"/><path d="M27.5 506.5h0M29.1 506.4h0M30.7 506.4h0M32.3 506.3h0M33.9 506.3h0M35.5 506.3h0M37.1 506.2h0M38.7 506.2h0M40.3 506.1h0M41.9 506.1h0M43.5 506h0M45.1 506h0M46.7 505.9h0M48.3 505.9h0M49.9 505.8h0M51.5 505.8h0M53.1 505.7h0M54.7 505.7h0M56.3 505.6h0M57.9 505.5h0M59.5 505.4h0M61.1 505.3h0M62.7 505.1h0M64.3 505h0M65.9 504.8h0M67.5 504.6h0M69.1 504.5h0M70.7 504.3h0M72.3 504.2h0M73.9 504.1h0M75.5 503.9h0M77.1 503.8h0M78.7 503.7h0M80.3 503.6h0M81.9 503.5h0M83.5 503.4h0M85.1 503.3h0M86.7 503.3h0M88.3 503.2h0M89.9 503.2h0M91.5 503.1h0M93.1 503h0M94.7 503h0M96.3 502.9h0M97.9 502.9h0M99.5 502.8h0M101.1 502.7h0M102.7 502.7h0M104.3 502.6h0M105.9 502.5h0M107.5 502.4h0M109.1 502.3h0M110.7 502.1h0M112.3 501.7h0M113.9 500.6h0M115.5 498.3h0M117.1 493.8h0M118.7 486.6h0M120.3 477.6h0M121.9 469.4h0M123.5 465.4h0M125.1 467.7h0M126.7 475h0M128.3 484h0M129.9 491.6h0M131.5 496.6h0M133.1 499.3h0M134.7 500.5h0M136.3 501h0M137.9 501.1h0M139.5 501.2h0M141.1 501.2h0M142.7 501.1h0M144.3 501.1h0M145.9 501.1h0M147.5 501.1h0M149.1 501h0M150.7 501h0M152.3 501h0M153.9 500.9h0M155.5 500.9h0M157.1 500.9h0M158.7 500.8h0M160.3 500.8h0M161.9 500.7h0M163.5 500.7h0M165.1 500.6h0M166.7 500.6h0M168.3 500.6h0M169.9 500.5h0M171.5 500.5h0" stroke="#2a2aff" stroke-width="1.2" stroke-linecap="round" fill="none"/></g><rect x="27" y="408.4" width="145.40" height="105.90" fill="none" stroke="#8a8a8a" stroke-width="1.2"/><path d="M27 514.3H172.4" stroke="#555" stroke-width="1.1"/><path d="M27.3 514.3v-3.2M31.3 514.3v-1.8M35.3 514.3v-1.8M39.3 514.3v-1.8M43.4 514.3v-1.8M47.4 514.3v-1.8M51.4 514.3v-1.8M55.4 514.3v-1.8M59.4 514.3v-3.2M63.4 514.3v-1.8M67.5 514.3v-1.8M71.5 514.3v-1.8M75.5 514.3v-1.8M79.5 514.3v-1.8M83.5 514.3v-1.8M87.5 514.3v-1.8M91.5 514.3v-3.2M95.6 514.3v-1.8M99.6 514.3v-1.8M103.6 514.3v-1.8M107.6 514.3v-1.8M111.6 514.3v-1.8M115.6 514.3v-1.8M119.6 514.3v-1.8M123.7 514.3v-3.2M127.7 514.3v-1.8M131.7 514.3v-1.8M135.7 514.3v-1.8M139.7 514.3v-1.8M143.7 514.3v-1.8M147.8 514.3v-1.8M151.8 514.3v-1.8M155.8 514.3v-3.2M159.8 514.3v-1.8M163.8 514.3v-1.8M167.8 514.3v-1.8M171.8 514.3v-1.8" stroke="#222" stroke-width="0.9" fill="none"/><path d="M27 438.5h2.5" stroke="#444" stroke-width="0.8" fill="none"/><text transform="translate(27.30,526.7) scale(1.02,1)" font-size="10.5" text-anchor="middle">392</text><text transform="translate(59.42,526.7) scale(1.02,1)" font-size="10.5" text-anchor="middle">396</text><text transform="translate(91.54,526.7) scale(1.02,1)" font-size="10.5" text-anchor="middle">400</text><text transform="translate(123.66,526.7) scale(1.02,1)" font-size="10.5" text-anchor="middle">404</text><text transform="translate(155.78,526.7) scale(1.02,1)" font-size="10.5" text-anchor="middle">408</text><clipPath id="cbo"><rect x="190.1" y="408.4" width="145.79999999999998" height="105.89999999999998"/></clipPath><g clip-path="url(#cbo)"><path d="M190.6 501.5 191.4 501.5 192.2 501.5 193 501.5 193.8 501.5 194.6 501.5 195.4 501.5 196.2 501.5 197 501.5 197.8 501.5 198.6 501.5 199.4 501.5 200.2 501.5 201 501.5 201.8 501.5 202.6 501.5 203.4 501.5 204.2 501.5 205 501.5 205.8 501.5 206.6 501.5 207.4 501.5 208.2 501.5 209 501.5 209.8 501.5 210.6 501.5 211.4 501.5 212.2 501.5 213 501.5 213.8 501.5 214.6 501.5 215.4 501.5 216.2 501.5 217 501.5 217.8 501.5 218.6 501.5 219.4 501.4 220.2 501.4 221 501.4 221.8 501.4 222.6 501.4 223.4 501.4 224.2 501.4 225 501.4 225.8 501.4 226.6 501.3 227.4 501.3 228.2 501.3 229 501.2 229.8 501.2 230.6 501.1 231.4 501 232.2 501 233 500.9 233.8 500.8 234.6 500.7 235.4 500.6 236.2 500.5 237 500.4 237.8 500.3 238.6 500.3 239.4 500.2 240.2 500.2 241 500.1 241.8 500.1 242.6 500.1 243.4 500.1 244.2 500.1 245 500.1 245.8 500 246.6 500 247.4 500 248.2 500 249 500 249.8 500 250.6 500 251.4 500 252.2 500 253 500 253.8 500 254.6 500 255.4 500 256.2 500 257 500 257.8 500 258.6 500 259.4 500 260.2 500 261 500 261.8 500 262.6 500 263.4 500 264.2 500 265 500 265.8 500 266.6 500 267.4 500 268.2 500 269 500 269.8 500 270.6 500 271.4 500 272.2 500 273 500 273.8 500 274.6 500 275.4 500 276.2 500 277 500 277.8 500 278.6 500 279.4 500 280.2 500 281 500 281.8 500 282.6 500 283.4 500 284.2 500 285 500 285.8 500 286.6 500 287.4 500 288.2 500 289 500 289.8 500 290.6 500 291.4 500 292.2 500 293 500 293.8 500 294.6 500 295.4 500 296.2 500 297 500 297.8 500 298.6 500 299.4 500 300.2 500 301 500 301.8 500 302.6 500 303.4 500 304.2 500 305 500 305.8 500 306.6 500 307.4 500 308.2 500 309 500 309.8 500 310.6 500 311.4 500 312.2 500 313 500 313.8 500 314.6 500 315.4 500 316.2 500 317 500 317.8 500 318.6 500 319.4 500 320.2 500 321 500 321.8 500 322.6 500 323.4 500 324.2 500 325 500 325.8 500 326.6 500 327.4 500 328.2 500 329 500 329.8 500 330.6 500 331.4 500 332.2 500 333 500 333.8 500 334.6 500 335.4 500" fill="none" stroke="#222" stroke-width="0.8" stroke-dasharray="2 2"/><path d="M189 500.9h0M189.8 501.3h0M190.6 500.6h0M191.4 501.5h0M192.2 501.7h0M193 501h0M193.8 501.4h0M194.6 501.3h0M195.4 501h0M196.2 500.8h0M197 500.3h0M197.8 501.6h0M198.6 501h0M199.4 502h0M200.2 501.3h0M201 501.1h0M201.8 500.6h0M202.6 501.4h0M203.4 500.6h0M204.2 501.4h0M205 500.5h0M205.8 500.6h0M206.6 499.8h0M207.4 501.3h0M208.2 500.2h0M209 499.9h0M209.8 500.2h0M210.6 499.4h0M211.4 499.8h0M212.2 498.8h0M213 499.3h0M213.8 498.4h0M214.6 497.7h0M215.4 497.9h0M216.2 497.2h0M217 497.6h0M217.8 497h0M218.6 496.6h0M219.4 495.9h0M220.2 494.9h0M221 494.1h0M221.8 493.2h0M222.6 490.9h0M223.4 488.2h0M224.2 484.7h0M225 480.6h0M225.8 474.8h0M226.6 469.1h0M227.4 459.9h0M228.2 451.1h0M229 442.1h0M229.8 433.3h0M230.6 424.8h0M231.4 418.2h0M232.2 414.5h0M233 413.7h0M233.8 415.6h0M234.6 418.4h0M235.4 424h0M236.2 430.7h0M237 439.3h0M237.8 448.4h0M238.6 456.9h0M239.4 467.3h0M240.2 474.4h0M241 480.7h0M241.8 485.7h0M242.6 489.9h0M243.4 492.7h0M244.2 494.8h0M245 495.8h0M245.8 496.9h0M246.6 496.6h0M247.4 497.3h0M248.2 497.5h0M249 498.2h0M249.8 498.5h0M250.6 497.9h0M251.4 498.6h0M252.2 499.1h0M253 499.2h0M253.8 498.5h0M254.6 499.3h0M255.4 499.3h0M256.2 499h0M257 500h0M257.8 498.8h0M258.6 499.2h0M259.4 499.6h0M260.2 499.5h0M261 499.4h0M261.8 500h0M262.6 500.1h0M263.4 499.9h0M264.2 500h0M265 499.6h0M265.8 499.1h0M266.6 500.5h0M267.4 499.3h0M268.2 500.5h0M269 499.6h0M269.8 499.8h0M270.6 499.6h0M271.4 500.1h0M272.2 499.5h0M273 500.5h0M273.8 500h0M274.6 499.8h0M275.4 499.5h0M276.2 499.9h0M277 499.8h0M277.8 500.5h0M278.6 500.2h0M279.4 499.2h0M280.2 500.4h0M281 498.9h0M281.8 500.4h0M282.6 499.1h0M283.4 499.8h0M284.2 500.2h0M285 499.8h0M285.8 499.4h0M286.6 500.3h0M287.4 499.1h0M288.2 499.3h0M289 500.4h0M289.8 499.5h0M290.6 500h0M291.4 500.2h0M292.2 499.8h0M293 500h0M293.8 499.9h0M294.6 500h0M295.4 500.4h0M296.2 500.3h0M297 500h0M297.8 500.3h0M298.6 499.7h0M299.4 499.6h0M300.2 499.5h0M301 500.2h0M301.8 500.6h0M302.6 499.9h0M303.4 499.1h0M304.2 499.7h0M305 500.1h0M305.8 500h0M306.6 500h0M307.4 500.3h0M308.2 500.3h0M309 499.4h0M309.8 500.1h0M310.6 499.6h0M311.4 500h0M312.2 500.4h0M313 500.7h0M313.8 500.2h0M314.6 499.7h0M315.4 499.8h0M316.2 500.1h0M317 499.5h0M317.8 499.9h0M318.6 500.2h0M319.4 500.3h0M320.2 499.8h0M321 500.1h0M321.8 500.5h0M322.6 500.1h0M323.4 499.3h0M324.2 500h0M325 500h0M325.8 499.8h0M326.6 500h0M327.4 499.4h0M328.2 500.4h0M329 500.1h0M329.8 499.7h0M330.6 500h0M331.4 500h0M332.2 499.6h0M333 498.9h0M333.8 498.8h0" stroke="#000" stroke-width="4.2" stroke-linecap="round" fill="none"/><marker id="ocbo" markerUnits="userSpaceOnUse" markerWidth="5.800000000000001" markerHeight="5.800000000000001" refX="2.9000000000000004" refY="2.9000000000000004" overflow="visible"><circle cx="2.9000000000000004" cy="2.9000000000000004" r="2.1" fill="#fff" stroke="#111" stroke-width="0.8"/></marker><path d="M191 501.2 191.8 501.2 192.6 501.2 193.4 501.2 194.2 501.2 195 501.2 195.8 501.2 196.6 501.2 197.4 501.1 198.2 501.1 199 501.1 199.8 501.1 200.6 501 201.4 501 202.2 501 203 500.9 203.8 500.9 204.6 500.8 205.4 500.8 206.2 500.7 207 500.6 207.8 500.5 208.6 500.4 209.4 500.3 210.2 500.1 211 500 211.8 499.8 212.6 499.6 213.4 499.4 214.2 499.2 215 498.9 215.8 498.6 216.6 498.3 217.4 498 218.2 497.6 219 497.2 219.8 496.7 220.6 496.2 221.4 495.5 222.2 494.6 223 493.5 223.8 491.9 224.6 489.8 225.4 486.9 226.2 483.1 227 478.1 227.8 471.9 228.6 464.5 229.4 456 230.2 446.9 231 437.6 231.8 428.8 232.6 421.5 233.4 416.4 234.2 414 235 414.2 235.8 416.8 236.6 421.2 237.4 427.3 238.2 434.9 239 443.6 239.8 452.9 240.6 462 241.4 470.5 242.2 477.8 243 483.7 243.8 488.2 244.6 491.5 245.4 493.8 246.2 495.3 247 496.3 247.8 497 248.6 497.4 249.4 497.8 250.2 498 251 498.2 251.8 498.4 252.6 498.6 253.4 498.7 254.2 498.8 255 498.9 255.8 499 256.6 499.1 257.4 499.2 258.2 499.2 259 499.3 259.8 499.3 260.6 499.4 261.4 499.4 262.2 499.4 263 499.5 263.8 499.5 264.6 499.5 265.4 499.5 266.2 499.6 267 499.6 267.8 499.6 268.6 499.6 269.4 499.6 270.2 499.7 271 499.7 271.8 499.7 272.6 499.7 273.4 499.7 274.2 499.7 275 499.7 275.8 499.7 276.6 499.8 277.4 499.8 278.2 499.8 279 499.8 279.8 499.8 280.6 499.8 281.4 499.8 282.2 499.8 283 499.8 283.8 499.8 284.6 499.8 285.4 499.8 286.2 499.8 287 499.8 287.8 499.8 288.6 499.9 289.4 499.9 290.2 499.9 291 499.9 291.8 499.9 292.6 499.9 293.4 499.9 294.2 499.9 295 499.9 295.8 499.9 296.6 499.9 297.4 499.9 298.2 499.9 299 499.9 299.8 499.9 300.6 499.9 301.4 499.9 302.2 499.9 303 499.9 303.8 499.9 304.6 499.9 305.4 499.9 306.2 499.9 307 499.9 307.8 499.9 308.6 499.9 309.4 499.9 310.2 499.9 311 499.9 311.8 499.9 312.6 499.9 313.4 499.9 314.2 499.9 315 499.9 315.8 499.9 316.6 499.9 317.4 499.9 318.2 499.9 319 499.9 319.8 499.9 320.6 499.9 321.4 499.9 322.2 499.9 323 499.9 323.8 499.9 324.6 499.9 325.4 499.9 326.2 499.9 327 499.9 327.8 499.9 328.6 499.9 329.4 499.9 330.2 500 331 500 331.8 500 332.6 500 333.4 500 334.2 500 335 500 335.8 500" fill="none" stroke="none" marker-start="url(#ocbo)" marker-mid="url(#ocbo)" marker-end="url(#ocbo)"/><path d="M190.6 501.3 191.4 501.3 192.2 501.3 193 501.2 193.8 501.2 194.6 501.2 195.4 501.2 196.2 501.2 197 501.2 197.8 501.2 198.6 501.2 199.4 501.1 200.2 501.1 201 501.1 201.8 501.1 202.6 501.1 203.4 501 204.2 501 205 501 205.8 500.9 206.6 500.9 207.4 500.9 208.2 500.8 209 500.8 209.8 500.8 210.6 500.7 211.4 500.6 212.2 500.6 213 500.5 213.8 500.4 214.6 500.3 215.4 500.2 216.2 500.1 217 500 217.8 499.8 218.6 499.7 219.4 499.4 220.2 499.1 221 498.7 221.8 498.2 222.6 497.4 223.4 496.3 224.2 494.7 225 492.4 225.8 489.2 226.6 484.9 227.4 479.5 228.2 473 229 465.3 229.8 457.1 230.6 448.7 231.4 441 232.2 434.9 233 431.5 233.8 431.4 234.6 434.6 235.4 440.5 236.2 448 237 456.3 237.8 464.5 238.6 471.9 239.4 478.4 240.2 483.8 241 487.9 241.8 491.1 242.6 493.4 243.4 495 244.2 496.1 245 496.8 245.8 497.4 246.6 497.7 247.4 498 248.2 498.2 249 498.4 249.8 498.6 250.6 498.7 251.4 498.8 252.2 498.9 253 499 253.8 499.1 254.6 499.1 255.4 499.2 256.2 499.2 257 499.3 257.8 499.3 258.6 499.4 259.4 499.4 260.2 499.4 261 499.5 261.8 499.5 262.6 499.5 263.4 499.6 264.2 499.6 265 499.6 265.8 499.6 266.6 499.6 267.4 499.7 268.2 499.7 269 499.7 269.8 499.7 270.6 499.7 271.4 499.7 272.2 499.7 273 499.7 273.8 499.8 274.6 499.8 275.4 499.8 276.2 499.8 277 499.8 277.8 499.8 278.6 499.8 279.4 499.8 280.2 499.8 281 499.8 281.8 499.8 282.6 499.8 283.4 499.8 284.2 499.8 285 499.8 285.8 499.9 286.6 499.9 287.4 499.9 288.2 499.9 289 499.9 289.8 499.9 290.6 499.9 291.4 499.9 292.2 499.9 293 499.9 293.8 499.9 294.6 499.9 295.4 499.9 296.2 499.9 297 499.9 297.8 499.9 298.6 499.9 299.4 499.9 300.2 499.9 301 499.9 301.8 499.9 302.6 499.9 303.4 499.9 304.2 499.9 305 499.9 305.8 499.9 306.6 499.9 307.4 499.9 308.2 499.9 309 499.9 309.8 499.9 310.6 499.9 311.4 499.9 312.2 499.9 313 499.9 313.8 499.9 314.6 499.9 315.4 499.9 316.2 499.9 317 499.9 317.8 499.9 318.6 499.9 319.4 499.9 320.2 499.9 321 499.9 321.8 499.9 322.6 499.9 323.4 499.9 324.2 499.9 325 500 325.8 500 326.6 500 327.4 500 328.2 500 329 500 329.8 500 330.6 500 331.4 500 332.2 500 333 500 333.8 500 334.6 500 335.4 500" fill="none" stroke="#2a2aff" stroke-width="1.2" stroke-dasharray="1.6 1.4"/><path d="M190.6 501.5 191.4 501.5 192.2 501.5 193 501.5 193.8 501.5 194.6 501.5 195.4 501.5 196.2 501.5 197 501.5 197.8 501.5 198.6 501.5 199.4 501.5 200.2 501.5 201 501.5 201.8 501.5 202.6 501.5 203.4 501.5 204.2 501.5 205 501.5 205.8 501.4 206.6 501.4 207.4 501.4 208.2 501.4 209 501.4 209.8 501.4 210.6 501.4 211.4 501.4 212.2 501.4 213 501.4 213.8 501.4 214.6 501.4 215.4 501.4 216.2 501.4 217 501.4 217.8 501.4 218.6 501.3 219.4 501.3 220.2 501.3 221 501.3 221.8 501.3 222.6 501.2 223.4 501.2 224.2 501.2 225 501.1 225.8 501.1 226.6 501 227.4 500.9 228.2 500.6 229 500.3 229.8 499.6 230.6 498.6 231.4 497 232.2 494.7 233 491.6 233.8 487.7 234.6 483.2 235.4 478.5 236.2 474.2 237 471 237.8 469.4 238.6 469.8 239.4 472.2 240.2 475.9 241 480.3 241.8 484.9 242.6 489 243.4 492.4 244.2 495 245 496.9 245.8 498.1 246.6 498.8 247.4 499.3 248.2 499.5 249 499.6 249.8 499.7 250.6 499.8 251.4 499.8 252.2 499.8 253 499.8 253.8 499.9 254.6 499.9 255.4 499.9 256.2 499.9 257 499.9 257.8 499.9 258.6 499.9 259.4 499.9 260.2 499.9 261 499.9 261.8 499.9 262.6 499.9 263.4 499.9 264.2 500 265 500 265.8 500 266.6 500 267.4 500 268.2 500 269 500 269.8 500 270.6 500 271.4 500 272.2 500 273 500 273.8 500 274.6 500 275.4 500 276.2 500 277 500 277.8 500 278.6 500 279.4 500 280.2 500 281 500 281.8 500 282.6 500 283.4 500 284.2 500 285 500 285.8 500 286.6 500 287.4 500 288.2 500 289 500 289.8 500 290.6 500 291.4 500 292.2 500 293 500 293.8 500 294.6 500 295.4 500 296.2 500 297 500 297.8 500 298.6 500 299.4 500 300.2 500 301 500 301.8 500 302.6 500 303.4 500 304.2 500 305 500 305.8 500 306.6 500 307.4 500 308.2 500 309 500 309.8 500 310.6 500 311.4 500 312.2 500 313 500 313.8 500 314.6 500 315.4 500 316.2 500 317 500 317.8 500 318.6 500 319.4 500 320.2 500 321 500 321.8 500 322.6 500 323.4 500 324.2 500 325 500 325.8 500 326.6 500 327.4 500 328.2 500 329 500 329.8 500 330.6 500 331.4 500 332.2 500 333 500 333.8 500 334.6 500 335.4 500" fill="none" stroke="#2a2aff" stroke-width="1.3" stroke-dasharray="2 1.5"/><path d="M190.6 501.5 191.4 501.5 192.2 501.5 193 501.5 193.8 501.5 194.6 501.5 195.4 501.5 196.2 501.5 197 501.5 197.8 501.5 198.6 501.5 199.4 501.5 200.2 501.5 201 501.4 201.8 501.4 202.6 501.4 203.4 501.4 204.2 501.4 205 501.3 205.8 501.3 206.6 501.3 207.4 501.2 208.2 501.2 209 501.1 209.8 501 210.6 500.9 211.4 500.8 212.2 500.7 213 500.6 213.8 500.4 214.6 500.3 215.4 500.1 216.2 499.9 217 499.7 217.8 499.5 218.6 499.3 219.4 499.1 220.2 498.9 221 498.7 221.8 498.5 222.6 498.3 223.4 498.1 224.2 497.9 225 497.7 225.8 497.6 226.6 497.5 227.4 497.4 228.2 497.3 229 497.2 229.8 497.2 230.6 497.2 231.4 497.2 232.2 497.2 233 497.2 233.8 497.3 234.6 497.3 235.4 497.4 236.2 497.5 237 497.6 237.8 497.8 238.6 497.9 239.4 498.1 240.2 498.2 241 498.4 241.8 498.5 242.6 498.7 243.4 498.9 244.2 499 245 499.1 245.8 499.3 246.6 499.4 247.4 499.5 248.2 499.6 249 499.6 249.8 499.7 250.6 499.8 251.4 499.8 252.2 499.8 253 499.9 253.8 499.9 254.6 499.9 255.4 499.9 256.2 500 257 500 257.8 500 258.6 500 259.4 500 260.2 500 261 500 261.8 500 262.6 500 263.4 500 264.2 500 265 500 265.8 500 266.6 500 267.4 500 268.2 500 269 500 269.8 500 270.6 500 271.4 500 272.2 500 273 500 273.8 500 274.6 500 275.4 500 276.2 500 277 500 277.8 500 278.6 500 279.4 500 280.2 500 281 500 281.8 500 282.6 500 283.4 500 284.2 500 285 500 285.8 500 286.6 500 287.4 500 288.2 500 289 500 289.8 500 290.6 500 291.4 500 292.2 500 293 500 293.8 500 294.6 500 295.4 500 296.2 500 297 500 297.8 500 298.6 500 299.4 500 300.2 500 301 500 301.8 500 302.6 500 303.4 500 304.2 500 305 500 305.8 500 306.6 500 307.4 500 308.2 500 309 500 309.8 500 310.6 500 311.4 500 312.2 500 313 500 313.8 500 314.6 500 315.4 500 316.2 500 317 500 317.8 500 318.6 500 319.4 500 320.2 500 321 500 321.8 500 322.6 500 323.4 500 324.2 500 325 500 325.8 500 326.6 500 327.4 500 328.2 500 329 500 329.8 500 330.6 500 331.4 500 332.2 500 333 500 333.8 500 334.6 500 335.4 500" fill="none" stroke="#8c8cff" stroke-width="1.2" /></g><rect x="190.1" y="408.4" width="145.80" height="105.90" fill="none" stroke="#8a8a8a" stroke-width="1.2"/><path d="M190.1 514.3H335.9" stroke="#555" stroke-width="1.1"/><path d="M190.3 514.3v-3.2M193.9 514.3v-1.8M197.6 514.3v-1.8M201.2 514.3v-1.8M204.8 514.3v-1.8M208.5 514.3v-1.8M212.1 514.3v-1.8M215.7 514.3v-1.8M219.3 514.3v-3.2M223 514.3v-1.8M226.6 514.3v-1.8M230.2 514.3v-1.8M233.9 514.3v-1.8M237.5 514.3v-1.8M241.1 514.3v-1.8M244.8 514.3v-1.8M248.4 514.3v-3.2M252 514.3v-1.8M255.6 514.3v-1.8M259.3 514.3v-1.8M262.9 514.3v-1.8M266.5 514.3v-1.8M270.2 514.3v-1.8M273.8 514.3v-1.8M277.4 514.3v-3.2M281.1 514.3v-1.8M284.7 514.3v-1.8M288.3 514.3v-1.8M291.9 514.3v-1.8M295.6 514.3v-1.8M299.2 514.3v-1.8M302.8 514.3v-1.8M306.5 514.3v-3.2M310.1 514.3v-1.8M313.7 514.3v-1.8M317.4 514.3v-1.8M321 514.3v-1.8M324.6 514.3v-1.8M328.2 514.3v-1.8M331.9 514.3v-1.8M335.5 514.3v-3.2" stroke="#222" stroke-width="0.9" fill="none"/><path d="M190.1 435.2h2.5M190.1 487.8h2.5" stroke="#444" stroke-width="0.8" fill="none"/><text transform="translate(190.30,526.7) scale(1.02,1)" font-size="10.5" text-anchor="middle">524</text><text transform="translate(219.34,526.7) scale(1.02,1)" font-size="10.5" text-anchor="middle">528</text><text transform="translate(248.38,526.7) scale(1.02,1)" font-size="10.5" text-anchor="middle">532</text><text transform="translate(277.42,526.7) scale(1.02,1)" font-size="10.5" text-anchor="middle">536</text><text transform="translate(306.46,526.7) scale(1.02,1)" font-size="10.5" text-anchor="middle">540</text><text transform="translate(335.50,526.7) scale(1.02,1)" font-size="10.5" text-anchor="middle">544</text><circle cx="107.9" cy="14.6" r="1.9" fill="#000"/><text transform="translate(118.6,17.08) scale(1.07,1)" font-size="6.9">Raw data</text><path d="M99.6 23.7H116.2" stroke="#333" stroke-width="0.8" /><circle cx="107.9" cy="23.7" r="1.5" fill="#fff" stroke="#222" stroke-width="0.7"/><text transform="translate(118.6,26.18) scale(1.07,1)" font-size="6.9">Peak Sum</text><path d="M99.6 32.8H116.2" stroke="#333" stroke-width="0.8" stroke-dasharray="2 2"/><text transform="translate(118.6,35.28) scale(1.07,1)" font-size="6.9">Background</text><path d="M99.6 41.9H116.2" stroke="#8c8cff" stroke-width="1.0" /><text transform="translate(118.6,44.38) scale(1.07,1)" font-size="6.9">Peak 1</text><path d="M99.6 51H116.2" stroke="#4a4aff" stroke-width="1.1" stroke-dasharray="6 1.5"/><text transform="translate(118.6,53.48) scale(1.07,1)" font-size="6.9">Peak 2</text><path d="M276 11H293" stroke="#000" stroke-width="0.9" /><circle cx="284.5" cy="11" r="1.9" fill="#000"/><text transform="translate(295.7,13.48) scale(1.07,1)" font-size="6.9">Raw&#160; data</text><path d="M276 20.2H293" stroke="#333" stroke-width="0.8" /><circle cx="284.5" cy="20.2" r="1.5" fill="#fff" stroke="#222" stroke-width="0.7"/><text transform="translate(295.7,22.68) scale(1.07,1)" font-size="6.9">Peak Sum</text><path d="M276 29.4H293" stroke="#333" stroke-width="0.8" stroke-dasharray="2 2"/><text transform="translate(295.7,31.88) scale(1.07,1)" font-size="6.9">Background</text><path d="M276 38.6H293" stroke="#2a2aff" stroke-width="1.0" /><text transform="translate(295.7,41.08) scale(1.07,1)" font-size="6.9">Peak 1</text><circle cx="284.5" cy="47.8" r="0.7" fill="#2a2aff"/><text transform="translate(295.7,50.28) scale(1.07,1)" font-size="6.9">Peak 2</text><path d="M276 57H293" stroke="#8c8cff" stroke-width="1.0" /><text transform="translate(295.7,59.48) scale(1.07,1)" font-size="6.9">Peak 3</text><circle cx="112.3" cy="135.6" r="1.9" fill="#000"/><text transform="translate(122.7,138.08) scale(1.07,1)" font-size="6.9">Raw data</text><path d="M104 144.7H120.6" stroke="#333" stroke-width="0.8" /><circle cx="112.3" cy="144.7" r="1.5" fill="#fff" stroke="#222" stroke-width="0.7"/><text transform="translate(122.7,147.18) scale(1.07,1)" font-size="6.9">Peak Sum</text><path d="M104 153.8H120.6" stroke="#333" stroke-width="0.9" stroke-dasharray="1.2 1.8"/><text transform="translate(122.7,156.28) scale(1.07,1)" font-size="6.9">Background</text><circle cx="112.3" cy="162.9" r="0.7" fill="#2a2aff"/><text transform="translate(122.7,165.38) scale(1.07,1)" font-size="6.9">Peak 1</text><path d="M104 172H120.6" stroke="#2a2aff" stroke-width="1.2" /><text transform="translate(122.7,174.48) scale(1.07,1)" font-size="6.9">Peak 2</text><circle cx="112.3" cy="181.1" r="0.8" fill="#2a2aff"/><text transform="translate(122.7,183.58) scale(1.07,1)" font-size="6.9">Peak 3</text><path d="M269 135.2H285.6" stroke="#000" stroke-width="0.9" /><circle cx="277.3" cy="135.2" r="1.9" fill="#000"/><text transform="translate(288.1,137.68) scale(1.07,1)" font-size="6.9">Raw data</text><circle cx="277.3" cy="144.3" r="1.5" fill="#fff" stroke="#222" stroke-width="0.7"/><text transform="translate(288.1,146.78) scale(1.07,1)" font-size="6.9">Peak Sum</text><path d="M269 153.4H285.6" stroke="#333" stroke-width="0.8" stroke-dasharray="2 2"/><text transform="translate(288.1,155.88) scale(1.07,1)" font-size="6.9">Background</text><path d="M269 162.5H285.6" stroke="#2a2aff" stroke-width="1.0" /><circle cx="277.3" cy="162.5" r="0.8" fill="#2a2aff"/><text transform="translate(288.1,164.98) scale(1.07,1)" font-size="6.9">Peak 1</text><circle cx="277.3" cy="171.6" r="0.7" fill="#2a2aff"/><text transform="translate(288.1,174.08) scale(1.07,1)" font-size="6.9">Peak 2</text><path d="M85.2 294.3H105.1" stroke="#666" stroke-width="0.6" /><circle cx="95.2" cy="294.3" r="1.8" fill="#000"/><text transform="translate(107.7,296.82) scale(1.14,1)" font-size="7.0">Raw Intensity</text><circle cx="95.2" cy="304.4" r="1.5" fill="#fff" stroke="#333" stroke-width="0.7"/><text transform="translate(107.7,306.87) scale(1.14,1)" font-size="7.0">Peak Sum</text><path d="M85.2 314.4H105.1" stroke="#555" stroke-width="0.9" stroke-dasharray="1.2 2"/><text transform="translate(107.7,316.92) scale(1.14,1)" font-size="7.0">Background</text><path d="M85.2 324.4H105.1" stroke="#8c8cff" stroke-width="1.0" /><circle cx="95.2" cy="324.4" r="0.7" fill="#2a2aff"/><text transform="translate(107.7,326.97) scale(1.14,1)" font-size="7.0">Peak 1</text><path d="M85.2 334.5H105.1" stroke="#8c8cff" stroke-width="1.0" /><circle cx="95.2" cy="334.5" r="0.7" fill="#2a2aff"/><text transform="translate(107.7,337.02) scale(1.14,1)" font-size="7.0">Peak 2</text><path d="M266.6 292.7H284.7" stroke="#000" stroke-width="0.9" /><circle cx="275.6" cy="292.7" r="1.8" fill="#000"/><text transform="translate(287.2,295.22) scale(1.14,1)" font-size="7.0">Raw Intensity</text><path d="M266.6 302.8H284.7" stroke="#333" stroke-width="0.8" /><circle cx="275.6" cy="302.8" r="1.5" fill="#fff" stroke="#222" stroke-width="0.7"/><text transform="translate(287.2,305.27) scale(1.14,1)" font-size="7.0">Peak Sum</text><path d="M266.6 312.8H284.7" stroke="#555" stroke-width="0.9" stroke-dasharray="1.2 2"/><text transform="translate(287.2,315.32) scale(1.14,1)" font-size="7.0">Background</text><circle cx="275.6" cy="322.8" r="0.7" fill="#2a2aff"/><text transform="translate(287.2,325.37) scale(1.14,1)" font-size="7.0">Peak 1</text><circle cx="275.6" cy="332.9" r="0.7" fill="#2a2aff"/><text transform="translate(287.2,335.42) scale(1.14,1)" font-size="7.0">Peak 2</text><circle cx="275.6" cy="342.9" r="0.7" fill="#2a2aff"/><text transform="translate(287.2,345.47) scale(1.14,1)" font-size="7.0">Peak 3</text><path d="M103 414H121.1" stroke="#000" stroke-width="0.9" /><circle cx="112" cy="414" r="1.8" fill="#000"/><text transform="translate(123.7,416.52) scale(1.14,1)" font-size="7.0">Raw Intensity</text><path d="M103 424.1H121.1" stroke="#333" stroke-width="0.8" /><circle cx="112" cy="424.1" r="1.5" fill="#fff" stroke="#222" stroke-width="0.7"/><text transform="translate(123.7,426.57) scale(1.14,1)" font-size="7.0">Peak Sum</text><path d="M103 434.1H121.1" stroke="#555" stroke-width="0.9" stroke-dasharray="1.2 2"/><text transform="translate(123.7,436.62) scale(1.14,1)" font-size="7.0">Background</text><path d="M103 444.1H121.1" stroke="#8c8cff" stroke-width="1.0" /><circle cx="112" cy="444.1" r="0.7" fill="#2a2aff"/><text transform="translate(123.7,446.67) scale(1.14,1)" font-size="7.0">Peak 1</text><path d="M103 454.2H121.1" stroke="#8c8cff" stroke-width="1.0" /><circle cx="112" cy="454.2" r="0.7" fill="#2a2aff"/><text transform="translate(123.7,456.72) scale(1.14,1)" font-size="7.0">Peak 2</text><circle cx="112" cy="464.2" r="0.7" fill="#2a2aff"/><text transform="translate(123.7,466.77) scale(1.14,1)" font-size="7.0">Peak 3</text><circle cx="268.5" cy="415.8" r="1.8" fill="#000"/><text transform="translate(280.8,418.32) scale(1.14,1)" font-size="7.0">Raw Intensity</text><circle cx="268.5" cy="425.8" r="1.5" fill="#fff" stroke="#333" stroke-width="0.7"/><text transform="translate(280.8,428.32) scale(1.14,1)" font-size="7.0">Peak Sum</text><path d="M258.9 435.8H278.2" stroke="#555" stroke-width="0.9" stroke-dasharray="1.2 2"/><text transform="translate(280.8,438.32) scale(1.14,1)" font-size="7.0">Background</text><circle cx="268.5" cy="445.8" r="0.7" fill="#2a2aff"/><text transform="translate(280.8,448.32) scale(1.14,1)" font-size="7.0">Peak 1</text><path d="M258.9 455.8H278.2" stroke="#8c8cff" stroke-width="1.2" /><text transform="translate(280.8,458.32) scale(1.14,1)" font-size="7.0">Peak 2</text><text transform="translate(6.97,20.38) scale(1.2308,1)" font-size="12.88" >(a)</text><text transform="translate(4.30,301.12) scale(1.0525,1)" font-size="16.09" >(b)</text><text transform="translate(30.42,19.65) scale(1.1252,1)" font-size="9.30" >Zn</text><text transform="translate(194.59,19.16) scale(1.0708,1)" font-size="9.32" >Sn</text><text transform="translate(30.11,139.46) scale(1.1560,1)" font-size="8.88" >N 1s</text><text transform="translate(192.87,139.76) scale(1.1112,1)" font-size="9.18" >O 1s</text><text transform="translate(30.69,302.95) scale(1.1089,1)" font-size="10.03" >Zn</text><text transform="translate(192.93,301.15) scale(1.1704,1)" font-size="9.60" >Sn</text><text transform="translate(30.24,421.16) scale(1.2291,1)" font-size="9.03" >N 1s</text><text transform="translate(193.24,421.65) scale(1.1392,1)" font-size="9.60" >O 1s</text><text transform="translate(109.71,260.58) scale(1.0636,1)" font-size="14.26" >Binding Energy (eV)</text><text transform="translate(107.32,543.52) scale(0.9832,1)" font-size="16.51" >Binding Energy (eV)</text><text transform="translate(20.92,161.83) rotate(-90) scale(1.0272,1)" font-size="14.58" >Intensity(a.u.)</text><text transform="translate(19.83,445.55) rotate(-90) scale(1.0182,1)" font-size="15.97" >Intensity(a.u.)</text><text transform="translate(60.55,37.60) scale(1.0659,1)" font-size="9.38" >2p</text><text transform="translate(71.90,41.38) scale(0.9677,1)" font-size="6.67" style="fill:#444;stroke:#444">3/2</text><text transform="translate(117.97,67.95) scale(0.9903,1)" font-size="9.60" >2p</text><text transform="translate(129.78,71.78) scale(0.9375,1)" font-size="6.67" style="fill:#444;stroke:#444">1/2</text><text transform="translate(194.67,36.16) scale(1.1420,1)" font-size="8.84" >3d</text><text transform="translate(205.62,40.68) scale(0.8654,1)" font-size="6.67" style="fill:#444;stroke:#444">5/2</text><text transform="translate(236.68,20.46) scale(1.1084,1)" font-size="8.84" >3d</text><text transform="translate(247.82,24.98) scale(0.9101,1)" font-size="6.67" style="fill:#444;stroke:#444">3/2</text><text transform="translate(56.09,317.29) scale(1.0867,1)" font-size="10.38" >2p</text><text transform="translate(68.80,322.08) scale(0.9445,1)" font-size="7.07" style="fill:#444;stroke:#444">3/2</text><text transform="translate(114.51,358.54) scale(1.0717,1)" font-size="10.15" >2p</text><text transform="translate(127.05,362.98) scale(0.9281,1)" font-size="7.07" style="fill:#444;stroke:#444">1/2</text><text transform="translate(192.65,322.55) scale(1.0667,1)" font-size="9.93" >3d</text><text transform="translate(204.38,326.78) scale(0.9568,1)" font-size="7.07" style="fill:#444;stroke:#444">5/2</text><text transform="translate(237.74,300.85) scale(1.0916,1)" font-size="9.80" >3d</text><text transform="translate(249.68,305.48) scale(0.9988,1)" font-size="7.07" style="fill:#444;stroke:#444">3/2</text>
</svg></body></html>
